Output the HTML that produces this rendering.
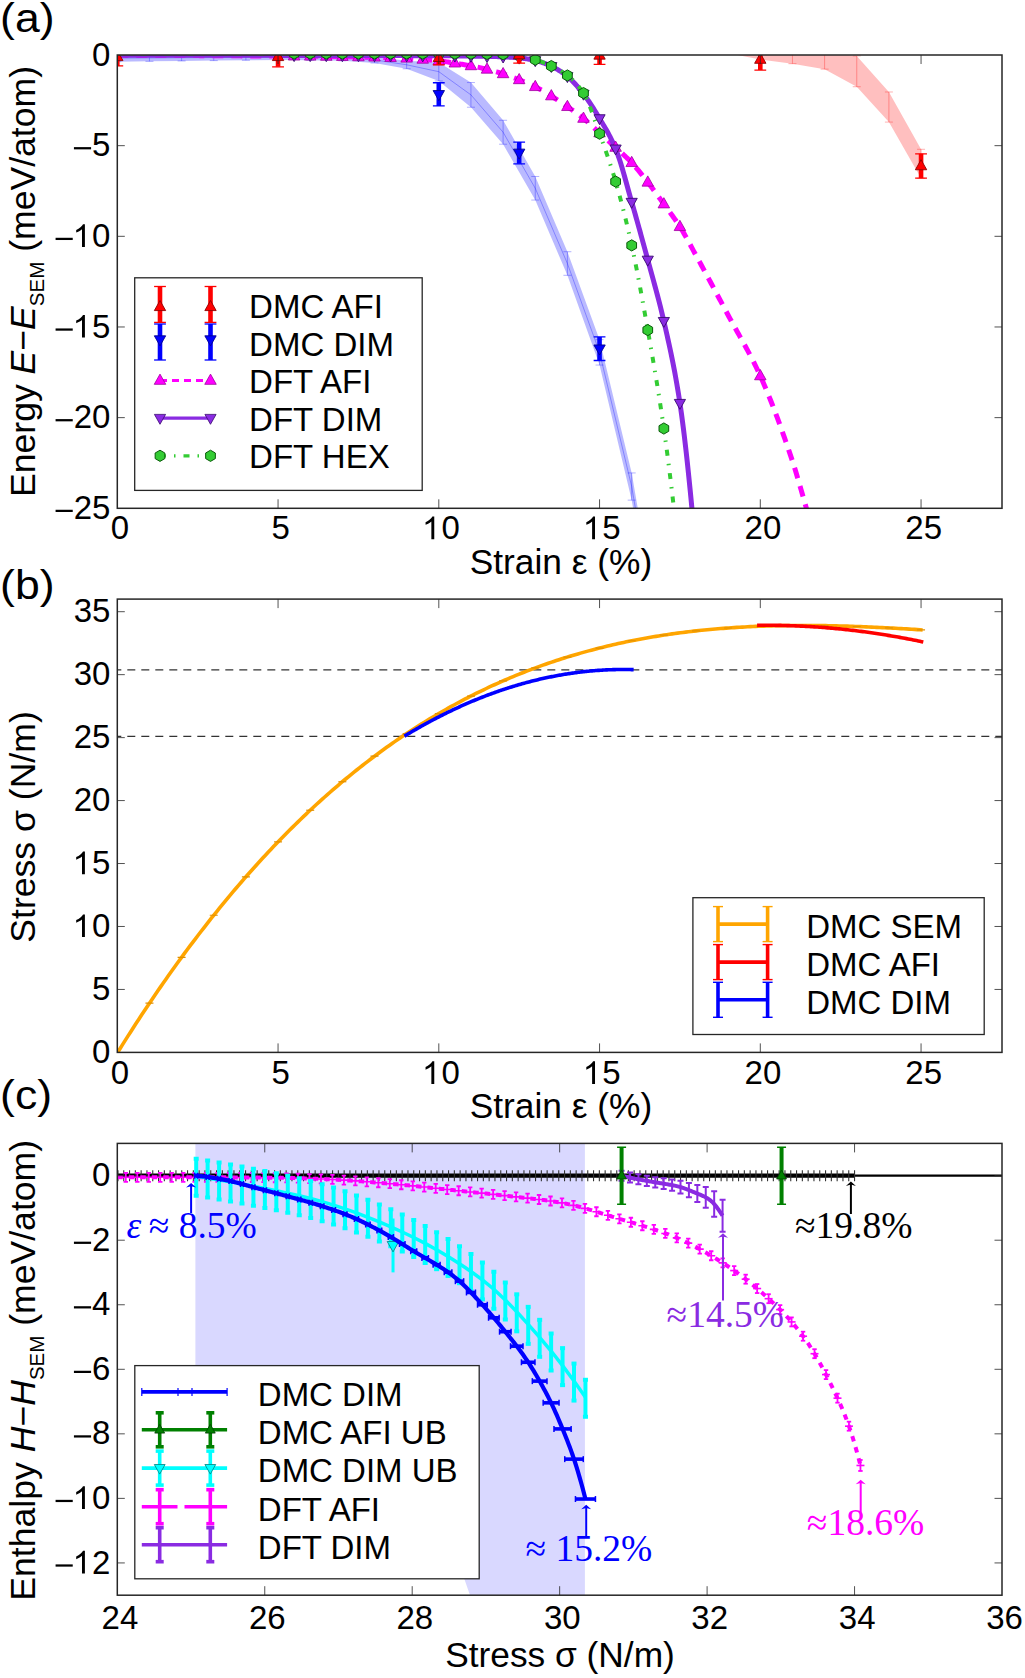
<!DOCTYPE html>
<html><head><meta charset="utf-8"><title>figure</title>
<style>html,body{margin:0;padding:0;background:#fff;}svg{display:block;}</style>
</head><body>
<svg width="1025" height="1678" viewBox="0 0 1025 1678">
<rect width="1025" height="1678" fill="#fff"/>
<defs>
<clipPath id="ca"><rect x="117.30" y="55.00" width="884.70" height="453.30"/></clipPath>
<clipPath id="cb"><rect x="117.30" y="599.10" width="884.70" height="453.30"/></clipPath>
<clipPath id="cc"><rect x="117.30" y="1143.40" width="884.70" height="451.80"/></clipPath>
</defs>
<g clip-path="url(#ca)">
<polygon points="117.30,54.46 149.45,54.46 181.60,54.46 213.75,54.46 245.90,54.46 278.05,54.64 310.20,54.82 342.35,55.36 374.50,56.81 406.65,60.80 438.80,62.43 470.95,82.56 503.10,120.28 535.25,176.48 567.40,251.73 599.55,339.67 631.70,472.94 647.77,566.32 647.77,595.33 631.70,500.14 599.55,365.06 567.40,275.30 535.25,200.06 503.10,144.21 470.95,107.22 438.80,80.93 406.65,68.78 374.50,62.98 342.35,60.80 310.20,60.26 278.05,60.08 245.90,60.26 213.75,60.62 181.60,60.98 149.45,61.35 117.30,61.71" fill="#0000ff" fill-opacity="0.27" stroke="none"/>
<polyline fill="none" stroke="#0000ff" stroke-width="1.0" points="117.30,58.08 149.45,57.90 181.60,57.72 213.75,57.54 245.90,57.36 278.05,57.36 310.20,57.54 342.35,58.08 374.50,59.90 406.65,64.79 438.80,71.68 470.95,94.89 503.10,132.24 535.25,188.27 567.40,263.52 599.55,352.36 631.70,486.54 647.77,580.83" stroke-opacity="0.3"/>
<g stroke-opacity="0.3"><line x1="117.30" y1="54.46" x2="117.30" y2="61.71" stroke="#0000ff" stroke-width="1.0"/><line x1="113.30" y1="54.46" x2="121.30" y2="54.46" stroke="#0000ff" stroke-width="1.0"/><line x1="113.30" y1="61.71" x2="121.30" y2="61.71" stroke="#0000ff" stroke-width="1.0"/></g>
<g stroke-opacity="0.3"><line x1="149.45" y1="54.46" x2="149.45" y2="61.35" stroke="#0000ff" stroke-width="1.0"/><line x1="145.45" y1="54.46" x2="153.45" y2="54.46" stroke="#0000ff" stroke-width="1.0"/><line x1="145.45" y1="61.35" x2="153.45" y2="61.35" stroke="#0000ff" stroke-width="1.0"/></g>
<g stroke-opacity="0.3"><line x1="181.60" y1="54.46" x2="181.60" y2="60.98" stroke="#0000ff" stroke-width="1.0"/><line x1="177.60" y1="54.46" x2="185.60" y2="54.46" stroke="#0000ff" stroke-width="1.0"/><line x1="177.60" y1="60.98" x2="185.60" y2="60.98" stroke="#0000ff" stroke-width="1.0"/></g>
<g stroke-opacity="0.3"><line x1="213.75" y1="54.46" x2="213.75" y2="60.62" stroke="#0000ff" stroke-width="1.0"/><line x1="209.75" y1="54.46" x2="217.75" y2="54.46" stroke="#0000ff" stroke-width="1.0"/><line x1="209.75" y1="60.62" x2="217.75" y2="60.62" stroke="#0000ff" stroke-width="1.0"/></g>
<g stroke-opacity="0.3"><line x1="245.90" y1="54.46" x2="245.90" y2="60.26" stroke="#0000ff" stroke-width="1.0"/><line x1="241.90" y1="54.46" x2="249.90" y2="54.46" stroke="#0000ff" stroke-width="1.0"/><line x1="241.90" y1="60.26" x2="249.90" y2="60.26" stroke="#0000ff" stroke-width="1.0"/></g>
<g stroke-opacity="0.3"><line x1="278.05" y1="54.64" x2="278.05" y2="60.08" stroke="#0000ff" stroke-width="1.0"/><line x1="274.05" y1="54.64" x2="282.05" y2="54.64" stroke="#0000ff" stroke-width="1.0"/><line x1="274.05" y1="60.08" x2="282.05" y2="60.08" stroke="#0000ff" stroke-width="1.0"/></g>
<g stroke-opacity="0.3"><line x1="310.20" y1="54.82" x2="310.20" y2="60.26" stroke="#0000ff" stroke-width="1.0"/><line x1="306.20" y1="54.82" x2="314.20" y2="54.82" stroke="#0000ff" stroke-width="1.0"/><line x1="306.20" y1="60.26" x2="314.20" y2="60.26" stroke="#0000ff" stroke-width="1.0"/></g>
<g stroke-opacity="0.3"><line x1="342.35" y1="55.36" x2="342.35" y2="60.80" stroke="#0000ff" stroke-width="1.0"/><line x1="338.35" y1="55.36" x2="346.35" y2="55.36" stroke="#0000ff" stroke-width="1.0"/><line x1="338.35" y1="60.80" x2="346.35" y2="60.80" stroke="#0000ff" stroke-width="1.0"/></g>
<g stroke-opacity="0.3"><line x1="374.50" y1="56.81" x2="374.50" y2="62.98" stroke="#0000ff" stroke-width="1.0"/><line x1="370.50" y1="56.81" x2="378.50" y2="56.81" stroke="#0000ff" stroke-width="1.0"/><line x1="370.50" y1="62.98" x2="378.50" y2="62.98" stroke="#0000ff" stroke-width="1.0"/></g>
<g stroke-opacity="0.3"><line x1="406.65" y1="60.80" x2="406.65" y2="68.78" stroke="#0000ff" stroke-width="1.0"/><line x1="402.65" y1="60.80" x2="410.65" y2="60.80" stroke="#0000ff" stroke-width="1.0"/><line x1="402.65" y1="68.78" x2="410.65" y2="68.78" stroke="#0000ff" stroke-width="1.0"/></g>
<g stroke-opacity="0.3"><line x1="438.80" y1="62.43" x2="438.80" y2="80.93" stroke="#0000ff" stroke-width="1.0"/><line x1="434.80" y1="62.43" x2="442.80" y2="62.43" stroke="#0000ff" stroke-width="1.0"/><line x1="434.80" y1="80.93" x2="442.80" y2="80.93" stroke="#0000ff" stroke-width="1.0"/></g>
<g stroke-opacity="0.3"><line x1="470.95" y1="82.56" x2="470.95" y2="107.22" stroke="#0000ff" stroke-width="1.0"/><line x1="466.95" y1="82.56" x2="474.95" y2="82.56" stroke="#0000ff" stroke-width="1.0"/><line x1="466.95" y1="107.22" x2="474.95" y2="107.22" stroke="#0000ff" stroke-width="1.0"/></g>
<g stroke-opacity="0.3"><line x1="503.10" y1="120.28" x2="503.10" y2="144.21" stroke="#0000ff" stroke-width="1.0"/><line x1="499.10" y1="120.28" x2="507.10" y2="120.28" stroke="#0000ff" stroke-width="1.0"/><line x1="499.10" y1="144.21" x2="507.10" y2="144.21" stroke="#0000ff" stroke-width="1.0"/></g>
<g stroke-opacity="0.3"><line x1="535.25" y1="176.48" x2="535.25" y2="200.06" stroke="#0000ff" stroke-width="1.0"/><line x1="531.25" y1="176.48" x2="539.25" y2="176.48" stroke="#0000ff" stroke-width="1.0"/><line x1="531.25" y1="200.06" x2="539.25" y2="200.06" stroke="#0000ff" stroke-width="1.0"/></g>
<g stroke-opacity="0.3"><line x1="567.40" y1="251.73" x2="567.40" y2="275.30" stroke="#0000ff" stroke-width="1.0"/><line x1="563.40" y1="251.73" x2="571.40" y2="251.73" stroke="#0000ff" stroke-width="1.0"/><line x1="563.40" y1="275.30" x2="571.40" y2="275.30" stroke="#0000ff" stroke-width="1.0"/></g>
<g stroke-opacity="0.3"><line x1="599.55" y1="339.67" x2="599.55" y2="365.06" stroke="#0000ff" stroke-width="1.0"/><line x1="595.55" y1="339.67" x2="603.55" y2="339.67" stroke="#0000ff" stroke-width="1.0"/><line x1="595.55" y1="365.06" x2="603.55" y2="365.06" stroke="#0000ff" stroke-width="1.0"/></g>
<g stroke-opacity="0.3"><line x1="631.70" y1="472.94" x2="631.70" y2="500.14" stroke="#0000ff" stroke-width="1.0"/><line x1="627.70" y1="472.94" x2="635.70" y2="472.94" stroke="#0000ff" stroke-width="1.0"/><line x1="627.70" y1="500.14" x2="635.70" y2="500.14" stroke="#0000ff" stroke-width="1.0"/></g>
<polygon points="728.15,38.68 760.30,44.12 792.45,49.56 824.60,52.28 856.75,55.91 888.90,91.99 921.05,149.29 921.05,178.30 888.90,122.09 856.75,86.73 824.60,69.14 792.45,63.70 760.30,59.53 728.15,53.19" fill="#ff0000" fill-opacity="0.25" stroke="none"/>
<g stroke-opacity="0.3"><line x1="728.15" y1="38.68" x2="728.15" y2="53.19" stroke="#ff0000" stroke-width="1.0"/><line x1="724.15" y1="38.68" x2="732.15" y2="38.68" stroke="#ff0000" stroke-width="1.0"/><line x1="724.15" y1="53.19" x2="732.15" y2="53.19" stroke="#ff0000" stroke-width="1.0"/></g>
<g stroke-opacity="0.3"><line x1="760.30" y1="44.12" x2="760.30" y2="59.53" stroke="#ff0000" stroke-width="1.0"/><line x1="756.30" y1="44.12" x2="764.30" y2="44.12" stroke="#ff0000" stroke-width="1.0"/><line x1="756.30" y1="59.53" x2="764.30" y2="59.53" stroke="#ff0000" stroke-width="1.0"/></g>
<g stroke-opacity="0.3"><line x1="792.45" y1="49.56" x2="792.45" y2="63.70" stroke="#ff0000" stroke-width="1.0"/><line x1="788.45" y1="49.56" x2="796.45" y2="49.56" stroke="#ff0000" stroke-width="1.0"/><line x1="788.45" y1="63.70" x2="796.45" y2="63.70" stroke="#ff0000" stroke-width="1.0"/></g>
<g stroke-opacity="0.3"><line x1="824.60" y1="52.28" x2="824.60" y2="69.14" stroke="#ff0000" stroke-width="1.0"/><line x1="820.60" y1="52.28" x2="828.60" y2="52.28" stroke="#ff0000" stroke-width="1.0"/><line x1="820.60" y1="69.14" x2="828.60" y2="69.14" stroke="#ff0000" stroke-width="1.0"/></g>
<g stroke-opacity="0.3"><line x1="856.75" y1="55.91" x2="856.75" y2="86.73" stroke="#ff0000" stroke-width="1.0"/><line x1="852.75" y1="55.91" x2="860.75" y2="55.91" stroke="#ff0000" stroke-width="1.0"/><line x1="852.75" y1="86.73" x2="860.75" y2="86.73" stroke="#ff0000" stroke-width="1.0"/></g>
<g stroke-opacity="0.3"><line x1="888.90" y1="91.99" x2="888.90" y2="122.09" stroke="#ff0000" stroke-width="1.0"/><line x1="884.90" y1="91.99" x2="892.90" y2="91.99" stroke="#ff0000" stroke-width="1.0"/><line x1="884.90" y1="122.09" x2="892.90" y2="122.09" stroke="#ff0000" stroke-width="1.0"/></g>
<g stroke-opacity="0.3"><line x1="921.05" y1="149.29" x2="921.05" y2="178.30" stroke="#ff0000" stroke-width="1.0"/><line x1="917.05" y1="149.29" x2="925.05" y2="149.29" stroke="#ff0000" stroke-width="1.0"/><line x1="917.05" y1="178.30" x2="925.05" y2="178.30" stroke="#ff0000" stroke-width="1.0"/></g>
<polyline fill="none" stroke="#ff00ff" stroke-width="5.0" points="117.30,55.36 118.48,55.36 119.66,55.37 120.84,55.37 122.02,55.37 123.20,55.37 124.38,55.37 125.57,55.38 126.75,55.38 127.93,55.38 129.11,55.38 130.29,55.39 131.47,55.39 132.65,55.39 133.83,55.39 135.01,55.40 136.19,55.40 137.37,55.40 138.55,55.40 139.74,55.41 140.92,55.41 142.10,55.41 143.28,55.42 144.46,55.42 145.64,55.42 146.82,55.43 148.00,55.43 149.18,55.43 150.36,55.44 151.54,55.44 152.72,55.44 153.90,55.45 155.09,55.45 156.27,55.46 157.45,55.46 158.63,55.46 159.81,55.47 160.99,55.47 162.17,55.47 163.35,55.48 164.53,55.48 165.71,55.49 166.89,55.49 168.07,55.49 169.26,55.50 170.44,55.50 171.62,55.51 172.80,55.51 173.98,55.52 175.16,55.52 176.34,55.52 177.52,55.53 178.70,55.53 179.88,55.54 181.06,55.54 182.24,55.55 183.42,55.55 184.61,55.56 185.79,55.56 186.97,55.57 188.15,55.57 189.33,55.58 190.51,55.58 191.69,55.59 192.87,55.59 194.05,55.60 195.23,55.60 196.41,55.61 197.59,55.62 198.78,55.62 199.96,55.63 201.14,55.64 202.32,55.64 203.50,55.65 204.68,55.66 205.86,55.66 207.04,55.67 208.22,55.68 209.40,55.68 210.58,55.69 211.76,55.70 212.94,55.71 214.13,55.71 215.31,55.72 216.49,55.73 217.67,55.73 218.85,55.74 220.03,55.75 221.21,55.76 222.39,55.76 223.57,55.77 224.75,55.78 225.93,55.79 227.11,55.79 228.30,55.80 229.48,55.81 230.66,55.82 231.84,55.82 233.02,55.83 234.20,55.84 235.38,55.84 236.56,55.85 237.74,55.86 238.92,55.87 240.10,55.87 241.28,55.88 242.46,55.89 243.65,55.89 244.83,55.90 246.01,55.91 247.19,55.91 248.37,55.92 249.55,55.93 250.73,55.93 251.91,55.94 253.09,55.95 254.27,55.95 255.45,55.96 256.63,55.96 257.82,55.97 259.00,55.98 260.18,55.98 261.36,55.99 262.54,55.99 263.72,56.00 264.90,56.00 266.08,56.01 267.26,56.02 268.44,56.02 269.62,56.03 270.80,56.03 271.98,56.04 273.17,56.04 274.35,56.05 275.53,56.06 276.71,56.06 277.89,56.07 279.07,56.07 280.25,56.08 281.43,56.09 282.61,56.09 283.79,56.10 284.97,56.10 286.15,56.11 287.34,56.12 288.52,56.12 289.70,56.13 290.88,56.14 292.06,56.14 293.24,56.15 294.42,56.16 295.60,56.17 296.78,56.17 297.96,56.18 299.14,56.19 300.32,56.20 301.51,56.20 302.69,56.21 303.87,56.22 305.05,56.23 306.23,56.24 307.41,56.25 308.59,56.26 309.77,56.27 310.95,56.28 312.13,56.29 313.31,56.30 314.49,56.31 315.67,56.32 316.86,56.33 318.04,56.34 319.22,56.35 320.40,56.36 321.58,56.37 322.76,56.38 323.94,56.40 325.12,56.41 326.30,56.42 327.48,56.43 328.66,56.45 329.84,56.46 331.03,56.47 332.21,56.49 333.39,56.50 334.57,56.52 335.75,56.53 336.93,56.55 338.11,56.56 339.29,56.58 340.47,56.59 341.65,56.61 342.83,56.63 344.01,56.64 345.19,56.66 346.38,56.68 347.56,56.69 348.74,56.71 349.92,56.73 351.10,56.75 352.28,56.77 353.46,56.79 354.64,56.81 355.82,56.83 357.00,56.85 358.18,56.87 359.36,56.89 360.55,56.91 361.73,56.93 362.91,56.95 364.09,56.97 365.27,56.99 366.45,57.02 367.63,57.04 368.81,57.06 369.99,57.08 371.17,57.11 372.35,57.13 373.53,57.16 374.71,57.18 375.90,57.21 377.08,57.23 378.26,57.26 379.44,57.29 380.62,57.32 381.80,57.35 382.98,57.38 384.16,57.41 385.34,57.45 386.52,57.48 387.70,57.52 388.88,57.56 390.07,57.60 391.25,57.64 392.43,57.68 393.61,57.72 394.79,57.77 395.97,57.81 397.15,57.86 398.33,57.90 399.51,57.95 400.69,58.00 401.87,58.05 403.05,58.10 404.23,58.15 405.42,58.21 406.60,58.26 407.78,58.32 408.96,58.38 410.14,58.45 411.32,58.52 412.50,58.60 413.68,58.68 414.86,58.76 416.04,58.84 417.22,58.93 418.40,59.02 419.59,59.11 420.77,59.20 421.95,59.29 423.13,59.38 424.31,59.47 425.49,59.57 426.67,59.66 427.85,59.76 429.03,59.86 430.21,59.96 431.39,60.06 432.57,60.17 433.75,60.28 434.94,60.40 436.12,60.52 437.30,60.64 438.48,60.77 439.66,60.90 440.84,61.04 442.02,61.20 443.20,61.36 444.38,61.52 445.56,61.70 446.74,61.88 447.92,62.06 449.11,62.24 450.29,62.43 451.47,62.62 452.65,62.81 453.83,62.99 455.01,63.18 456.19,63.37 457.37,63.55 458.55,63.74 459.73,63.93 460.91,64.12 462.09,64.32 463.27,64.52 464.46,64.72 465.64,64.92 466.82,65.13 468.00,65.34 469.18,65.55 470.36,65.77 471.54,65.99 472.72,66.22 473.90,66.45 475.08,66.68 476.26,66.92 477.44,67.17 478.63,67.42 479.81,67.67 480.99,67.93 482.17,68.19 483.35,68.46 484.53,68.73 485.71,69.01 486.89,69.29 488.07,69.58 489.25,69.88 490.43,70.18 491.61,70.49 492.79,70.81 493.98,71.13 495.16,71.46 496.34,71.80 497.52,72.14 498.70,72.49 499.88,72.85 501.06,73.21 502.24,73.58 503.42,73.96 504.60,74.35 505.78,74.75 506.96,75.16 508.15,75.58 509.33,76.02 510.51,76.46 511.69,76.90 512.87,77.36 514.05,77.81 515.23,78.28 516.41,78.74 517.59,79.21 518.77,79.68 519.95,80.15 521.13,80.62 522.31,81.09 523.50,81.57 524.68,82.05 525.86,82.53 527.04,83.03 528.22,83.53 529.40,84.03 530.58,84.55 531.76,85.08 532.94,85.63 534.12,86.18 535.30,86.76 536.48,87.35 537.67,87.96 538.85,88.59 540.03,89.24 541.21,89.90 542.39,90.58 543.57,91.27 544.75,91.97 545.93,92.67 547.11,93.39 548.29,94.11 549.47,94.84 550.65,95.56 551.83,96.29 553.02,97.03 554.20,97.78 555.38,98.54 556.56,99.31 557.74,100.09 558.92,100.87 560.10,101.66 561.28,102.46 562.46,103.26 563.64,104.07 564.82,104.89 566.00,105.70 567.19,106.53 568.37,107.35 569.55,108.17 570.73,109.00 571.91,109.83 573.09,110.66 574.27,111.51 575.45,112.36 576.63,113.21 577.81,114.08 578.99,114.97 580.17,115.86 581.35,116.78 582.54,117.71 583.72,118.66 584.90,119.64 586.08,120.64 587.26,121.67 588.44,122.72 589.62,123.79 590.80,124.87 591.98,125.96 593.16,127.06 594.34,128.16 595.52,129.26 596.71,130.36 597.89,131.45 599.07,132.53 600.25,133.60 601.43,134.66 602.61,135.72 603.79,136.78 604.97,137.83 606.15,138.89 607.33,139.95 608.51,141.01 609.69,142.07 610.87,143.14 612.06,144.20 613.24,145.28 614.42,146.36 615.60,147.45 616.78,148.53 617.96,149.61 619.14,150.68 620.32,151.75 621.50,152.83 622.68,153.90 623.86,154.99 625.04,156.09 626.23,157.21 627.41,158.34 628.59,159.50 629.77,160.69 630.95,161.91 632.13,163.16 633.31,164.46 634.49,165.79 635.67,167.15 636.85,168.55 638.03,169.97 639.21,171.41 640.39,172.88 641.58,174.36 642.76,175.86 643.94,177.36 645.12,178.88 646.30,180.39 647.48,181.91 648.66,183.43 649.84,184.97 651.02,186.52 652.20,188.09 653.38,189.67 654.56,191.27 655.75,192.88 656.93,194.49 658.11,196.11 659.29,197.74 660.47,199.37 661.65,201.00 662.83,202.64 664.01,204.27 665.19,205.89 666.37,207.50 667.55,209.10 668.73,210.69 669.92,212.29 671.10,213.90 672.28,215.53 673.46,217.17 674.64,218.83 675.82,220.52 677.00,222.25 678.18,224.02 679.36,225.83 680.54,227.69 681.72,229.61 682.90,231.59 684.08,233.62 685.27,235.69 686.45,237.80 687.63,239.94 688.81,242.10 689.99,244.27 691.17,246.46 692.35,248.65 693.53,250.83 694.71,253.01 695.89,255.16 697.07,257.31 698.25,259.46 699.44,261.62 700.62,263.79 701.80,265.96 702.98,268.14 704.16,270.32 705.34,272.50 706.52,274.69 707.70,276.89 708.88,279.08 710.06,281.28 711.24,283.49 712.42,285.69 713.60,287.90 714.79,290.11 715.97,292.32 717.15,294.54 718.33,296.75 719.51,298.97 720.69,301.19 721.87,303.41 723.05,305.62 724.23,307.84 725.41,310.06 726.59,312.27 727.77,314.49 728.96,316.70 730.14,318.88 731.32,321.05 732.50,323.20 733.68,325.34 734.86,327.46 736.04,329.57 737.22,331.68 738.40,333.79 739.58,335.90 740.76,338.01 741.94,340.12 743.12,342.25 744.31,344.38 745.49,346.53 746.67,348.70 747.85,350.89 749.03,353.10 750.21,355.34 751.39,357.60 752.57,359.90 753.75,362.23 754.93,364.61 756.11,367.02 757.29,369.47 758.48,371.97 759.66,374.52 760.84,377.13 762.02,379.77 763.20,382.47 764.38,385.20 765.56,387.98 766.74,390.80 767.92,393.67 769.10,396.57 770.28,399.51 771.46,402.50 772.64,405.52 773.83,408.58 775.01,411.67 776.19,414.80 777.37,417.97 778.55,421.17 779.73,424.40 780.91,427.67 782.09,430.97 783.27,434.30 784.45,437.66 785.63,441.05 786.81,444.47 788.00,447.91 789.18,451.39 790.36,454.89 791.54,458.41 792.72,461.97 793.90,465.62 795.08,469.37 796.26,473.23 797.44,477.17 798.62,481.18 799.80,485.24 800.98,489.34 802.16,493.47 803.35,497.61 804.53,501.75 805.71,505.87 806.89,509.96 808.07,514.00 809.25,518.00 810.43,522.00 811.61,526.00 812.79,529.99 813.97,533.99 815.15,537.98 816.33,541.98 817.52,545.97 818.70,549.97 819.88,553.97 821.06,557.96 822.24,561.96 823.42,565.95 824.60,569.95" stroke-dasharray="11,8"/>
<polyline fill="none" stroke="#8a2be2" stroke-width="5.0" points="117.30,55.36 118.27,55.36 119.23,55.36 120.20,55.36 121.16,55.36 122.13,55.36 123.10,55.36 124.06,55.36 125.03,55.36 125.99,55.36 126.96,55.36 127.93,55.36 128.89,55.36 129.86,55.36 130.83,55.36 131.79,55.36 132.76,55.36 133.72,55.36 134.69,55.36 135.66,55.36 136.62,55.36 137.59,55.36 138.55,55.36 139.52,55.36 140.49,55.36 141.45,55.36 142.42,55.36 143.38,55.36 144.35,55.36 145.32,55.36 146.28,55.36 147.25,55.36 148.22,55.36 149.18,55.36 150.15,55.36 151.11,55.36 152.08,55.36 153.05,55.36 154.01,55.36 154.98,55.36 155.94,55.36 156.91,55.36 157.88,55.36 158.84,55.36 159.81,55.36 160.77,55.36 161.74,55.36 162.71,55.36 163.67,55.36 164.64,55.36 165.61,55.36 166.57,55.36 167.54,55.36 168.50,55.36 169.47,55.36 170.44,55.36 171.40,55.36 172.37,55.36 173.33,55.36 174.30,55.36 175.27,55.36 176.23,55.36 177.20,55.36 178.16,55.36 179.13,55.36 180.10,55.36 181.06,55.36 182.03,55.36 183.00,55.36 183.96,55.36 184.93,55.36 185.89,55.36 186.86,55.36 187.83,55.36 188.79,55.36 189.76,55.36 190.72,55.36 191.69,55.36 192.66,55.36 193.62,55.36 194.59,55.36 195.55,55.36 196.52,55.36 197.49,55.36 198.45,55.36 199.42,55.36 200.39,55.36 201.35,55.36 202.32,55.36 203.28,55.36 204.25,55.36 205.22,55.36 206.18,55.36 207.15,55.36 208.11,55.36 209.08,55.36 210.05,55.36 211.01,55.36 211.98,55.36 212.94,55.36 213.91,55.36 214.88,55.36 215.84,55.36 216.81,55.36 217.78,55.36 218.74,55.36 219.71,55.36 220.67,55.36 221.64,55.36 222.61,55.36 223.57,55.36 224.54,55.36 225.50,55.36 226.47,55.36 227.44,55.36 228.40,55.36 229.37,55.36 230.33,55.36 231.30,55.36 232.27,55.36 233.23,55.36 234.20,55.36 235.17,55.36 236.13,55.36 237.10,55.36 238.06,55.36 239.03,55.36 240.00,55.36 240.96,55.36 241.93,55.36 242.89,55.36 243.86,55.36 244.83,55.36 245.79,55.36 246.76,55.36 247.72,55.36 248.69,55.36 249.66,55.36 250.62,55.36 251.59,55.36 252.56,55.36 253.52,55.36 254.49,55.36 255.45,55.36 256.42,55.36 257.39,55.36 258.35,55.37 259.32,55.37 260.28,55.37 261.25,55.37 262.22,55.37 263.18,55.37 264.15,55.37 265.11,55.37 266.08,55.37 267.05,55.37 268.01,55.37 268.98,55.37 269.95,55.37 270.91,55.37 271.88,55.37 272.84,55.37 273.81,55.38 274.78,55.38 275.74,55.38 276.71,55.38 277.67,55.38 278.64,55.38 279.61,55.38 280.57,55.38 281.54,55.38 282.50,55.38 283.47,55.38 284.44,55.39 285.40,55.39 286.37,55.39 287.34,55.39 288.30,55.39 289.27,55.39 290.23,55.39 291.20,55.39 292.17,55.40 293.13,55.40 294.10,55.40 295.06,55.40 296.03,55.40 297.00,55.40 297.96,55.40 298.93,55.40 299.89,55.41 300.86,55.41 301.83,55.41 302.79,55.41 303.76,55.41 304.73,55.41 305.69,55.41 306.66,55.42 307.62,55.42 308.59,55.42 309.56,55.42 310.52,55.42 311.49,55.42 312.45,55.43 313.42,55.43 314.39,55.43 315.35,55.43 316.32,55.43 317.28,55.43 318.25,55.44 319.22,55.44 320.18,55.44 321.15,55.44 322.12,55.44 323.08,55.44 324.05,55.45 325.01,55.45 325.98,55.45 326.95,55.45 327.91,55.45 328.88,55.45 329.84,55.46 330.81,55.46 331.78,55.46 332.74,55.46 333.71,55.46 334.67,55.47 335.64,55.47 336.61,55.47 337.57,55.47 338.54,55.47 339.51,55.47 340.47,55.48 341.44,55.48 342.40,55.48 343.37,55.48 344.34,55.48 345.30,55.49 346.27,55.49 347.23,55.49 348.20,55.49 349.17,55.49 350.13,55.50 351.10,55.50 352.06,55.50 353.03,55.50 354.00,55.50 354.96,55.51 355.93,55.51 356.90,55.51 357.86,55.51 358.83,55.51 359.79,55.51 360.76,55.52 361.73,55.52 362.69,55.52 363.66,55.52 364.62,55.52 365.59,55.53 366.56,55.53 367.52,55.53 368.49,55.53 369.45,55.53 370.42,55.54 371.39,55.54 372.35,55.54 373.32,55.54 374.29,55.54 375.25,55.55 376.22,55.55 377.18,55.55 378.15,55.55 379.12,55.55 380.08,55.55 381.05,55.56 382.01,55.56 382.98,55.56 383.95,55.56 384.91,55.56 385.88,55.57 386.84,55.57 387.81,55.57 388.78,55.57 389.74,55.57 390.71,55.58 391.68,55.58 392.64,55.58 393.61,55.58 394.57,55.58 395.54,55.59 396.51,55.59 397.47,55.59 398.44,55.59 399.40,55.59 400.37,55.60 401.34,55.60 402.30,55.60 403.27,55.60 404.23,55.61 405.20,55.61 406.17,55.61 407.13,55.61 408.10,55.62 409.07,55.62 410.03,55.62 411.00,55.62 411.96,55.63 412.93,55.63 413.90,55.63 414.86,55.63 415.83,55.64 416.79,55.64 417.76,55.64 418.73,55.65 419.69,55.65 420.66,55.65 421.62,55.66 422.59,55.66 423.56,55.66 424.52,55.67 425.49,55.67 426.46,55.67 427.42,55.68 428.39,55.68 429.35,55.68 430.32,55.69 431.29,55.69 432.25,55.70 433.22,55.70 434.18,55.70 435.15,55.71 436.12,55.71 437.08,55.72 438.05,55.72 439.01,55.73 439.98,55.73 440.95,55.74 441.91,55.74 442.88,55.75 443.85,55.76 444.81,55.76 445.78,55.77 446.74,55.78 447.71,55.79 448.68,55.80 449.64,55.81 450.61,55.82 451.57,55.83 452.54,55.84 453.51,55.85 454.47,55.86 455.44,55.87 456.40,55.88 457.37,55.90 458.34,55.91 459.30,55.92 460.27,55.93 461.24,55.95 462.20,55.96 463.17,55.97 464.13,55.99 465.10,56.00 466.07,56.02 467.03,56.03 468.00,56.04 468.96,56.06 469.93,56.07 470.90,56.09 471.86,56.10 472.83,56.12 473.79,56.13 474.76,56.15 475.73,56.16 476.69,56.18 477.66,56.19 478.63,56.21 479.59,56.23 480.56,56.24 481.52,56.26 482.49,56.28 483.46,56.30 484.42,56.31 485.39,56.33 486.35,56.35 487.32,56.37 488.29,56.39 489.25,56.42 490.22,56.44 491.18,56.46 492.15,56.48 493.12,56.51 494.08,56.53 495.05,56.56 496.02,56.59 496.98,56.61 497.95,56.64 498.91,56.67 499.88,56.70 500.85,56.74 501.81,56.77 502.78,56.80 503.74,56.84 504.71,56.88 505.68,56.92 506.64,56.97 507.61,57.02 508.57,57.07 509.54,57.13 510.51,57.20 511.47,57.26 512.44,57.33 513.41,57.40 514.37,57.48 515.34,57.56 516.30,57.64 517.27,57.73 518.24,57.81 519.20,57.90 520.17,58.00 521.13,58.10 522.10,58.21 523.07,58.33 524.03,58.46 525.00,58.59 525.96,58.73 526.93,58.87 527.90,59.03 528.86,59.19 529.83,59.36 530.80,59.54 531.76,59.72 532.73,59.91 533.69,60.11 534.66,60.31 535.63,60.52 536.59,60.75 537.56,61.01 538.52,61.28 539.49,61.56 540.46,61.87 541.42,62.19 542.39,62.53 543.35,62.88 544.32,63.25 545.29,63.63 546.25,64.02 547.22,64.43 548.19,64.84 549.15,65.26 550.12,65.69 551.08,66.13 552.05,66.58 553.02,67.05 553.98,67.54 554.95,68.05 555.91,68.58 556.88,69.13 557.85,69.70 558.81,70.29 559.78,70.90 560.74,71.53 561.71,72.18 562.68,72.84 563.64,73.53 564.61,74.24 565.58,74.97 566.54,75.72 567.51,76.48 568.47,77.28 569.44,78.13 570.41,79.02 571.37,79.95 572.34,80.92 573.30,81.92 574.27,82.95 575.24,84.02 576.20,85.11 577.17,86.23 578.13,87.37 579.10,88.53 580.07,89.71 581.03,90.90 582.00,92.11 582.97,93.34 583.93,94.57 584.90,95.84 585.86,97.14 586.83,98.48 587.80,99.85 588.76,101.25 589.73,102.68 590.69,104.14 591.66,105.63 592.63,107.13 593.59,108.66 594.56,110.21 595.52,111.78 596.49,113.36 597.46,114.96 598.42,116.57 599.39,118.19 600.36,119.81 601.32,121.43 602.29,123.04 603.25,124.66 604.22,126.29 605.19,127.94 606.15,129.61 607.12,131.32 608.08,133.06 609.05,134.85 610.02,136.69 610.98,138.59 611.95,140.55 612.91,142.59 613.88,144.70 614.85,146.90 615.81,149.20 616.78,151.65 617.75,154.28 618.71,157.07 619.68,160.01 620.64,163.07 621.61,166.24 622.58,169.52 623.54,172.87 624.51,176.28 625.47,179.74 626.44,183.23 627.41,186.73 628.37,190.23 629.34,193.72 630.30,197.16 631.27,200.56 632.24,203.91 633.20,207.26 634.17,210.64 635.14,214.04 636.10,217.46 637.07,220.89 638.03,224.34 639.00,227.81 639.97,231.29 640.93,234.79 641.90,238.30 642.86,241.82 643.83,245.36 644.80,248.90 645.76,252.46 646.73,256.02 647.69,259.59 648.66,263.16 649.63,266.69 650.59,270.20 651.56,273.70 652.53,277.20 653.49,280.70 654.46,284.22 655.42,287.77 656.39,291.35 657.36,294.98 658.32,298.65 659.29,302.39 660.25,306.21 661.22,310.10 662.19,314.08 663.15,318.16 664.12,322.35 665.08,326.57 666.05,330.80 667.02,335.07 667.98,339.38 668.95,343.76 669.92,348.23 670.88,352.79 671.85,357.46 672.81,362.26 673.78,367.21 674.75,372.32 675.71,377.61 676.68,383.09 677.64,388.78 678.61,394.69 679.58,400.85 680.54,407.29 681.51,414.11 682.47,421.30 683.44,428.84 684.41,436.74 685.37,444.96 686.34,453.51 687.31,462.36 688.27,471.50 689.24,480.93 690.20,490.62 691.17,500.56 692.14,510.75 693.10,521.16 694.07,531.79 695.03,542.62 696.00,553.63" />
<polyline fill="none" stroke="#33cc33" stroke-width="4.0" points="117.30,53.55 118.24,53.55 119.18,53.55 120.12,53.55 121.06,53.55 122.00,53.55 122.94,53.55 123.87,53.55 124.81,53.55 125.75,53.55 126.69,53.55 127.63,53.55 128.57,53.55 129.51,53.55 130.45,53.55 131.39,53.55 132.33,53.55 133.27,53.55 134.21,53.55 135.15,53.55 136.09,53.55 137.02,53.55 137.96,53.55 138.90,53.55 139.84,53.55 140.78,53.55 141.72,53.55 142.66,53.55 143.60,53.55 144.54,53.55 145.48,53.55 146.42,53.55 147.36,53.55 148.30,53.55 149.24,53.55 150.17,53.55 151.11,53.55 152.05,53.55 152.99,53.55 153.93,53.55 154.87,53.55 155.81,53.55 156.75,53.55 157.69,53.55 158.63,53.55 159.57,53.55 160.51,53.55 161.45,53.55 162.39,53.55 163.32,53.55 164.26,53.55 165.20,53.55 166.14,53.55 167.08,53.55 168.02,53.55 168.96,53.55 169.90,53.55 170.84,53.55 171.78,53.55 172.72,53.55 173.66,53.55 174.60,53.55 175.53,53.55 176.47,53.55 177.41,53.55 178.35,53.55 179.29,53.55 180.23,53.55 181.17,53.55 182.11,53.55 183.05,53.55 183.99,53.55 184.93,53.55 185.87,53.55 186.81,53.55 187.75,53.55 188.68,53.55 189.62,53.55 190.56,53.55 191.50,53.55 192.44,53.55 193.38,53.55 194.32,53.55 195.26,53.55 196.20,53.55 197.14,53.55 198.08,53.55 199.02,53.55 199.96,53.55 200.90,53.55 201.83,53.55 202.77,53.55 203.71,53.55 204.65,53.55 205.59,53.55 206.53,53.55 207.47,53.55 208.41,53.55 209.35,53.55 210.29,53.55 211.23,53.55 212.17,53.55 213.11,53.55 214.05,53.55 214.98,53.55 215.92,53.55 216.86,53.55 217.80,53.55 218.74,53.55 219.68,53.55 220.62,53.55 221.56,53.55 222.50,53.55 223.44,53.55 224.38,53.55 225.32,53.55 226.26,53.55 227.20,53.55 228.13,53.55 229.07,53.55 230.01,53.55 230.95,53.55 231.89,53.55 232.83,53.55 233.77,53.55 234.71,53.55 235.65,53.55 236.59,53.55 237.53,53.55 238.47,53.55 239.41,53.55 240.34,53.55 241.28,53.55 242.22,53.55 243.16,53.55 244.10,53.55 245.04,53.55 245.98,53.55 246.92,53.55 247.86,53.55 248.80,53.55 249.74,53.55 250.68,53.55 251.62,53.55 252.56,53.55 253.49,53.55 254.43,53.55 255.37,53.55 256.31,53.55 257.25,53.55 258.19,53.55 259.13,53.55 260.07,53.55 261.01,53.55 261.95,53.55 262.89,53.55 263.83,53.55 264.77,53.55 265.71,53.55 266.64,53.55 267.58,53.55 268.52,53.55 269.46,53.55 270.40,53.55 271.34,53.55 272.28,53.55 273.22,53.55 274.16,53.55 275.10,53.55 276.04,53.55 276.98,53.55 277.92,53.55 278.86,53.55 279.79,53.55 280.73,53.55 281.67,53.55 282.61,53.55 283.55,53.55 284.49,53.55 285.43,53.55 286.37,53.55 287.31,53.55 288.25,53.55 289.19,53.55 290.13,53.55 291.07,53.55 292.00,53.55 292.94,53.55 293.88,53.55 294.82,53.55 295.76,53.55 296.70,53.55 297.64,53.55 298.58,53.55 299.52,53.55 300.46,53.55 301.40,53.55 302.34,53.55 303.28,53.55 304.22,53.55 305.15,53.55 306.09,53.55 307.03,53.55 307.97,53.55 308.91,53.55 309.85,53.55 310.79,53.55 311.73,53.55 312.67,53.55 313.61,53.55 314.55,53.55 315.49,53.55 316.43,53.55 317.37,53.55 318.30,53.55 319.24,53.55 320.18,53.55 321.12,53.55 322.06,53.55 323.00,53.55 323.94,53.55 324.88,53.55 325.82,53.55 326.76,53.55 327.70,53.55 328.64,53.55 329.58,53.55 330.52,53.55 331.45,53.55 332.39,53.55 333.33,53.55 334.27,53.55 335.21,53.55 336.15,53.55 337.09,53.55 338.03,53.55 338.97,53.55 339.91,53.55 340.85,53.55 341.79,53.55 342.73,53.55 343.66,53.55 344.60,53.55 345.54,53.55 346.48,53.55 347.42,53.55 348.36,53.55 349.30,53.55 350.24,53.55 351.18,53.55 352.12,53.55 353.06,53.55 354.00,53.55 354.94,53.55 355.88,53.55 356.81,53.55 357.75,53.55 358.69,53.55 359.63,53.55 360.57,53.55 361.51,53.55 362.45,53.55 363.39,53.55 364.33,53.55 365.27,53.55 366.21,53.55 367.15,53.55 368.09,53.55 369.03,53.55 369.96,53.55 370.90,53.55 371.84,53.55 372.78,53.55 373.72,53.55 374.66,53.55 375.60,53.55 376.54,53.55 377.48,53.55 378.42,53.55 379.36,53.55 380.30,53.55 381.24,53.55 382.18,53.55 383.11,53.55 384.05,53.55 384.99,53.55 385.93,53.55 386.87,53.55 387.81,53.55 388.75,53.55 389.69,53.55 390.63,53.55 391.57,53.55 392.51,53.55 393.45,53.55 394.39,53.55 395.33,53.55 396.26,53.55 397.20,53.55 398.14,53.55 399.08,53.55 400.02,53.55 400.96,53.55 401.90,53.55 402.84,53.55 403.78,53.55 404.72,53.55 405.66,53.55 406.60,53.55 407.54,53.55 408.47,53.55 409.41,53.55 410.35,53.55 411.29,53.55 412.23,53.55 413.17,53.55 414.11,53.55 415.05,53.55 415.99,53.55 416.93,53.55 417.87,53.55 418.81,53.55 419.75,53.55 420.69,53.55 421.62,53.55 422.56,53.55 423.50,53.55 424.44,53.55 425.38,53.55 426.32,53.55 427.26,53.55 428.20,53.55 429.14,53.55 430.08,53.55 431.02,53.55 431.96,53.55 432.90,53.55 433.84,53.55 434.77,53.55 435.71,53.55 436.65,53.55 437.59,53.55 438.53,53.55 439.47,53.55 440.41,53.55 441.35,53.55 442.29,53.55 443.23,53.55 444.17,53.56 445.11,53.56 446.05,53.56 446.99,53.57 447.92,53.57 448.86,53.57 449.80,53.58 450.74,53.58 451.68,53.59 452.62,53.59 453.56,53.60 454.50,53.60 455.44,53.61 456.38,53.62 457.32,53.62 458.26,53.63 459.20,53.64 460.13,53.64 461.07,53.65 462.01,53.66 462.95,53.66 463.89,53.67 464.83,53.68 465.77,53.69 466.71,53.70 467.65,53.70 468.59,53.71 469.53,53.72 470.47,53.73 471.41,53.73 472.35,53.74 473.28,53.75 474.22,53.76 475.16,53.77 476.10,53.78 477.04,53.79 477.98,53.80 478.92,53.81 479.86,53.82 480.80,53.83 481.74,53.84 482.68,53.85 483.62,53.86 484.56,53.88 485.50,53.89 486.43,53.90 487.37,53.92 488.31,53.93 489.25,53.95 490.19,53.97 491.13,53.98 492.07,54.00 493.01,54.02 493.95,54.04 494.89,54.06 495.83,54.08 496.77,54.10 497.71,54.13 498.65,54.15 499.58,54.17 500.52,54.20 501.46,54.23 502.40,54.25 503.34,54.28 504.28,54.32 505.22,54.36 506.16,54.41 507.10,54.47 508.04,54.54 508.98,54.61 509.92,54.69 510.86,54.77 511.79,54.86 512.73,54.95 513.67,55.06 514.61,55.16 515.55,55.27 516.49,55.38 517.43,55.50 518.37,55.62 519.31,55.74 520.25,55.88 521.19,56.03 522.13,56.20 523.07,56.39 524.01,56.59 524.94,56.81 525.88,57.03 526.82,57.27 527.76,57.52 528.70,57.78 529.64,58.04 530.58,58.31 531.52,58.59 532.46,58.87 533.40,59.15 534.34,59.44 535.28,59.72 536.22,60.01 537.16,60.32 538.09,60.63 539.03,60.96 539.97,61.29 540.91,61.64 541.85,61.99 542.79,62.36 543.73,62.73 544.67,63.11 545.61,63.50 546.55,63.90 547.49,64.31 548.43,64.73 549.37,65.15 550.31,65.58 551.24,66.02 552.18,66.47 553.12,66.92 554.06,67.38 555.00,67.85 555.94,68.33 556.88,68.82 557.82,69.33 558.76,69.85 559.70,70.38 560.64,70.93 561.58,71.50 562.52,72.09 563.46,72.69 564.39,73.32 565.33,73.97 566.27,74.65 567.21,75.35 568.15,76.07 569.09,76.82 570.03,77.60 570.97,78.41 571.91,79.26 572.85,80.13 573.79,81.05 574.73,82.00 575.67,82.99 576.60,84.03 577.54,85.11 578.48,86.24 579.42,87.41 580.36,88.63 581.30,89.91 582.24,91.24 583.18,92.63 584.12,94.11 585.06,95.76 586.00,97.59 586.94,99.57 587.88,101.70 588.82,103.94 589.75,106.30 590.69,108.76 591.63,111.29 592.57,113.89 593.51,116.53 594.45,119.21 595.39,121.91 596.33,124.61 597.27,127.30 598.21,129.97 599.15,132.59 600.09,135.16 601.03,137.74 601.97,140.33 602.90,142.93 603.84,145.56 604.78,148.21 605.72,150.88 606.66,153.58 607.60,156.32 608.54,159.10 609.48,161.91 610.42,164.77 611.36,167.67 612.30,170.63 613.24,173.64 614.18,176.71 615.12,179.84 616.05,183.03 616.99,186.29 617.93,189.61 618.87,192.99 619.81,196.44 620.75,199.94 621.69,203.51 622.63,207.15 623.57,210.84 624.51,214.60 625.45,218.41 626.39,222.29 627.33,226.23 628.26,230.24 629.20,234.30 630.14,238.42 631.08,242.60 632.02,246.85 632.96,251.20 633.90,255.66 634.84,260.23 635.78,264.89 636.72,269.64 637.66,274.47 638.60,279.38 639.54,284.37 640.48,289.41 641.41,294.51 642.35,299.67 643.29,304.86 644.23,310.10 645.17,315.36 646.11,320.65 647.05,325.96 647.99,331.28 648.93,336.60 649.87,341.93 650.81,347.28 651.75,352.66 652.69,358.07 653.63,363.53 654.56,369.05 655.50,374.63 656.44,380.28 657.38,386.02 658.32,391.85 659.26,397.78 660.20,403.82 661.14,409.98 662.08,416.27 663.02,422.70 663.96,429.28 664.90,436.01 665.84,442.90 666.78,449.94 667.71,457.13 668.65,464.47 669.59,471.95 670.53,479.57 671.47,487.32 672.41,495.21 673.35,503.23 674.29,511.37 675.23,519.64 676.17,528.02 677.11,536.52 678.05,545.14 678.99,553.86 679.92,562.70" stroke-dasharray="6,8,1.5,8"/>
<polygon points="294.12,49.76 288.37,60.00 299.88,60.00" fill="#ff00ff" stroke="#a000a0" stroke-width="0.8"/>
<polygon points="310.20,49.87 304.44,60.11 315.96,60.11" fill="#ff00ff" stroke="#a000a0" stroke-width="0.8"/>
<polygon points="326.27,50.02 320.51,60.26 332.03,60.26" fill="#ff00ff" stroke="#a000a0" stroke-width="0.8"/>
<polygon points="342.35,50.22 336.59,60.46 348.11,60.46" fill="#ff00ff" stroke="#a000a0" stroke-width="0.8"/>
<polygon points="358.43,50.47 352.67,60.71 364.19,60.71" fill="#ff00ff" stroke="#a000a0" stroke-width="0.8"/>
<polygon points="374.50,50.78 368.74,61.02 380.26,61.02" fill="#ff00ff" stroke="#a000a0" stroke-width="0.8"/>
<polygon points="390.57,51.22 384.81,61.46 396.33,61.46" fill="#ff00ff" stroke="#a000a0" stroke-width="0.8"/>
<polygon points="406.65,51.86 400.89,62.10 412.41,62.10" fill="#ff00ff" stroke="#a000a0" stroke-width="0.8"/>
<polygon points="422.73,52.95 416.97,63.19 428.49,63.19" fill="#ff00ff" stroke="#a000a0" stroke-width="0.8"/>
<polygon points="438.80,54.40 433.04,64.64 444.56,64.64" fill="#ff00ff" stroke="#a000a0" stroke-width="0.8"/>
<polygon points="454.88,56.76 449.12,67.00 460.63,67.00" fill="#ff00ff" stroke="#a000a0" stroke-width="0.8"/>
<polygon points="470.95,59.48 465.19,69.72 476.71,69.72" fill="#ff00ff" stroke="#a000a0" stroke-width="0.8"/>
<polygon points="487.02,62.92 481.26,73.16 492.78,73.16" fill="#ff00ff" stroke="#a000a0" stroke-width="0.8"/>
<polygon points="503.10,67.46 497.34,77.70 508.86,77.70" fill="#ff00ff" stroke="#a000a0" stroke-width="0.8"/>
<polygon points="519.17,73.44 513.41,83.68 524.93,83.68" fill="#ff00ff" stroke="#a000a0" stroke-width="0.8"/>
<polygon points="535.25,80.33 529.49,90.57 541.01,90.57" fill="#ff00ff" stroke="#a000a0" stroke-width="0.8"/>
<polygon points="551.32,89.58 545.56,99.82 557.08,99.82" fill="#ff00ff" stroke="#a000a0" stroke-width="0.8"/>
<polygon points="567.40,100.28 561.64,110.52 573.16,110.52" fill="#ff00ff" stroke="#a000a0" stroke-width="0.8"/>
<polygon points="583.47,112.06 577.71,122.30 589.23,122.30" fill="#ff00ff" stroke="#a000a0" stroke-width="0.8"/>
<polygon points="599.55,126.57 593.79,136.81 605.31,136.81" fill="#ff00ff" stroke="#a000a0" stroke-width="0.8"/>
<polygon points="615.62,141.07 609.87,151.31 621.38,151.31" fill="#ff00ff" stroke="#a000a0" stroke-width="0.8"/>
<polygon points="631.70,156.30 625.94,166.54 637.46,166.54" fill="#ff00ff" stroke="#a000a0" stroke-width="0.8"/>
<polygon points="647.77,175.89 642.01,186.13 653.53,186.13" fill="#ff00ff" stroke="#a000a0" stroke-width="0.8"/>
<polygon points="663.85,197.65 658.09,207.89 669.61,207.89" fill="#ff00ff" stroke="#a000a0" stroke-width="0.8"/>
<polygon points="679.92,220.31 674.16,230.55 685.68,230.55" fill="#ff00ff" stroke="#a000a0" stroke-width="0.8"/>
<polygon points="760.30,369.54 754.54,379.78 766.06,379.78" fill="#ff00ff" stroke="#a000a0" stroke-width="0.8"/>
<polygon points="294.12,61.60 288.55,51.68 299.70,51.68" fill="#8a2be2" stroke="#3a0a70" stroke-width="0.9"/>
<polygon points="310.20,61.62 304.62,51.70 315.78,51.70" fill="#8a2be2" stroke="#3a0a70" stroke-width="0.9"/>
<polygon points="326.27,61.65 320.69,51.73 331.85,51.73" fill="#8a2be2" stroke="#3a0a70" stroke-width="0.9"/>
<polygon points="342.35,61.68 336.77,51.76 347.93,51.76" fill="#8a2be2" stroke="#3a0a70" stroke-width="0.9"/>
<polygon points="358.43,61.71 352.85,51.79 364.00,51.79" fill="#8a2be2" stroke="#3a0a70" stroke-width="0.9"/>
<polygon points="374.50,61.74 368.92,51.82 380.08,51.82" fill="#8a2be2" stroke="#3a0a70" stroke-width="0.9"/>
<polygon points="390.57,61.78 385.00,51.86 396.15,51.86" fill="#8a2be2" stroke="#3a0a70" stroke-width="0.9"/>
<polygon points="406.65,61.81 401.07,51.89 412.23,51.89" fill="#8a2be2" stroke="#3a0a70" stroke-width="0.9"/>
<polygon points="422.73,61.86 417.15,51.94 428.31,51.94" fill="#8a2be2" stroke="#3a0a70" stroke-width="0.9"/>
<polygon points="438.80,61.93 433.22,52.01 444.38,52.01" fill="#8a2be2" stroke="#3a0a70" stroke-width="0.9"/>
<polygon points="454.88,62.07 449.30,52.15 460.45,52.15" fill="#8a2be2" stroke="#3a0a70" stroke-width="0.9"/>
<polygon points="470.95,62.29 465.37,52.37 476.53,52.37" fill="#8a2be2" stroke="#3a0a70" stroke-width="0.9"/>
<polygon points="487.02,62.57 481.44,52.65 492.60,52.65" fill="#8a2be2" stroke="#3a0a70" stroke-width="0.9"/>
<polygon points="503.10,63.01 497.52,53.09 508.68,53.09" fill="#8a2be2" stroke="#3a0a70" stroke-width="0.9"/>
<polygon points="519.17,64.10 513.59,54.18 524.75,54.18" fill="#8a2be2" stroke="#3a0a70" stroke-width="0.9"/>
<polygon points="535.25,66.64 529.67,56.72 540.83,56.72" fill="#8a2be2" stroke="#3a0a70" stroke-width="0.9"/>
<polygon points="551.32,72.44 545.74,62.52 556.90,62.52" fill="#8a2be2" stroke="#3a0a70" stroke-width="0.9"/>
<polygon points="567.40,82.60 561.82,72.68 572.98,72.68" fill="#8a2be2" stroke="#3a0a70" stroke-width="0.9"/>
<polygon points="583.47,100.18 577.89,90.26 589.05,90.26" fill="#8a2be2" stroke="#3a0a70" stroke-width="0.9"/>
<polygon points="599.55,124.66 593.97,114.74 605.13,114.74" fill="#8a2be2" stroke="#3a0a70" stroke-width="0.9"/>
<polygon points="615.62,154.94 610.04,145.02 621.21,145.02" fill="#8a2be2" stroke="#3a0a70" stroke-width="0.9"/>
<polygon points="631.70,208.25 626.12,198.33 637.28,198.33" fill="#8a2be2" stroke="#3a0a70" stroke-width="0.9"/>
<polygon points="647.77,266.09 642.19,256.17 653.36,256.17" fill="#8a2be2" stroke="#3a0a70" stroke-width="0.9"/>
<polygon points="663.85,327.38 658.27,317.46 669.43,317.46" fill="#8a2be2" stroke="#3a0a70" stroke-width="0.9"/>
<polygon points="679.92,409.33 674.34,399.41 685.50,399.41" fill="#8a2be2" stroke="#3a0a70" stroke-width="0.9"/>
<polygon points="294.12,47.95 298.97,50.75 298.97,56.35 294.12,59.15 289.28,56.35 289.28,50.75" fill="#33cc33" stroke="#0a5a0a" stroke-width="1.0"/>
<polygon points="310.20,47.95 315.05,50.75 315.05,56.35 310.20,59.15 305.35,56.35 305.35,50.75" fill="#33cc33" stroke="#0a5a0a" stroke-width="1.0"/>
<polygon points="326.27,47.95 331.12,50.75 331.12,56.35 326.27,59.15 321.43,56.35 321.43,50.75" fill="#33cc33" stroke="#0a5a0a" stroke-width="1.0"/>
<polygon points="342.35,47.95 347.20,50.75 347.20,56.35 342.35,59.15 337.50,56.35 337.50,50.75" fill="#33cc33" stroke="#0a5a0a" stroke-width="1.0"/>
<polygon points="358.43,47.95 363.27,50.75 363.27,56.35 358.43,59.15 353.58,56.35 353.58,50.75" fill="#33cc33" stroke="#0a5a0a" stroke-width="1.0"/>
<polygon points="374.50,47.95 379.35,50.75 379.35,56.35 374.50,59.15 369.65,56.35 369.65,50.75" fill="#33cc33" stroke="#0a5a0a" stroke-width="1.0"/>
<polygon points="390.57,47.95 395.42,50.75 395.42,56.35 390.57,59.15 385.73,56.35 385.73,50.75" fill="#33cc33" stroke="#0a5a0a" stroke-width="1.0"/>
<polygon points="406.65,47.95 411.50,50.75 411.50,56.35 406.65,59.15 401.80,56.35 401.80,50.75" fill="#33cc33" stroke="#0a5a0a" stroke-width="1.0"/>
<polygon points="422.73,47.95 427.57,50.75 427.57,56.35 422.73,59.15 417.88,56.35 417.88,50.75" fill="#33cc33" stroke="#0a5a0a" stroke-width="1.0"/>
<polygon points="438.80,47.95 443.65,50.75 443.65,56.35 438.80,59.15 433.95,56.35 433.95,50.75" fill="#33cc33" stroke="#0a5a0a" stroke-width="1.0"/>
<polygon points="454.88,48.01 459.72,50.81 459.72,56.41 454.88,59.21 450.03,56.41 450.03,50.81" fill="#33cc33" stroke="#0a5a0a" stroke-width="1.0"/>
<polygon points="470.95,48.13 475.80,50.93 475.80,56.53 470.95,59.33 466.10,56.53 466.10,50.93" fill="#33cc33" stroke="#0a5a0a" stroke-width="1.0"/>
<polygon points="487.02,48.31 491.87,51.11 491.87,56.71 487.02,59.51 482.18,56.71 482.18,51.11" fill="#33cc33" stroke="#0a5a0a" stroke-width="1.0"/>
<polygon points="503.10,48.67 507.95,51.47 507.95,57.07 503.10,59.87 498.25,57.07 498.25,51.47" fill="#33cc33" stroke="#0a5a0a" stroke-width="1.0"/>
<polygon points="519.17,50.13 524.02,52.93 524.02,58.53 519.17,61.33 514.33,58.53 514.33,52.93" fill="#33cc33" stroke="#0a5a0a" stroke-width="1.0"/>
<polygon points="535.25,54.11 540.10,56.91 540.10,62.51 535.25,65.31 530.40,62.51 530.40,56.91" fill="#33cc33" stroke="#0a5a0a" stroke-width="1.0"/>
<polygon points="551.32,60.46 556.17,63.26 556.17,68.86 551.32,71.66 546.48,68.86 546.48,63.26" fill="#33cc33" stroke="#0a5a0a" stroke-width="1.0"/>
<polygon points="567.40,69.89 572.25,72.69 572.25,78.29 567.40,81.09 562.55,78.29 562.55,72.69" fill="#33cc33" stroke="#0a5a0a" stroke-width="1.0"/>
<polygon points="583.47,87.48 588.32,90.28 588.32,95.88 583.47,98.68 578.63,95.88 578.63,90.28" fill="#33cc33" stroke="#0a5a0a" stroke-width="1.0"/>
<polygon points="599.55,128.09 604.40,130.89 604.40,136.49 599.55,139.29 594.70,136.49 594.70,130.89" fill="#33cc33" stroke="#0a5a0a" stroke-width="1.0"/>
<polygon points="615.62,175.96 620.47,178.76 620.47,184.36 615.62,187.16 610.78,184.36 610.78,178.76" fill="#33cc33" stroke="#0a5a0a" stroke-width="1.0"/>
<polygon points="631.70,239.79 636.55,242.59 636.55,248.19 631.70,250.99 626.85,248.19 626.85,242.59" fill="#33cc33" stroke="#0a5a0a" stroke-width="1.0"/>
<polygon points="647.77,324.46 652.62,327.26 652.62,332.86 647.77,335.66 642.93,332.86 642.93,327.26" fill="#33cc33" stroke="#0a5a0a" stroke-width="1.0"/>
<polygon points="663.85,422.92 668.70,425.72 668.70,431.32 663.85,434.12 659.00,431.32 659.00,425.72" fill="#33cc33" stroke="#0a5a0a" stroke-width="1.0"/>
<line x1="117.30" y1="47.75" x2="117.30" y2="65.88" stroke="#ff0000" stroke-width="4.6"/><line x1="111.40" y1="47.75" x2="123.20" y2="47.75" stroke="#ff0000" stroke-width="1.3"/><line x1="111.40" y1="65.88" x2="123.20" y2="65.88" stroke="#ff0000" stroke-width="1.3"/>
<polygon points="117.30,50.51 111.63,60.59 122.97,60.59" fill="#ff0000" stroke="#900000" stroke-width="0.9"/>
<line x1="278.05" y1="46.84" x2="278.05" y2="66.79" stroke="#ff0000" stroke-width="4.6"/><line x1="272.15" y1="46.84" x2="283.95" y2="46.84" stroke="#ff0000" stroke-width="1.3"/><line x1="272.15" y1="66.79" x2="283.95" y2="66.79" stroke="#ff0000" stroke-width="1.3"/>
<polygon points="278.05,50.51 272.38,60.59 283.72,60.59" fill="#ff0000" stroke="#900000" stroke-width="0.9"/>
<line x1="438.80" y1="50.47" x2="438.80" y2="64.97" stroke="#ff0000" stroke-width="4.6"/><line x1="432.90" y1="50.47" x2="444.70" y2="50.47" stroke="#ff0000" stroke-width="1.3"/><line x1="432.90" y1="64.97" x2="444.70" y2="64.97" stroke="#ff0000" stroke-width="1.3"/>
<polygon points="438.80,51.42 433.13,61.50 444.47,61.50" fill="#ff0000" stroke="#900000" stroke-width="0.9"/>
<line x1="519.17" y1="46.84" x2="519.17" y2="63.16" stroke="#ff0000" stroke-width="4.6"/><line x1="513.27" y1="46.84" x2="525.07" y2="46.84" stroke="#ff0000" stroke-width="1.3"/><line x1="513.27" y1="63.16" x2="525.07" y2="63.16" stroke="#ff0000" stroke-width="1.3"/>
<polygon points="519.17,48.70 513.50,58.78 524.84,58.78" fill="#ff0000" stroke="#900000" stroke-width="0.9"/>
<line x1="599.55" y1="46.30" x2="599.55" y2="64.43" stroke="#ff0000" stroke-width="4.6"/><line x1="593.65" y1="46.30" x2="605.45" y2="46.30" stroke="#ff0000" stroke-width="1.3"/><line x1="593.65" y1="64.43" x2="605.45" y2="64.43" stroke="#ff0000" stroke-width="1.3"/>
<polygon points="599.55,49.06 593.88,59.14 605.22,59.14" fill="#ff0000" stroke="#900000" stroke-width="0.9"/>
<line x1="760.30" y1="49.02" x2="760.30" y2="70.05" stroke="#ff0000" stroke-width="4.6"/><line x1="754.40" y1="49.02" x2="766.20" y2="49.02" stroke="#ff0000" stroke-width="1.3"/><line x1="754.40" y1="70.05" x2="766.20" y2="70.05" stroke="#ff0000" stroke-width="1.3"/>
<polygon points="760.30,53.23 754.63,63.31 765.97,63.31" fill="#ff0000" stroke="#900000" stroke-width="0.9"/>
<line x1="921.05" y1="153.82" x2="921.05" y2="178.12" stroke="#ff0000" stroke-width="4.6"/><line x1="915.15" y1="153.82" x2="926.95" y2="153.82" stroke="#ff0000" stroke-width="1.3"/><line x1="915.15" y1="178.12" x2="926.95" y2="178.12" stroke="#ff0000" stroke-width="1.3"/>
<polygon points="921.05,159.67 915.38,169.75 926.72,169.75" fill="#ff0000" stroke="#900000" stroke-width="0.9"/>
<line x1="438.80" y1="82.74" x2="438.80" y2="105.95" stroke="#0000ff" stroke-width="4.6"/><line x1="432.90" y1="82.74" x2="444.70" y2="82.74" stroke="#0000ff" stroke-width="1.3"/><line x1="432.90" y1="105.95" x2="444.70" y2="105.95" stroke="#0000ff" stroke-width="1.3"/>
<polygon points="438.80,100.65 433.13,90.57 444.47,90.57" fill="#0000ff" stroke="#000090" stroke-width="0.9"/>
<line x1="519.17" y1="142.03" x2="519.17" y2="163.79" stroke="#0000ff" stroke-width="4.6"/><line x1="513.27" y1="142.03" x2="525.07" y2="142.03" stroke="#0000ff" stroke-width="1.3"/><line x1="513.27" y1="163.79" x2="525.07" y2="163.79" stroke="#0000ff" stroke-width="1.3"/>
<polygon points="519.17,159.21 513.50,149.13 524.84,149.13" fill="#0000ff" stroke="#000090" stroke-width="0.9"/>
<line x1="599.55" y1="336.95" x2="599.55" y2="360.52" stroke="#0000ff" stroke-width="4.6"/><line x1="593.65" y1="336.95" x2="605.45" y2="336.95" stroke="#0000ff" stroke-width="1.3"/><line x1="593.65" y1="360.52" x2="605.45" y2="360.52" stroke="#0000ff" stroke-width="1.3"/>
<polygon points="599.55,355.04 593.88,344.96 605.22,344.96" fill="#0000ff" stroke="#000090" stroke-width="0.9"/>
</g>
<line x1="278.05" y1="508.30" x2="278.05" y2="499.30" stroke="#262626" stroke-width="0.8"/>
<line x1="278.05" y1="55.00" x2="278.05" y2="64.00" stroke="#262626" stroke-width="0.8"/>
<line x1="438.80" y1="508.30" x2="438.80" y2="499.30" stroke="#262626" stroke-width="0.8"/>
<line x1="438.80" y1="55.00" x2="438.80" y2="64.00" stroke="#262626" stroke-width="0.8"/>
<line x1="599.55" y1="508.30" x2="599.55" y2="499.30" stroke="#262626" stroke-width="0.8"/>
<line x1="599.55" y1="55.00" x2="599.55" y2="64.00" stroke="#262626" stroke-width="0.8"/>
<line x1="760.30" y1="508.30" x2="760.30" y2="499.30" stroke="#262626" stroke-width="0.8"/>
<line x1="760.30" y1="55.00" x2="760.30" y2="64.00" stroke="#262626" stroke-width="0.8"/>
<line x1="921.05" y1="508.30" x2="921.05" y2="499.30" stroke="#262626" stroke-width="0.8"/>
<line x1="921.05" y1="55.00" x2="921.05" y2="64.00" stroke="#262626" stroke-width="0.8"/>
<line x1="117.30" y1="417.64" x2="124.80" y2="417.64" stroke="#262626" stroke-width="0.8"/>
<line x1="1002.00" y1="417.64" x2="994.50" y2="417.64" stroke="#262626" stroke-width="0.8"/>
<line x1="117.30" y1="326.98" x2="124.80" y2="326.98" stroke="#262626" stroke-width="0.8"/>
<line x1="1002.00" y1="326.98" x2="994.50" y2="326.98" stroke="#262626" stroke-width="0.8"/>
<line x1="117.30" y1="236.32" x2="124.80" y2="236.32" stroke="#262626" stroke-width="0.8"/>
<line x1="1002.00" y1="236.32" x2="994.50" y2="236.32" stroke="#262626" stroke-width="0.8"/>
<line x1="117.30" y1="145.66" x2="124.80" y2="145.66" stroke="#262626" stroke-width="0.8"/>
<line x1="1002.00" y1="145.66" x2="994.50" y2="145.66" stroke="#262626" stroke-width="0.8"/>
<rect x="117.30" y="55.00" width="884.70" height="453.30" fill="none" stroke="#262626" stroke-width="1.5"/>
<text x="110.72" y="539.20" font-family='"Liberation Sans", sans-serif' font-size="33">0</text>
<text x="271.47" y="539.20" font-family='"Liberation Sans", sans-serif' font-size="33">5</text>
<path transform="translate(423.05,539.20) scale(0.01611,-0.01611)" d="M696 0 H516 V1098 Q451 1039 345 980 Q240 920 156 890 V1057 Q307 1124 420 1221 Q533 1318 580 1409 H696 Z" fill="#000"/>
<text x="441.40" y="539.20" font-family='"Liberation Sans", sans-serif' font-size="33">0</text>
<path transform="translate(583.80,539.20) scale(0.01611,-0.01611)" d="M696 0 H516 V1098 Q451 1039 345 980 Q240 920 156 890 V1057 Q307 1124 420 1221 Q533 1318 580 1409 H696 Z" fill="#000"/>
<text x="602.15" y="539.20" font-family='"Liberation Sans", sans-serif' font-size="33">5</text>
<text x="744.55" y="539.20" font-family='"Liberation Sans", sans-serif' font-size="33">2</text>
<text x="762.90" y="539.20" font-family='"Liberation Sans", sans-serif' font-size="33">0</text>
<text x="905.30" y="539.20" font-family='"Liberation Sans", sans-serif' font-size="33">2</text>
<text x="923.65" y="539.20" font-family='"Liberation Sans", sans-serif' font-size="33">5</text>
<rect x="55.58" y="509.76" width="17.16" height="2.24" fill="#000"/>
<text x="73.69" y="518.90" font-family='"Liberation Sans", sans-serif' font-size="33">2</text>
<text x="92.05" y="518.90" font-family='"Liberation Sans", sans-serif' font-size="33">5</text>
<rect x="55.58" y="419.10" width="17.16" height="2.24" fill="#000"/>
<text x="73.69" y="428.24" font-family='"Liberation Sans", sans-serif' font-size="33">2</text>
<text x="92.05" y="428.24" font-family='"Liberation Sans", sans-serif' font-size="33">0</text>
<rect x="55.58" y="328.44" width="17.16" height="2.24" fill="#000"/>
<path transform="translate(73.69,337.58) scale(0.01611,-0.01611)" d="M696 0 H516 V1098 Q451 1039 345 980 Q240 920 156 890 V1057 Q307 1124 420 1221 Q533 1318 580 1409 H696 Z" fill="#000"/>
<text x="92.05" y="337.58" font-family='"Liberation Sans", sans-serif' font-size="33">5</text>
<rect x="55.58" y="237.78" width="17.16" height="2.24" fill="#000"/>
<path transform="translate(73.69,246.92) scale(0.01611,-0.01611)" d="M696 0 H516 V1098 Q451 1039 345 980 Q240 920 156 890 V1057 Q307 1124 420 1221 Q533 1318 580 1409 H696 Z" fill="#000"/>
<text x="92.05" y="246.92" font-family='"Liberation Sans", sans-serif' font-size="33">0</text>
<rect x="73.93" y="147.12" width="17.16" height="2.24" fill="#000"/>
<text x="92.05" y="156.26" font-family='"Liberation Sans", sans-serif' font-size="33">5</text>
<text x="92.05" y="65.60" font-family='"Liberation Sans", sans-serif' font-size="33">0</text>
<text x="561.00" y="573.60" font-family='"Liberation Sans", sans-serif' font-size="35.3" text-anchor="middle" fill="#000" >Strain ε (%)</text>
<text transform="translate(35,281.5) rotate(-90)" font-family='"Liberation Sans", sans-serif' font-size="35.6" text-anchor="middle">Energy <tspan font-style="italic">E</tspan>−<tspan font-style="italic">E</tspan><tspan font-size="20.5" dy="8.5">SEM</tspan><tspan dy="-8.5"> (meV/atom)</tspan></text>
<text transform="translate(0.10,32.40) scale(1.1000,1)" font-family='"Liberation Sans", sans-serif' font-size="40.5" text-anchor="start" fill="#000" >(a)</text>
<rect x="134.7" y="277.8" width="287.5" height="212.6" fill="#fff" stroke="#262626" stroke-width="1.3"/>
<text x="249.10" y="318.10" font-family='"Liberation Sans", sans-serif' font-size="33" text-anchor="start" fill="#000" >DMC AFI</text>
<text x="249.10" y="355.60" font-family='"Liberation Sans", sans-serif' font-size="33" text-anchor="start" fill="#000" >DMC DIM</text>
<text x="249.10" y="393.20" font-family='"Liberation Sans", sans-serif' font-size="33" text-anchor="start" fill="#000" >DFT AFI</text>
<text x="249.10" y="430.80" font-family='"Liberation Sans", sans-serif' font-size="33" text-anchor="start" fill="#000" >DFT DIM</text>
<text x="249.10" y="468.40" font-family='"Liberation Sans", sans-serif' font-size="33" text-anchor="start" fill="#000" >DFT HEX</text>
<line x1="160.00" y1="286.50" x2="160.00" y2="322.40" stroke="#ff0000" stroke-width="4.6"/><line x1="154.10" y1="286.50" x2="165.90" y2="286.50" stroke="#ff0000" stroke-width="1.3"/><line x1="154.10" y1="322.40" x2="165.90" y2="322.40" stroke="#ff0000" stroke-width="1.3"/>
<polygon points="160.00,300.50 154.33,310.58 165.67,310.58" fill="#ff0000" stroke="#900000" stroke-width="0.9"/>
<line x1="160.00" y1="324.00" x2="160.00" y2="360.00" stroke="#0000ff" stroke-width="4.6"/><line x1="154.10" y1="324.00" x2="165.90" y2="324.00" stroke="#0000ff" stroke-width="1.3"/><line x1="154.10" y1="360.00" x2="165.90" y2="360.00" stroke="#0000ff" stroke-width="1.3"/>
<polygon points="160.00,345.90 154.33,335.82 165.67,335.82" fill="#0000ff" stroke="#000090" stroke-width="0.9"/>
<line x1="210.50" y1="286.50" x2="210.50" y2="322.40" stroke="#ff0000" stroke-width="4.6"/><line x1="204.60" y1="286.50" x2="216.40" y2="286.50" stroke="#ff0000" stroke-width="1.3"/><line x1="204.60" y1="322.40" x2="216.40" y2="322.40" stroke="#ff0000" stroke-width="1.3"/>
<polygon points="210.50,300.50 204.83,310.58 216.17,310.58" fill="#ff0000" stroke="#900000" stroke-width="0.9"/>
<line x1="210.50" y1="324.00" x2="210.50" y2="360.00" stroke="#0000ff" stroke-width="4.6"/><line x1="204.60" y1="324.00" x2="216.40" y2="324.00" stroke="#0000ff" stroke-width="1.3"/><line x1="204.60" y1="360.00" x2="216.40" y2="360.00" stroke="#0000ff" stroke-width="1.3"/>
<polygon points="210.50,345.90 204.83,335.82 216.17,335.82" fill="#0000ff" stroke="#000090" stroke-width="0.9"/>
<polyline fill="none" stroke="#ff00ff" stroke-width="3.2" points="160.00,380.50 210.50,380.50" stroke-dasharray="7,5"/>
<polygon points="160.00,374.10 154.24,384.34 165.76,384.34" fill="#ff00ff" stroke="#a000a0" stroke-width="0.8"/>
<polygon points="210.50,374.10 204.74,384.34 216.26,384.34" fill="#ff00ff" stroke="#a000a0" stroke-width="0.8"/>
<polyline fill="none" stroke="#8a2be2" stroke-width="3.2" points="160.00,418.10 210.50,418.10" />
<polygon points="160.00,424.30 154.42,414.38 165.58,414.38" fill="#8a2be2" stroke="#3a0a70" stroke-width="0.8"/>
<polygon points="210.50,424.30 204.92,414.38 216.08,414.38" fill="#8a2be2" stroke="#3a0a70" stroke-width="0.8"/>
<polyline fill="none" stroke="#33cc33" stroke-width="3.2" points="160.00,455.80 210.50,455.80" stroke-dasharray="6,8,1.5,8"/>
<polygon points="160.00,450.20 164.85,453.00 164.85,458.60 160.00,461.40 155.15,458.60 155.15,453.00" fill="#33cc33" stroke="#0a5a0a" stroke-width="1.0"/>
<polygon points="210.50,450.20 215.35,453.00 215.35,458.60 210.50,461.40 205.65,458.60 205.65,453.00" fill="#33cc33" stroke="#0a5a0a" stroke-width="1.0"/>
<g clip-path="url(#cb)">
<line x1="117.30" y1="669.90" x2="1002.00" y2="669.90" stroke="#333" stroke-width="1.3" stroke-dasharray="8,6" stroke-dashoffset="4"/>
<line x1="117.30" y1="736.40" x2="1002.00" y2="736.40" stroke="#333" stroke-width="1.3" stroke-dasharray="8,6" stroke-dashoffset="4"/>
<polyline fill="none" stroke="#ffa500" stroke-width="3.6" points="117.30,1053.05 119.99,1048.72 122.69,1044.41 125.38,1040.14 128.07,1035.89 130.77,1031.67 133.46,1027.48 136.15,1023.32 138.85,1019.19 141.54,1015.09 144.24,1011.01 146.93,1006.96 149.62,1002.94 152.32,998.95 155.01,994.99 157.70,991.05 160.40,987.14 163.09,983.26 165.78,979.41 168.48,975.58 171.17,971.78 173.86,968.01 176.56,964.27 179.25,960.55 181.94,956.86 184.64,953.19 187.33,949.55 190.02,945.94 192.72,942.36 195.41,938.80 198.11,935.26 200.80,931.76 203.49,928.28 206.19,924.82 208.88,921.39 211.57,917.99 214.27,914.61 216.96,911.26 219.65,907.93 222.35,904.63 225.04,901.36 227.73,898.10 230.43,894.88 233.12,891.68 235.81,888.50 238.51,885.35 241.20,882.22 243.89,879.12 246.59,876.04 249.28,872.99 251.98,869.96 254.67,866.96 257.36,863.98 260.06,861.02 262.75,858.09 265.44,855.18 268.14,852.29 270.83,849.43 273.52,846.59 276.22,843.78 278.91,840.98 281.60,838.22 284.30,835.47 286.99,832.75 289.68,830.05 292.38,827.37 295.07,824.72 297.76,822.09 300.46,819.48 303.15,816.89 305.85,814.33 308.54,811.79 311.23,809.27 313.93,806.77 316.62,804.29 319.31,801.84 322.01,799.41 324.70,797.00 327.39,794.61 330.09,792.24 332.78,789.90 335.47,787.57 338.17,785.27 340.86,782.99 343.55,780.73 346.25,778.49 348.94,776.27 351.63,774.07 354.33,771.89 357.02,769.73 359.72,767.59 362.41,765.48 365.10,763.38 367.80,761.31 370.49,759.25 373.18,757.21 375.88,755.20 378.57,753.20 381.26,751.22 383.96,749.27 386.65,747.33 389.34,745.41 392.04,743.51 394.73,741.63 397.42,739.77 400.12,737.93 402.81,736.11 405.50,734.30 408.20,732.52 410.89,730.75 413.59,729.00 416.28,727.28 418.97,725.56 421.67,723.87 424.36,722.20 427.05,720.54 429.75,718.90 432.44,717.28 435.13,715.68 437.83,714.10 440.52,712.53 443.21,710.98 445.91,709.45 448.60,707.93 451.29,706.44 453.99,704.96 456.68,703.49 459.37,702.05 462.07,700.62 464.76,699.21 467.46,697.81 470.15,696.43 472.84,695.07 475.54,693.72 478.23,692.40 480.92,691.08 483.62,689.79 486.31,688.50 489.00,687.24 491.70,685.99 494.39,684.76 497.08,683.54 499.78,682.34 502.47,681.15 505.16,679.98 507.86,678.83 510.55,677.69 513.24,676.56 515.94,675.45 518.63,674.36 521.33,673.28 524.02,672.21 526.71,671.16 529.41,670.13 532.10,669.11 534.79,668.10 537.49,667.11 540.18,666.13 542.87,665.17 545.57,664.22 548.26,663.28 550.95,662.36 553.65,661.45 556.34,660.56 559.03,659.68 561.73,658.81 564.42,657.96 567.12,657.12 569.81,656.30 572.50,655.48 575.20,654.68 577.89,653.90 580.58,653.12 583.28,652.36 585.97,651.61 588.66,650.88 591.36,650.15 594.05,649.44 596.74,648.74 599.44,648.06 602.13,647.39 604.82,646.72 607.52,646.08 610.21,645.44 612.90,644.81 615.60,644.20 618.29,643.60 620.99,643.01 623.68,642.43 626.37,641.86 629.07,641.31 631.76,640.76 634.45,640.23 637.15,639.71 639.84,639.19 642.53,638.69 645.23,638.21 647.92,637.73 650.61,637.26 653.31,636.80 656.00,636.35 658.69,635.92 661.39,635.49 664.08,635.08 666.77,634.67 669.47,634.28 672.16,633.89 674.86,633.51 677.55,633.15 680.24,632.79 682.94,632.45 685.63,632.11 688.32,631.78 691.02,631.46 693.71,631.15 696.40,630.85 699.10,630.56 701.79,630.28 704.48,630.01 707.18,629.75 709.87,629.49 712.56,629.25 715.26,629.01 717.95,628.78 720.64,628.56 723.34,628.35 726.03,628.14 728.73,627.95 731.42,627.76 734.11,627.58 736.81,627.41 739.50,627.24 742.19,627.09 744.89,626.94 747.58,626.80 750.27,626.67 752.97,626.54 755.66,626.42 758.35,626.31 761.05,626.21 763.74,626.11 766.43,626.02 769.13,625.94 771.82,625.86 774.51,625.79 777.21,625.73 779.90,625.67 782.60,625.62 785.29,625.58 787.98,625.54 790.68,625.51 793.37,625.49 796.06,625.47 798.76,625.45 801.45,625.45 804.14,625.45 806.84,625.45 809.53,625.46 812.22,625.48 814.92,625.50 817.61,625.53 820.30,625.56 823.00,625.60 825.69,625.64 828.38,625.69 831.08,625.74 833.77,625.80 836.47,625.86 839.16,625.93 841.85,626.00 844.55,626.08 847.24,626.16 849.93,626.25 852.63,626.34 855.32,626.43 858.01,626.53 860.71,626.63 863.40,626.74 866.09,626.85 868.79,626.96 871.48,627.08 874.17,627.20 876.87,627.33 879.56,627.46 882.25,627.59 884.95,627.73 887.64,627.87 890.34,628.01 893.03,628.15 895.72,628.30 898.42,628.45 901.11,628.61 903.80,628.77 906.50,628.92 909.19,629.09 911.88,629.25 914.58,629.42 917.27,629.59 919.96,629.76 922.66,629.94" />
<line x1="145.45" y1="1003.20" x2="153.45" y2="1003.20" stroke="#e09000" stroke-width="1.2"/>
<line x1="177.60" y1="957.33" x2="185.60" y2="957.33" stroke="#e09000" stroke-width="1.2"/>
<line x1="209.75" y1="915.26" x2="217.75" y2="915.26" stroke="#e09000" stroke-width="1.2"/>
<line x1="241.90" y1="876.83" x2="249.90" y2="876.83" stroke="#e09000" stroke-width="1.2"/>
<line x1="274.05" y1="841.87" x2="282.05" y2="841.87" stroke="#e09000" stroke-width="1.2"/>
<line x1="306.20" y1="810.23" x2="314.20" y2="810.23" stroke="#e09000" stroke-width="1.2"/>
<line x1="338.35" y1="781.73" x2="346.35" y2="781.73" stroke="#e09000" stroke-width="1.2"/>
<line x1="370.50" y1="756.22" x2="378.50" y2="756.22" stroke="#e09000" stroke-width="1.2"/>
<line x1="402.65" y1="733.54" x2="410.65" y2="733.54" stroke="#e09000" stroke-width="1.2"/>
<line x1="434.80" y1="713.53" x2="442.80" y2="713.53" stroke="#e09000" stroke-width="1.2"/>
<line x1="466.95" y1="696.03" x2="474.95" y2="696.03" stroke="#e09000" stroke-width="1.2"/>
<line x1="499.10" y1="680.88" x2="507.10" y2="680.88" stroke="#e09000" stroke-width="1.2"/>
<line x1="531.25" y1="667.93" x2="539.25" y2="667.93" stroke="#e09000" stroke-width="1.2"/>
<line x1="563.40" y1="657.03" x2="571.40" y2="657.03" stroke="#e09000" stroke-width="1.2"/>
<line x1="595.55" y1="648.03" x2="603.55" y2="648.03" stroke="#e09000" stroke-width="1.2"/>
<line x1="627.70" y1="640.77" x2="635.70" y2="640.77" stroke="#e09000" stroke-width="1.2"/>
<line x1="659.85" y1="635.11" x2="667.85" y2="635.11" stroke="#e09000" stroke-width="1.2"/>
<line x1="692.00" y1="630.90" x2="700.00" y2="630.90" stroke="#e09000" stroke-width="1.2"/>
<line x1="724.15" y1="627.99" x2="732.15" y2="627.99" stroke="#e09000" stroke-width="1.2"/>
<line x1="756.30" y1="626.23" x2="764.30" y2="626.23" stroke="#e09000" stroke-width="1.2"/>
<line x1="788.45" y1="625.49" x2="796.45" y2="625.49" stroke="#e09000" stroke-width="1.2"/>
<line x1="820.60" y1="625.62" x2="828.60" y2="625.62" stroke="#e09000" stroke-width="1.2"/>
<line x1="852.75" y1="626.48" x2="860.75" y2="626.48" stroke="#e09000" stroke-width="1.2"/>
<line x1="884.90" y1="627.93" x2="892.90" y2="627.93" stroke="#e09000" stroke-width="1.2"/>
<line x1="917.05" y1="629.83" x2="925.05" y2="629.83" stroke="#e09000" stroke-width="1.2"/>
<polyline fill="none" stroke="#0000ff" stroke-width="3.6" points="404.40,736.14 405.55,735.44 406.70,734.74 407.86,734.05 409.01,733.36 410.16,732.68 411.31,732.00 412.46,731.32 413.61,730.65 414.77,729.98 415.92,729.32 417.07,728.65 418.22,728.00 419.37,727.34 420.53,726.69 421.68,726.04 422.83,725.40 423.98,724.76 425.13,724.12 426.29,723.49 427.44,722.86 428.59,722.24 429.74,721.62 430.89,721.00 432.05,720.38 433.20,719.77 434.35,719.17 435.50,718.56 436.65,717.96 437.80,717.37 438.96,716.78 440.11,716.19 441.26,715.60 442.41,715.02 443.56,714.45 444.72,713.87 445.87,713.30 447.02,712.74 448.17,712.17 449.32,711.62 450.48,711.06 451.63,710.51 452.78,709.96 453.93,709.42 455.08,708.88 456.24,708.34 457.39,707.81 458.54,707.28 459.69,706.75 460.84,706.23 461.99,705.71 463.15,705.20 464.30,704.69 465.45,704.18 466.60,703.67 467.75,703.17 468.91,702.68 470.06,702.19 471.21,701.70 472.36,701.21 473.51,700.73 474.67,700.25 475.82,699.78 476.97,699.31 478.12,698.84 479.27,698.38 480.43,697.92 481.58,697.46 482.73,697.01 483.88,696.56 485.03,696.12 486.18,695.68 487.34,695.24 488.49,694.81 489.64,694.38 490.79,693.95 491.94,693.53 493.10,693.11 494.25,692.69 495.40,692.28 496.55,691.87 497.70,691.47 498.86,691.07 500.01,690.67 501.16,690.28 502.31,689.89 503.46,689.50 504.62,689.12 505.77,688.74 506.92,688.37 508.07,688.00 509.22,687.63 510.37,687.27 511.53,686.91 512.68,686.55 513.83,686.20 514.98,685.85 516.13,685.50 517.29,685.16 518.44,684.83 519.59,684.49 520.74,684.16 521.89,683.83 523.05,683.51 524.20,683.19 525.35,682.88 526.50,682.56 527.65,682.25 528.81,681.95 529.96,681.65 531.11,681.35 532.26,681.06 533.41,680.77 534.56,680.48 535.72,680.20 536.87,679.92 538.02,679.64 539.17,679.37 540.32,679.11 541.48,678.84 542.63,678.58 543.78,678.32 544.93,678.07 546.08,677.82 547.24,677.58 548.39,677.33 549.54,677.09 550.69,676.86 551.84,676.63 553.00,676.40 554.15,676.18 555.30,675.96 556.45,675.74 557.60,675.53 558.76,675.32 559.91,675.11 561.06,674.91 562.21,674.71 563.36,674.52 564.51,674.33 565.67,674.14 566.82,673.96 567.97,673.78 569.12,673.60 570.27,673.43 571.43,673.26 572.58,673.10 573.73,672.94 574.88,672.78 576.03,672.63 577.19,672.48 578.34,672.33 579.49,672.19 580.64,672.05 581.79,671.91 582.95,671.78 584.10,671.65 585.25,671.53 586.40,671.41 587.55,671.29 588.70,671.18 589.86,671.07 591.01,670.96 592.16,670.86 593.31,670.76 594.46,670.67 595.62,670.58 596.77,670.49 597.92,670.41 599.07,670.33 600.22,670.25 601.38,670.18 602.53,670.11 603.68,670.04 604.83,669.98 605.98,669.92 607.14,669.87 608.29,669.82 609.44,669.77 610.59,669.73 611.74,669.69 612.89,669.65 614.05,669.62 615.20,669.59 616.35,669.57 617.50,669.54 618.65,669.53 619.81,669.51 620.96,669.50 622.11,669.50 623.26,669.49 624.41,669.49 625.57,669.50 626.72,669.51 627.87,669.52 629.02,669.54 630.17,669.55 631.33,669.58 632.48,669.60 633.63,669.63" />
<polyline fill="none" stroke="#ff0000" stroke-width="3.6" points="757.08,625.33 758.76,625.31 760.44,625.30 762.12,625.29 763.80,625.28 765.48,625.28 767.16,625.28 768.84,625.28 770.52,625.29 772.20,625.30 773.87,625.32 775.55,625.34 777.23,625.36 778.91,625.39 780.59,625.42 782.27,625.45 783.95,625.49 785.63,625.54 787.31,625.58 788.98,625.63 790.66,625.69 792.34,625.74 794.02,625.81 795.70,625.87 797.38,625.94 799.06,626.01 800.74,626.09 802.42,626.17 804.10,626.26 805.77,626.35 807.45,626.44 809.13,626.53 810.81,626.63 812.49,626.74 814.17,626.84 815.85,626.96 817.53,627.07 819.21,627.19 820.88,627.31 822.56,627.44 824.24,627.57 825.92,627.70 827.60,627.84 829.28,627.98 830.96,628.13 832.64,628.28 834.32,628.43 836.00,628.59 837.67,628.75 839.35,628.91 841.03,629.08 842.71,629.26 844.39,629.43 846.07,629.61 847.75,629.79 849.43,629.98 851.11,630.17 852.78,630.37 854.46,630.57 856.14,630.77 857.82,630.98 859.50,631.19 861.18,631.40 862.86,631.62 864.54,631.84 866.22,632.07 867.90,632.30 869.57,632.53 871.25,632.77 872.93,633.01 874.61,633.25 876.29,633.50 877.97,633.75 879.65,634.01 881.33,634.27 883.01,634.53 884.68,634.80 886.36,635.07 888.04,635.35 889.72,635.63 891.40,635.91 893.08,636.20 894.76,636.49 896.44,636.78 898.12,637.08 899.80,637.38 901.47,637.69 903.15,638.00 904.83,638.31 906.51,638.63 908.19,638.95 909.87,639.27 911.55,639.60 913.23,639.93 914.91,640.27 916.58,640.61 918.26,640.96 919.94,641.30 921.62,641.65 923.30,642.01" />
</g>
<line x1="278.05" y1="1052.40" x2="278.05" y2="1043.40" stroke="#262626" stroke-width="0.8"/>
<line x1="278.05" y1="599.10" x2="278.05" y2="608.10" stroke="#262626" stroke-width="0.8"/>
<line x1="438.80" y1="1052.40" x2="438.80" y2="1043.40" stroke="#262626" stroke-width="0.8"/>
<line x1="438.80" y1="599.10" x2="438.80" y2="608.10" stroke="#262626" stroke-width="0.8"/>
<line x1="599.55" y1="1052.40" x2="599.55" y2="1043.40" stroke="#262626" stroke-width="0.8"/>
<line x1="599.55" y1="599.10" x2="599.55" y2="608.10" stroke="#262626" stroke-width="0.8"/>
<line x1="760.30" y1="1052.40" x2="760.30" y2="1043.40" stroke="#262626" stroke-width="0.8"/>
<line x1="760.30" y1="599.10" x2="760.30" y2="608.10" stroke="#262626" stroke-width="0.8"/>
<line x1="921.05" y1="1052.40" x2="921.05" y2="1043.40" stroke="#262626" stroke-width="0.8"/>
<line x1="921.05" y1="599.10" x2="921.05" y2="608.10" stroke="#262626" stroke-width="0.8"/>
<line x1="117.30" y1="989.44" x2="124.80" y2="989.44" stroke="#262626" stroke-width="0.8"/>
<line x1="1002.00" y1="989.44" x2="994.50" y2="989.44" stroke="#262626" stroke-width="0.8"/>
<line x1="117.30" y1="926.48" x2="124.80" y2="926.48" stroke="#262626" stroke-width="0.8"/>
<line x1="1002.00" y1="926.48" x2="994.50" y2="926.48" stroke="#262626" stroke-width="0.8"/>
<line x1="117.30" y1="863.53" x2="124.80" y2="863.53" stroke="#262626" stroke-width="0.8"/>
<line x1="1002.00" y1="863.53" x2="994.50" y2="863.53" stroke="#262626" stroke-width="0.8"/>
<line x1="117.30" y1="800.57" x2="124.80" y2="800.57" stroke="#262626" stroke-width="0.8"/>
<line x1="1002.00" y1="800.57" x2="994.50" y2="800.57" stroke="#262626" stroke-width="0.8"/>
<line x1="117.30" y1="737.61" x2="124.80" y2="737.61" stroke="#262626" stroke-width="0.8"/>
<line x1="1002.00" y1="737.61" x2="994.50" y2="737.61" stroke="#262626" stroke-width="0.8"/>
<line x1="117.30" y1="674.65" x2="124.80" y2="674.65" stroke="#262626" stroke-width="0.8"/>
<line x1="1002.00" y1="674.65" x2="994.50" y2="674.65" stroke="#262626" stroke-width="0.8"/>
<line x1="117.30" y1="611.69" x2="124.80" y2="611.69" stroke="#262626" stroke-width="0.8"/>
<line x1="1002.00" y1="611.69" x2="994.50" y2="611.69" stroke="#262626" stroke-width="0.8"/>
<rect x="117.30" y="599.10" width="884.70" height="453.30" fill="none" stroke="#262626" stroke-width="1.5"/>
<text x="110.72" y="1084.00" font-family='"Liberation Sans", sans-serif' font-size="33">0</text>
<text x="271.47" y="1084.00" font-family='"Liberation Sans", sans-serif' font-size="33">5</text>
<path transform="translate(423.05,1084.00) scale(0.01611,-0.01611)" d="M696 0 H516 V1098 Q451 1039 345 980 Q240 920 156 890 V1057 Q307 1124 420 1221 Q533 1318 580 1409 H696 Z" fill="#000"/>
<text x="441.40" y="1084.00" font-family='"Liberation Sans", sans-serif' font-size="33">0</text>
<path transform="translate(583.80,1084.00) scale(0.01611,-0.01611)" d="M696 0 H516 V1098 Q451 1039 345 980 Q240 920 156 890 V1057 Q307 1124 420 1221 Q533 1318 580 1409 H696 Z" fill="#000"/>
<text x="602.15" y="1084.00" font-family='"Liberation Sans", sans-serif' font-size="33">5</text>
<text x="744.55" y="1084.00" font-family='"Liberation Sans", sans-serif' font-size="33">2</text>
<text x="762.90" y="1084.00" font-family='"Liberation Sans", sans-serif' font-size="33">0</text>
<text x="905.30" y="1084.00" font-family='"Liberation Sans", sans-serif' font-size="33">2</text>
<text x="923.65" y="1084.00" font-family='"Liberation Sans", sans-serif' font-size="33">5</text>
<text x="92.05" y="1063.00" font-family='"Liberation Sans", sans-serif' font-size="33">0</text>
<text x="92.05" y="1000.04" font-family='"Liberation Sans", sans-serif' font-size="33">5</text>
<path transform="translate(73.69,937.08) scale(0.01611,-0.01611)" d="M696 0 H516 V1098 Q451 1039 345 980 Q240 920 156 890 V1057 Q307 1124 420 1221 Q533 1318 580 1409 H696 Z" fill="#000"/>
<text x="92.05" y="937.08" font-family='"Liberation Sans", sans-serif' font-size="33">0</text>
<path transform="translate(73.69,874.13) scale(0.01611,-0.01611)" d="M696 0 H516 V1098 Q451 1039 345 980 Q240 920 156 890 V1057 Q307 1124 420 1221 Q533 1318 580 1409 H696 Z" fill="#000"/>
<text x="92.05" y="874.13" font-family='"Liberation Sans", sans-serif' font-size="33">5</text>
<text x="73.69" y="811.17" font-family='"Liberation Sans", sans-serif' font-size="33">2</text>
<text x="92.05" y="811.17" font-family='"Liberation Sans", sans-serif' font-size="33">0</text>
<text x="73.69" y="748.21" font-family='"Liberation Sans", sans-serif' font-size="33">2</text>
<text x="92.05" y="748.21" font-family='"Liberation Sans", sans-serif' font-size="33">5</text>
<text x="73.69" y="685.25" font-family='"Liberation Sans", sans-serif' font-size="33">3</text>
<text x="92.05" y="685.25" font-family='"Liberation Sans", sans-serif' font-size="33">0</text>
<text x="73.69" y="622.29" font-family='"Liberation Sans", sans-serif' font-size="33">3</text>
<text x="92.05" y="622.29" font-family='"Liberation Sans", sans-serif' font-size="33">5</text>
<text x="561.00" y="1118.30" font-family='"Liberation Sans", sans-serif' font-size="35.3" text-anchor="middle" fill="#000" >Strain ε (%)</text>
<text transform="translate(35,827) rotate(-90)" font-family='"Liberation Sans", sans-serif' font-size="35.6" text-anchor="middle">Stress σ (N/m)</text>
<text transform="translate(0.10,598.60) scale(1.1000,1)" font-family='"Liberation Sans", sans-serif' font-size="40.5" text-anchor="start" fill="#000" >(b)</text>
<rect x="692.9" y="897.7" width="291.3" height="136.8" fill="#fff" stroke="#262626" stroke-width="1.3"/>
<text x="806.20" y="938.10" font-family='"Liberation Sans", sans-serif' font-size="33" text-anchor="start" fill="#000" >DMC SEM</text>
<line x1="718" y1="924.10" x2="767.6" y2="924.10" stroke="#ffa500" stroke-width="3.6"/>
<line x1="718.00" y1="906.60" x2="718.00" y2="941.60" stroke="#ffa500" stroke-width="3.6"/>
<line x1="713.00" y1="906.60" x2="723.00" y2="906.60" stroke="#ffa500" stroke-width="1.4"/>
<line x1="713.00" y1="941.60" x2="723.00" y2="941.60" stroke="#ffa500" stroke-width="1.4"/>
<line x1="767.60" y1="906.60" x2="767.60" y2="941.60" stroke="#ffa500" stroke-width="3.6"/>
<line x1="762.60" y1="906.60" x2="772.60" y2="906.60" stroke="#ffa500" stroke-width="1.4"/>
<line x1="762.60" y1="941.60" x2="772.60" y2="941.60" stroke="#ffa500" stroke-width="1.4"/>
<text x="806.20" y="976.10" font-family='"Liberation Sans", sans-serif' font-size="33" text-anchor="start" fill="#000" >DMC AFI</text>
<line x1="718" y1="962.10" x2="767.6" y2="962.10" stroke="#ff0000" stroke-width="3.6"/>
<line x1="718.00" y1="944.60" x2="718.00" y2="979.60" stroke="#ff0000" stroke-width="3.6"/>
<line x1="713.00" y1="944.60" x2="723.00" y2="944.60" stroke="#ff0000" stroke-width="1.4"/>
<line x1="713.00" y1="979.60" x2="723.00" y2="979.60" stroke="#ff0000" stroke-width="1.4"/>
<line x1="767.60" y1="944.60" x2="767.60" y2="979.60" stroke="#ff0000" stroke-width="3.6"/>
<line x1="762.60" y1="944.60" x2="772.60" y2="944.60" stroke="#ff0000" stroke-width="1.4"/>
<line x1="762.60" y1="979.60" x2="772.60" y2="979.60" stroke="#ff0000" stroke-width="1.4"/>
<text x="806.20" y="1013.80" font-family='"Liberation Sans", sans-serif' font-size="33" text-anchor="start" fill="#000" >DMC DIM</text>
<line x1="718" y1="999.80" x2="767.6" y2="999.80" stroke="#0000ff" stroke-width="3.6"/>
<line x1="718.00" y1="982.30" x2="718.00" y2="1017.30" stroke="#0000ff" stroke-width="3.6"/>
<line x1="713.00" y1="982.30" x2="723.00" y2="982.30" stroke="#0000ff" stroke-width="1.4"/>
<line x1="713.00" y1="1017.30" x2="723.00" y2="1017.30" stroke="#0000ff" stroke-width="1.4"/>
<line x1="767.60" y1="982.30" x2="767.60" y2="1017.30" stroke="#0000ff" stroke-width="3.6"/>
<line x1="762.60" y1="982.30" x2="772.60" y2="982.30" stroke="#0000ff" stroke-width="1.4"/>
<line x1="762.60" y1="1017.30" x2="772.60" y2="1017.30" stroke="#0000ff" stroke-width="1.4"/>
<g clip-path="url(#cc)">
<polygon points="195.4,1143.40 584.9,1143.40 584.9,1595.20 470.0,1595.20 464.0,1578 440,1500 195.4,1400" fill="#d9d8ff"/>
<line x1="117.30" y1="1175.67" x2="1002.00" y2="1175.67" stroke="#000" stroke-width="2.2"/>
<line x1="117.30" y1="1175.67" x2="854.55" y2="1175.67" stroke="#000" stroke-width="4.2"/>
<line x1="854.55" y1="1170.17" x2="854.55" y2="1181.17" stroke="#333" stroke-width="1.1"/>
<line x1="848.75" y1="1170.17" x2="848.75" y2="1181.17" stroke="#333" stroke-width="1.1"/>
<line x1="842.95" y1="1170.17" x2="842.95" y2="1181.17" stroke="#333" stroke-width="1.1"/>
<line x1="837.15" y1="1170.17" x2="837.15" y2="1181.17" stroke="#333" stroke-width="1.1"/>
<line x1="831.35" y1="1170.17" x2="831.35" y2="1181.17" stroke="#333" stroke-width="1.1"/>
<line x1="825.55" y1="1170.17" x2="825.55" y2="1181.17" stroke="#333" stroke-width="1.1"/>
<line x1="819.75" y1="1170.17" x2="819.75" y2="1181.17" stroke="#333" stroke-width="1.1"/>
<line x1="813.95" y1="1170.17" x2="813.95" y2="1181.17" stroke="#333" stroke-width="1.1"/>
<line x1="808.15" y1="1170.17" x2="808.15" y2="1181.17" stroke="#333" stroke-width="1.1"/>
<line x1="802.35" y1="1170.17" x2="802.35" y2="1181.17" stroke="#333" stroke-width="1.1"/>
<line x1="796.55" y1="1170.17" x2="796.55" y2="1181.17" stroke="#333" stroke-width="1.1"/>
<line x1="790.75" y1="1170.17" x2="790.75" y2="1181.17" stroke="#333" stroke-width="1.1"/>
<line x1="784.95" y1="1170.17" x2="784.95" y2="1181.17" stroke="#333" stroke-width="1.1"/>
<line x1="779.15" y1="1170.17" x2="779.15" y2="1181.17" stroke="#333" stroke-width="1.1"/>
<line x1="773.35" y1="1170.17" x2="773.35" y2="1181.17" stroke="#333" stroke-width="1.1"/>
<line x1="767.55" y1="1170.17" x2="767.55" y2="1181.17" stroke="#333" stroke-width="1.1"/>
<line x1="761.75" y1="1170.17" x2="761.75" y2="1181.17" stroke="#333" stroke-width="1.1"/>
<line x1="755.95" y1="1170.17" x2="755.95" y2="1181.17" stroke="#333" stroke-width="1.1"/>
<line x1="750.15" y1="1170.17" x2="750.15" y2="1181.17" stroke="#333" stroke-width="1.1"/>
<line x1="744.35" y1="1170.17" x2="744.35" y2="1181.17" stroke="#333" stroke-width="1.1"/>
<line x1="738.55" y1="1170.17" x2="738.55" y2="1181.17" stroke="#333" stroke-width="1.1"/>
<line x1="732.75" y1="1170.17" x2="732.75" y2="1181.17" stroke="#333" stroke-width="1.1"/>
<line x1="726.95" y1="1170.17" x2="726.95" y2="1181.17" stroke="#333" stroke-width="1.1"/>
<line x1="721.15" y1="1170.17" x2="721.15" y2="1181.17" stroke="#333" stroke-width="1.1"/>
<line x1="715.35" y1="1170.17" x2="715.35" y2="1181.17" stroke="#333" stroke-width="1.1"/>
<line x1="709.55" y1="1170.17" x2="709.55" y2="1181.17" stroke="#333" stroke-width="1.1"/>
<line x1="703.75" y1="1170.17" x2="703.75" y2="1181.17" stroke="#333" stroke-width="1.1"/>
<line x1="697.95" y1="1170.17" x2="697.95" y2="1181.17" stroke="#333" stroke-width="1.1"/>
<line x1="692.15" y1="1170.17" x2="692.15" y2="1181.17" stroke="#333" stroke-width="1.1"/>
<line x1="686.35" y1="1170.17" x2="686.35" y2="1181.17" stroke="#333" stroke-width="1.1"/>
<line x1="680.55" y1="1170.17" x2="680.55" y2="1181.17" stroke="#333" stroke-width="1.1"/>
<line x1="674.75" y1="1170.17" x2="674.75" y2="1181.17" stroke="#333" stroke-width="1.1"/>
<line x1="668.95" y1="1170.17" x2="668.95" y2="1181.17" stroke="#333" stroke-width="1.1"/>
<line x1="663.15" y1="1170.17" x2="663.15" y2="1181.17" stroke="#333" stroke-width="1.1"/>
<line x1="657.35" y1="1170.17" x2="657.35" y2="1181.17" stroke="#333" stroke-width="1.1"/>
<line x1="651.55" y1="1170.17" x2="651.55" y2="1181.17" stroke="#333" stroke-width="1.1"/>
<line x1="645.75" y1="1170.17" x2="645.75" y2="1181.17" stroke="#333" stroke-width="1.1"/>
<line x1="639.95" y1="1170.17" x2="639.95" y2="1181.17" stroke="#333" stroke-width="1.1"/>
<line x1="634.15" y1="1170.17" x2="634.15" y2="1181.17" stroke="#333" stroke-width="1.1"/>
<line x1="628.35" y1="1170.17" x2="628.35" y2="1181.17" stroke="#333" stroke-width="1.1"/>
<line x1="622.55" y1="1170.17" x2="622.55" y2="1181.17" stroke="#333" stroke-width="1.1"/>
<line x1="616.75" y1="1170.17" x2="616.75" y2="1181.17" stroke="#333" stroke-width="1.1"/>
<line x1="610.95" y1="1170.17" x2="610.95" y2="1181.17" stroke="#333" stroke-width="1.1"/>
<line x1="605.15" y1="1170.17" x2="605.15" y2="1181.17" stroke="#333" stroke-width="1.1"/>
<line x1="599.35" y1="1170.17" x2="599.35" y2="1181.17" stroke="#333" stroke-width="1.1"/>
<line x1="593.55" y1="1170.17" x2="593.55" y2="1181.17" stroke="#333" stroke-width="1.1"/>
<line x1="587.75" y1="1170.17" x2="587.75" y2="1181.17" stroke="#333" stroke-width="1.1"/>
<line x1="581.95" y1="1170.17" x2="581.95" y2="1181.17" stroke="#333" stroke-width="1.1"/>
<line x1="576.15" y1="1170.17" x2="576.15" y2="1181.17" stroke="#333" stroke-width="1.1"/>
<line x1="570.35" y1="1170.17" x2="570.35" y2="1181.17" stroke="#333" stroke-width="1.1"/>
<line x1="564.55" y1="1170.17" x2="564.55" y2="1181.17" stroke="#333" stroke-width="1.1"/>
<line x1="558.75" y1="1170.17" x2="558.75" y2="1181.17" stroke="#333" stroke-width="1.1"/>
<line x1="552.95" y1="1170.17" x2="552.95" y2="1181.17" stroke="#333" stroke-width="1.1"/>
<line x1="547.15" y1="1170.17" x2="547.15" y2="1181.17" stroke="#333" stroke-width="1.1"/>
<line x1="541.35" y1="1170.17" x2="541.35" y2="1181.17" stroke="#333" stroke-width="1.1"/>
<line x1="535.55" y1="1170.17" x2="535.55" y2="1181.17" stroke="#333" stroke-width="1.1"/>
<line x1="529.75" y1="1170.17" x2="529.75" y2="1181.17" stroke="#333" stroke-width="1.1"/>
<line x1="523.95" y1="1170.17" x2="523.95" y2="1181.17" stroke="#333" stroke-width="1.1"/>
<line x1="518.15" y1="1170.17" x2="518.15" y2="1181.17" stroke="#333" stroke-width="1.1"/>
<line x1="512.35" y1="1170.17" x2="512.35" y2="1181.17" stroke="#333" stroke-width="1.1"/>
<line x1="506.55" y1="1170.17" x2="506.55" y2="1181.17" stroke="#333" stroke-width="1.1"/>
<line x1="500.75" y1="1170.17" x2="500.75" y2="1181.17" stroke="#333" stroke-width="1.1"/>
<line x1="494.95" y1="1170.17" x2="494.95" y2="1181.17" stroke="#333" stroke-width="1.1"/>
<line x1="489.15" y1="1170.17" x2="489.15" y2="1181.17" stroke="#333" stroke-width="1.1"/>
<line x1="483.35" y1="1170.17" x2="483.35" y2="1181.17" stroke="#333" stroke-width="1.1"/>
<line x1="477.55" y1="1170.17" x2="477.55" y2="1181.17" stroke="#333" stroke-width="1.1"/>
<line x1="471.75" y1="1170.17" x2="471.75" y2="1181.17" stroke="#333" stroke-width="1.1"/>
<line x1="465.95" y1="1170.17" x2="465.95" y2="1181.17" stroke="#333" stroke-width="1.1"/>
<line x1="460.15" y1="1170.17" x2="460.15" y2="1181.17" stroke="#333" stroke-width="1.1"/>
<line x1="454.35" y1="1170.17" x2="454.35" y2="1181.17" stroke="#333" stroke-width="1.1"/>
<line x1="448.55" y1="1170.17" x2="448.55" y2="1181.17" stroke="#333" stroke-width="1.1"/>
<line x1="442.75" y1="1170.17" x2="442.75" y2="1181.17" stroke="#333" stroke-width="1.1"/>
<line x1="436.95" y1="1170.17" x2="436.95" y2="1181.17" stroke="#333" stroke-width="1.1"/>
<line x1="431.15" y1="1170.17" x2="431.15" y2="1181.17" stroke="#333" stroke-width="1.1"/>
<line x1="425.35" y1="1170.17" x2="425.35" y2="1181.17" stroke="#333" stroke-width="1.1"/>
<line x1="419.55" y1="1170.17" x2="419.55" y2="1181.17" stroke="#333" stroke-width="1.1"/>
<line x1="413.75" y1="1170.17" x2="413.75" y2="1181.17" stroke="#333" stroke-width="1.1"/>
<line x1="407.95" y1="1170.17" x2="407.95" y2="1181.17" stroke="#333" stroke-width="1.1"/>
<line x1="402.15" y1="1170.17" x2="402.15" y2="1181.17" stroke="#333" stroke-width="1.1"/>
<line x1="396.35" y1="1170.17" x2="396.35" y2="1181.17" stroke="#333" stroke-width="1.1"/>
<line x1="390.55" y1="1170.17" x2="390.55" y2="1181.17" stroke="#333" stroke-width="1.1"/>
<line x1="384.75" y1="1170.17" x2="384.75" y2="1181.17" stroke="#333" stroke-width="1.1"/>
<line x1="378.95" y1="1170.17" x2="378.95" y2="1181.17" stroke="#333" stroke-width="1.1"/>
<line x1="373.15" y1="1170.17" x2="373.15" y2="1181.17" stroke="#333" stroke-width="1.1"/>
<line x1="367.35" y1="1170.17" x2="367.35" y2="1181.17" stroke="#333" stroke-width="1.1"/>
<line x1="361.55" y1="1170.17" x2="361.55" y2="1181.17" stroke="#333" stroke-width="1.1"/>
<line x1="355.75" y1="1170.17" x2="355.75" y2="1181.17" stroke="#333" stroke-width="1.1"/>
<line x1="349.95" y1="1170.17" x2="349.95" y2="1181.17" stroke="#333" stroke-width="1.1"/>
<line x1="344.15" y1="1170.17" x2="344.15" y2="1181.17" stroke="#333" stroke-width="1.1"/>
<line x1="338.35" y1="1170.17" x2="338.35" y2="1181.17" stroke="#333" stroke-width="1.1"/>
<line x1="332.55" y1="1170.17" x2="332.55" y2="1181.17" stroke="#333" stroke-width="1.1"/>
<line x1="326.75" y1="1170.17" x2="326.75" y2="1181.17" stroke="#333" stroke-width="1.1"/>
<line x1="320.95" y1="1170.17" x2="320.95" y2="1181.17" stroke="#333" stroke-width="1.1"/>
<line x1="315.15" y1="1170.17" x2="315.15" y2="1181.17" stroke="#333" stroke-width="1.1"/>
<line x1="309.35" y1="1170.17" x2="309.35" y2="1181.17" stroke="#333" stroke-width="1.1"/>
<line x1="303.55" y1="1170.17" x2="303.55" y2="1181.17" stroke="#333" stroke-width="1.1"/>
<line x1="297.75" y1="1170.17" x2="297.75" y2="1181.17" stroke="#333" stroke-width="1.1"/>
<line x1="291.95" y1="1170.17" x2="291.95" y2="1181.17" stroke="#333" stroke-width="1.1"/>
<line x1="286.15" y1="1170.17" x2="286.15" y2="1181.17" stroke="#333" stroke-width="1.1"/>
<line x1="280.35" y1="1170.17" x2="280.35" y2="1181.17" stroke="#333" stroke-width="1.1"/>
<line x1="274.55" y1="1170.17" x2="274.55" y2="1181.17" stroke="#333" stroke-width="1.1"/>
<line x1="268.75" y1="1170.17" x2="268.75" y2="1181.17" stroke="#333" stroke-width="1.1"/>
<line x1="262.95" y1="1170.17" x2="262.95" y2="1181.17" stroke="#333" stroke-width="1.1"/>
<line x1="257.15" y1="1170.17" x2="257.15" y2="1181.17" stroke="#333" stroke-width="1.1"/>
<line x1="251.35" y1="1170.17" x2="251.35" y2="1181.17" stroke="#333" stroke-width="1.1"/>
<line x1="245.55" y1="1170.17" x2="245.55" y2="1181.17" stroke="#333" stroke-width="1.1"/>
<line x1="239.75" y1="1170.17" x2="239.75" y2="1181.17" stroke="#333" stroke-width="1.1"/>
<line x1="233.95" y1="1170.17" x2="233.95" y2="1181.17" stroke="#333" stroke-width="1.1"/>
<line x1="228.15" y1="1170.17" x2="228.15" y2="1181.17" stroke="#333" stroke-width="1.1"/>
<line x1="222.35" y1="1170.17" x2="222.35" y2="1181.17" stroke="#333" stroke-width="1.1"/>
<line x1="216.55" y1="1170.17" x2="216.55" y2="1181.17" stroke="#333" stroke-width="1.1"/>
<line x1="210.75" y1="1170.17" x2="210.75" y2="1181.17" stroke="#333" stroke-width="1.1"/>
<line x1="204.95" y1="1170.17" x2="204.95" y2="1181.17" stroke="#333" stroke-width="1.1"/>
<line x1="199.15" y1="1170.17" x2="199.15" y2="1181.17" stroke="#333" stroke-width="1.1"/>
<line x1="193.35" y1="1170.17" x2="193.35" y2="1181.17" stroke="#333" stroke-width="1.1"/>
<line x1="187.55" y1="1170.17" x2="187.55" y2="1181.17" stroke="#333" stroke-width="1.1"/>
<line x1="181.75" y1="1170.17" x2="181.75" y2="1181.17" stroke="#333" stroke-width="1.1"/>
<line x1="175.95" y1="1170.17" x2="175.95" y2="1181.17" stroke="#333" stroke-width="1.1"/>
<line x1="170.15" y1="1170.17" x2="170.15" y2="1181.17" stroke="#333" stroke-width="1.1"/>
<line x1="164.35" y1="1170.17" x2="164.35" y2="1181.17" stroke="#333" stroke-width="1.1"/>
<line x1="158.55" y1="1170.17" x2="158.55" y2="1181.17" stroke="#333" stroke-width="1.1"/>
<line x1="152.75" y1="1170.17" x2="152.75" y2="1181.17" stroke="#333" stroke-width="1.1"/>
<line x1="146.95" y1="1170.17" x2="146.95" y2="1181.17" stroke="#333" stroke-width="1.1"/>
<line x1="141.15" y1="1170.17" x2="141.15" y2="1181.17" stroke="#333" stroke-width="1.1"/>
<line x1="135.35" y1="1170.17" x2="135.35" y2="1181.17" stroke="#333" stroke-width="1.1"/>
<line x1="129.55" y1="1170.17" x2="129.55" y2="1181.17" stroke="#333" stroke-width="1.1"/>
<line x1="123.75" y1="1170.17" x2="123.75" y2="1181.17" stroke="#333" stroke-width="1.1"/>
<line x1="117.95" y1="1170.17" x2="117.95" y2="1181.17" stroke="#333" stroke-width="1.1"/>
<polyline fill="none" stroke="#ff00ff" stroke-width="4.0" points="117.30,1177.29 119.16,1177.29 121.03,1177.29 122.89,1177.29 124.75,1177.29 126.61,1177.29 128.48,1177.29 130.34,1177.29 132.20,1177.29 134.06,1177.29 135.93,1177.29 137.79,1177.29 139.65,1177.29 141.51,1177.29 143.38,1177.29 145.24,1177.29 147.10,1177.29 148.96,1177.29 150.83,1177.29 152.69,1177.29 154.55,1177.29 156.41,1177.29 158.28,1177.29 160.14,1177.29 162.00,1177.29 163.86,1177.29 165.73,1177.29 167.59,1177.29 169.45,1177.29 171.31,1177.29 173.18,1177.29 175.04,1177.29 176.90,1177.29 178.76,1177.29 180.63,1177.29 182.49,1177.29 184.35,1177.29 186.21,1177.29 188.08,1177.29 189.94,1177.29 191.80,1177.29 193.66,1177.29 195.53,1177.29 197.39,1177.29 199.25,1177.29 201.11,1177.29 202.98,1177.29 204.84,1177.29 206.70,1177.29 208.56,1177.30 210.43,1177.30 212.29,1177.31 214.15,1177.31 216.01,1177.32 217.88,1177.32 219.74,1177.33 221.60,1177.34 223.46,1177.35 225.33,1177.35 227.19,1177.36 229.05,1177.37 230.91,1177.38 232.78,1177.39 234.64,1177.40 236.50,1177.41 238.36,1177.42 240.23,1177.43 242.09,1177.44 243.95,1177.46 245.81,1177.47 247.68,1177.48 249.54,1177.49 251.40,1177.51 253.26,1177.52 255.13,1177.53 256.99,1177.55 258.85,1177.56 260.71,1177.58 262.58,1177.59 264.44,1177.61 266.30,1177.62 268.16,1177.64 270.03,1177.66 271.89,1177.68 273.75,1177.71 275.61,1177.74 277.48,1177.76 279.34,1177.80 281.20,1177.83 283.06,1177.87 284.93,1177.90 286.79,1177.94 288.65,1177.98 290.51,1178.03 292.38,1178.07 294.24,1178.12 296.10,1178.17 297.97,1178.22 299.83,1178.27 301.69,1178.32 303.55,1178.37 305.42,1178.43 307.28,1178.48 309.14,1178.54 311.00,1178.60 312.87,1178.66 314.73,1178.72 316.59,1178.78 318.45,1178.84 320.32,1178.91 322.18,1178.98 324.04,1179.05 325.90,1179.13 327.77,1179.21 329.63,1179.30 331.49,1179.39 333.35,1179.49 335.22,1179.59 337.08,1179.69 338.94,1179.80 340.80,1179.92 342.67,1180.03 344.53,1180.15 346.39,1180.28 348.25,1180.41 350.12,1180.54 351.98,1180.67 353.84,1180.81 355.70,1180.94 357.57,1181.08 359.43,1181.23 361.29,1181.37 363.15,1181.52 365.02,1181.67 366.88,1181.82 368.74,1181.97 370.60,1182.12 372.47,1182.27 374.33,1182.43 376.19,1182.58 378.05,1182.74 379.92,1182.89 381.78,1183.05 383.64,1183.20 385.50,1183.36 387.37,1183.51 389.23,1183.67 391.09,1183.82 392.95,1183.98 394.82,1184.14 396.68,1184.31 398.54,1184.48 400.40,1184.65 402.27,1184.82 404.13,1185.00 405.99,1185.18 407.85,1185.36 409.72,1185.55 411.58,1185.73 413.44,1185.92 415.30,1186.11 417.17,1186.31 419.03,1186.50 420.89,1186.70 422.75,1186.89 424.62,1187.09 426.48,1187.29 428.34,1187.49 430.20,1187.69 432.07,1187.90 433.93,1188.10 435.79,1188.30 437.65,1188.50 439.52,1188.71 441.38,1188.91 443.24,1189.11 445.10,1189.31 446.97,1189.51 448.83,1189.71 450.69,1189.91 452.55,1190.11 454.42,1190.30 456.28,1190.50 458.14,1190.69 460.00,1190.89 461.87,1191.08 463.73,1191.27 465.59,1191.47 467.45,1191.66 469.32,1191.85 471.18,1192.04 473.04,1192.23 474.91,1192.43 476.77,1192.62 478.63,1192.81 480.49,1193.01 482.36,1193.20 484.22,1193.40 486.08,1193.59 487.94,1193.79 489.81,1193.99 491.67,1194.19 493.53,1194.39 495.39,1194.59 497.26,1194.79 499.12,1195.00 500.98,1195.20 502.84,1195.41 504.71,1195.62 506.57,1195.83 508.43,1196.05 510.29,1196.26 512.16,1196.47 514.02,1196.67 515.88,1196.88 517.74,1197.08 519.61,1197.29 521.47,1197.49 523.33,1197.69 525.19,1197.90 527.06,1198.10 528.92,1198.31 530.78,1198.52 532.64,1198.73 534.51,1198.95 536.37,1199.17 538.23,1199.39 540.09,1199.62 541.96,1199.86 543.82,1200.10 545.68,1200.35 547.54,1200.60 549.41,1200.86 551.27,1201.13 553.13,1201.41 554.99,1201.70 556.86,1201.99 558.72,1202.30 560.58,1202.62 562.44,1202.96 564.31,1203.31 566.17,1203.69 568.03,1204.09 569.89,1204.50 571.76,1204.93 573.62,1205.37 575.48,1205.83 577.34,1206.30 579.21,1206.79 581.07,1207.29 582.93,1207.80 584.79,1208.32 586.66,1208.85 588.52,1209.39 590.38,1209.93 592.24,1210.49 594.11,1211.04 595.97,1211.61 597.83,1212.18 599.69,1212.75 601.56,1213.33 603.42,1213.91 605.28,1214.49 607.14,1215.07 609.01,1215.64 610.87,1216.22 612.73,1216.80 614.59,1217.37 616.46,1217.94 618.32,1218.50 620.18,1219.06 622.04,1219.61 623.91,1220.17 625.77,1220.72 627.63,1221.28 629.49,1221.83 631.36,1222.39 633.22,1222.95 635.08,1223.51 636.94,1224.07 638.81,1224.64 640.67,1225.21 642.53,1225.78 644.39,1226.36 646.26,1226.95 648.12,1227.54 649.98,1228.14 651.85,1228.75 653.71,1229.37 655.57,1229.99 657.43,1230.63 659.30,1231.27 661.16,1231.93 663.02,1232.59 664.88,1233.27 666.75,1233.96 668.61,1234.66 670.47,1235.38 672.33,1236.11 674.20,1236.86 676.06,1237.62 677.92,1238.40 679.78,1239.20 681.65,1240.02 683.51,1240.87 685.37,1241.74 687.23,1242.63 689.10,1243.54 690.96,1244.47 692.82,1245.42 694.68,1246.39 696.55,1247.38 698.41,1248.39 700.27,1249.41 702.13,1250.46 704.00,1251.51 705.86,1252.58 707.72,1253.67 709.58,1254.77 711.45,1255.89 713.31,1257.02 715.17,1258.16 717.03,1259.31 718.90,1260.47 720.76,1261.65 722.62,1262.83 724.48,1264.03 726.35,1265.25 728.21,1266.49 730.07,1267.76 731.93,1269.04 733.80,1270.35 735.66,1271.68 737.52,1273.03 739.38,1274.40 741.25,1275.80 743.11,1277.21 744.97,1278.65 746.83,1280.11 748.70,1281.59 750.56,1283.09 752.42,1284.61 754.28,1286.15 756.15,1287.71 758.01,1289.30 759.87,1290.90 761.73,1292.53 763.60,1294.17 765.46,1295.84 767.32,1297.52 769.18,1299.22 771.05,1300.94 772.91,1302.68 774.77,1304.44 776.63,1306.23 778.50,1308.05 780.36,1309.91 782.22,1311.80 784.08,1313.72 785.95,1315.69 787.81,1317.71 789.67,1319.77 791.53,1321.88 793.40,1324.04 795.26,1326.26 797.12,1328.54 798.98,1330.88 800.85,1333.28 802.71,1335.75 804.57,1338.30 806.43,1340.96 808.30,1343.73 810.16,1346.59 812.02,1349.56 813.88,1352.62 815.75,1355.77 817.61,1359.00 819.47,1362.33 821.33,1365.73 823.20,1369.21 825.06,1372.77 826.92,1376.40 828.79,1380.09 830.65,1383.85 832.51,1387.68 834.37,1391.56 836.24,1395.49 838.10,1399.48 839.96,1403.53 841.82,1407.76 843.69,1412.20 845.55,1416.89 847.41,1421.83 849.27,1427.05 851.14,1432.61 853.00,1438.53 854.86,1444.79 856.72,1451.38 858.59,1458.28 860.45,1465.47" stroke-dasharray="5.5,6"/>
<line x1="860.45" y1="1459.97" x2="860.45" y2="1470.97" stroke="#ff00ff" stroke-width="1.8"/><line x1="858.25" y1="1459.97" x2="862.65" y2="1459.97" stroke="#ff00ff" stroke-width="1.8"/><line x1="858.25" y1="1470.97" x2="862.65" y2="1470.97" stroke="#ff00ff" stroke-width="1.8"/>
<line x1="856.45" y1="1465.47" x2="864.45" y2="1465.47" stroke="#ff00ff" stroke-width="1.6"/>
<line x1="848.97" y1="1421.68" x2="848.97" y2="1430.68" stroke="#ff00ff" stroke-width="1.8"/><line x1="846.77" y1="1421.68" x2="851.17" y2="1421.68" stroke="#ff00ff" stroke-width="1.8"/><line x1="846.77" y1="1430.68" x2="851.17" y2="1430.68" stroke="#ff00ff" stroke-width="1.8"/>
<line x1="844.97" y1="1426.18" x2="852.97" y2="1426.18" stroke="#ff00ff" stroke-width="1.6"/>
<line x1="837.49" y1="1393.67" x2="837.49" y2="1402.67" stroke="#ff00ff" stroke-width="1.8"/><line x1="835.29" y1="1393.67" x2="839.69" y2="1393.67" stroke="#ff00ff" stroke-width="1.8"/><line x1="835.29" y1="1402.67" x2="839.69" y2="1402.67" stroke="#ff00ff" stroke-width="1.8"/>
<line x1="833.49" y1="1398.17" x2="841.49" y2="1398.17" stroke="#ff00ff" stroke-width="1.6"/>
<line x1="826.01" y1="1370.11" x2="826.01" y2="1379.11" stroke="#ff00ff" stroke-width="1.8"/><line x1="823.81" y1="1370.11" x2="828.21" y2="1370.11" stroke="#ff00ff" stroke-width="1.8"/><line x1="823.81" y1="1379.11" x2="828.21" y2="1379.11" stroke="#ff00ff" stroke-width="1.8"/>
<line x1="822.01" y1="1374.61" x2="830.01" y2="1374.61" stroke="#ff00ff" stroke-width="1.6"/>
<line x1="814.53" y1="1349.20" x2="814.53" y2="1358.20" stroke="#ff00ff" stroke-width="1.8"/><line x1="812.33" y1="1349.20" x2="816.73" y2="1349.20" stroke="#ff00ff" stroke-width="1.8"/><line x1="812.33" y1="1358.20" x2="816.73" y2="1358.20" stroke="#ff00ff" stroke-width="1.8"/>
<line x1="810.53" y1="1353.70" x2="818.53" y2="1353.70" stroke="#ff00ff" stroke-width="1.6"/>
<line x1="803.05" y1="1331.71" x2="803.05" y2="1340.71" stroke="#ff00ff" stroke-width="1.8"/><line x1="800.85" y1="1331.71" x2="805.25" y2="1331.71" stroke="#ff00ff" stroke-width="1.8"/><line x1="800.85" y1="1340.71" x2="805.25" y2="1340.71" stroke="#ff00ff" stroke-width="1.8"/>
<line x1="799.05" y1="1336.21" x2="807.05" y2="1336.21" stroke="#ff00ff" stroke-width="1.6"/>
<line x1="791.57" y1="1317.42" x2="791.57" y2="1326.42" stroke="#ff00ff" stroke-width="1.8"/><line x1="789.37" y1="1317.42" x2="793.77" y2="1317.42" stroke="#ff00ff" stroke-width="1.8"/><line x1="789.37" y1="1326.42" x2="793.77" y2="1326.42" stroke="#ff00ff" stroke-width="1.8"/>
<line x1="787.57" y1="1321.92" x2="795.57" y2="1321.92" stroke="#ff00ff" stroke-width="1.6"/>
<line x1="780.10" y1="1305.14" x2="780.10" y2="1314.14" stroke="#ff00ff" stroke-width="1.8"/><line x1="777.90" y1="1305.14" x2="782.30" y2="1305.14" stroke="#ff00ff" stroke-width="1.8"/><line x1="777.90" y1="1314.14" x2="782.30" y2="1314.14" stroke="#ff00ff" stroke-width="1.8"/>
<line x1="776.10" y1="1309.64" x2="784.10" y2="1309.64" stroke="#ff00ff" stroke-width="1.6"/>
<line x1="768.62" y1="1294.20" x2="768.62" y2="1303.20" stroke="#ff00ff" stroke-width="1.8"/><line x1="766.42" y1="1294.20" x2="770.82" y2="1294.20" stroke="#ff00ff" stroke-width="1.8"/><line x1="766.42" y1="1303.20" x2="770.82" y2="1303.20" stroke="#ff00ff" stroke-width="1.8"/>
<line x1="764.62" y1="1298.70" x2="772.62" y2="1298.70" stroke="#ff00ff" stroke-width="1.6"/>
<line x1="757.14" y1="1284.05" x2="757.14" y2="1293.05" stroke="#ff00ff" stroke-width="1.8"/><line x1="754.94" y1="1284.05" x2="759.34" y2="1284.05" stroke="#ff00ff" stroke-width="1.8"/><line x1="754.94" y1="1293.05" x2="759.34" y2="1293.05" stroke="#ff00ff" stroke-width="1.8"/>
<line x1="753.14" y1="1288.55" x2="761.14" y2="1288.55" stroke="#ff00ff" stroke-width="1.6"/>
<line x1="745.66" y1="1274.68" x2="745.66" y2="1283.68" stroke="#ff00ff" stroke-width="1.8"/><line x1="743.46" y1="1274.68" x2="747.86" y2="1274.68" stroke="#ff00ff" stroke-width="1.8"/><line x1="743.46" y1="1283.68" x2="747.86" y2="1283.68" stroke="#ff00ff" stroke-width="1.8"/>
<line x1="741.66" y1="1279.18" x2="749.66" y2="1279.18" stroke="#ff00ff" stroke-width="1.6"/>
<line x1="734.18" y1="1266.12" x2="734.18" y2="1275.12" stroke="#ff00ff" stroke-width="1.8"/><line x1="731.98" y1="1266.12" x2="736.38" y2="1266.12" stroke="#ff00ff" stroke-width="1.8"/><line x1="731.98" y1="1275.12" x2="736.38" y2="1275.12" stroke="#ff00ff" stroke-width="1.8"/>
<line x1="730.18" y1="1270.62" x2="738.18" y2="1270.62" stroke="#ff00ff" stroke-width="1.6"/>
<line x1="722.70" y1="1258.38" x2="722.70" y2="1267.38" stroke="#ff00ff" stroke-width="1.8"/><line x1="720.50" y1="1258.38" x2="724.90" y2="1258.38" stroke="#ff00ff" stroke-width="1.8"/><line x1="720.50" y1="1267.38" x2="724.90" y2="1267.38" stroke="#ff00ff" stroke-width="1.8"/>
<line x1="718.70" y1="1262.88" x2="726.70" y2="1262.88" stroke="#ff00ff" stroke-width="1.6"/>
<line x1="711.22" y1="1251.25" x2="711.22" y2="1260.25" stroke="#ff00ff" stroke-width="1.8"/><line x1="709.02" y1="1251.25" x2="713.42" y2="1251.25" stroke="#ff00ff" stroke-width="1.8"/><line x1="709.02" y1="1260.25" x2="713.42" y2="1260.25" stroke="#ff00ff" stroke-width="1.8"/>
<line x1="707.22" y1="1255.75" x2="715.22" y2="1255.75" stroke="#ff00ff" stroke-width="1.6"/>
<line x1="699.74" y1="1244.62" x2="699.74" y2="1253.62" stroke="#ff00ff" stroke-width="1.8"/><line x1="697.54" y1="1244.62" x2="701.94" y2="1244.62" stroke="#ff00ff" stroke-width="1.8"/><line x1="697.54" y1="1253.62" x2="701.94" y2="1253.62" stroke="#ff00ff" stroke-width="1.8"/>
<line x1="695.74" y1="1249.12" x2="703.74" y2="1249.12" stroke="#ff00ff" stroke-width="1.6"/>
<line x1="688.26" y1="1238.63" x2="688.26" y2="1247.63" stroke="#ff00ff" stroke-width="1.8"/><line x1="686.06" y1="1238.63" x2="690.46" y2="1238.63" stroke="#ff00ff" stroke-width="1.8"/><line x1="686.06" y1="1247.63" x2="690.46" y2="1247.63" stroke="#ff00ff" stroke-width="1.8"/>
<line x1="684.26" y1="1243.13" x2="692.26" y2="1243.13" stroke="#ff00ff" stroke-width="1.6"/>
<line x1="676.78" y1="1233.42" x2="676.78" y2="1242.42" stroke="#ff00ff" stroke-width="1.8"/><line x1="674.58" y1="1233.42" x2="678.98" y2="1233.42" stroke="#ff00ff" stroke-width="1.8"/><line x1="674.58" y1="1242.42" x2="678.98" y2="1242.42" stroke="#ff00ff" stroke-width="1.8"/>
<line x1="672.78" y1="1237.92" x2="680.78" y2="1237.92" stroke="#ff00ff" stroke-width="1.6"/>
<line x1="665.31" y1="1228.93" x2="665.31" y2="1237.93" stroke="#ff00ff" stroke-width="1.8"/><line x1="663.11" y1="1228.93" x2="667.51" y2="1228.93" stroke="#ff00ff" stroke-width="1.8"/><line x1="663.11" y1="1237.93" x2="667.51" y2="1237.93" stroke="#ff00ff" stroke-width="1.8"/>
<line x1="661.31" y1="1233.43" x2="669.31" y2="1233.43" stroke="#ff00ff" stroke-width="1.6"/>
<line x1="653.83" y1="1224.91" x2="653.83" y2="1233.91" stroke="#ff00ff" stroke-width="1.8"/><line x1="651.63" y1="1224.91" x2="656.03" y2="1224.91" stroke="#ff00ff" stroke-width="1.8"/><line x1="651.63" y1="1233.91" x2="656.03" y2="1233.91" stroke="#ff00ff" stroke-width="1.8"/>
<line x1="649.83" y1="1229.41" x2="657.83" y2="1229.41" stroke="#ff00ff" stroke-width="1.6"/>
<line x1="642.35" y1="1221.23" x2="642.35" y2="1230.23" stroke="#ff00ff" stroke-width="1.8"/><line x1="640.15" y1="1221.23" x2="644.55" y2="1221.23" stroke="#ff00ff" stroke-width="1.8"/><line x1="640.15" y1="1230.23" x2="644.55" y2="1230.23" stroke="#ff00ff" stroke-width="1.8"/>
<line x1="638.35" y1="1225.73" x2="646.35" y2="1225.73" stroke="#ff00ff" stroke-width="1.6"/>
<line x1="630.87" y1="1217.74" x2="630.87" y2="1226.74" stroke="#ff00ff" stroke-width="1.8"/><line x1="628.67" y1="1217.74" x2="633.07" y2="1217.74" stroke="#ff00ff" stroke-width="1.8"/><line x1="628.67" y1="1226.74" x2="633.07" y2="1226.74" stroke="#ff00ff" stroke-width="1.8"/>
<line x1="626.87" y1="1222.24" x2="634.87" y2="1222.24" stroke="#ff00ff" stroke-width="1.6"/>
<line x1="619.39" y1="1214.32" x2="619.39" y2="1223.32" stroke="#ff00ff" stroke-width="1.8"/><line x1="617.19" y1="1214.32" x2="621.59" y2="1214.32" stroke="#ff00ff" stroke-width="1.8"/><line x1="617.19" y1="1223.32" x2="621.59" y2="1223.32" stroke="#ff00ff" stroke-width="1.8"/>
<line x1="615.39" y1="1218.82" x2="623.39" y2="1218.82" stroke="#ff00ff" stroke-width="1.6"/>
<line x1="607.91" y1="1210.80" x2="607.91" y2="1219.80" stroke="#ff00ff" stroke-width="1.8"/><line x1="605.71" y1="1210.80" x2="610.11" y2="1210.80" stroke="#ff00ff" stroke-width="1.8"/><line x1="605.71" y1="1219.80" x2="610.11" y2="1219.80" stroke="#ff00ff" stroke-width="1.8"/>
<line x1="603.91" y1="1215.30" x2="611.91" y2="1215.30" stroke="#ff00ff" stroke-width="1.6"/>
<line x1="596.43" y1="1207.25" x2="596.43" y2="1216.25" stroke="#ff00ff" stroke-width="1.8"/><line x1="594.23" y1="1207.25" x2="598.63" y2="1207.25" stroke="#ff00ff" stroke-width="1.8"/><line x1="594.23" y1="1216.25" x2="598.63" y2="1216.25" stroke="#ff00ff" stroke-width="1.8"/>
<line x1="592.43" y1="1211.75" x2="600.43" y2="1211.75" stroke="#ff00ff" stroke-width="1.6"/>
<line x1="584.95" y1="1203.86" x2="584.95" y2="1212.86" stroke="#ff00ff" stroke-width="1.8"/><line x1="582.75" y1="1203.86" x2="587.15" y2="1203.86" stroke="#ff00ff" stroke-width="1.8"/><line x1="582.75" y1="1212.86" x2="587.15" y2="1212.86" stroke="#ff00ff" stroke-width="1.8"/>
<line x1="580.95" y1="1208.36" x2="588.95" y2="1208.36" stroke="#ff00ff" stroke-width="1.6"/>
<line x1="573.47" y1="1200.84" x2="573.47" y2="1209.84" stroke="#ff00ff" stroke-width="1.8"/><line x1="571.27" y1="1200.84" x2="575.67" y2="1200.84" stroke="#ff00ff" stroke-width="1.8"/><line x1="571.27" y1="1209.84" x2="575.67" y2="1209.84" stroke="#ff00ff" stroke-width="1.8"/>
<line x1="569.47" y1="1205.34" x2="577.47" y2="1205.34" stroke="#ff00ff" stroke-width="1.6"/>
<line x1="561.99" y1="1198.37" x2="561.99" y2="1207.37" stroke="#ff00ff" stroke-width="1.8"/><line x1="559.79" y1="1198.37" x2="564.19" y2="1198.37" stroke="#ff00ff" stroke-width="1.8"/><line x1="559.79" y1="1207.37" x2="564.19" y2="1207.37" stroke="#ff00ff" stroke-width="1.8"/>
<line x1="557.99" y1="1202.87" x2="565.99" y2="1202.87" stroke="#ff00ff" stroke-width="1.6"/>
<line x1="550.52" y1="1196.52" x2="550.52" y2="1205.52" stroke="#ff00ff" stroke-width="1.8"/><line x1="548.32" y1="1196.52" x2="552.72" y2="1196.52" stroke="#ff00ff" stroke-width="1.8"/><line x1="548.32" y1="1205.52" x2="552.72" y2="1205.52" stroke="#ff00ff" stroke-width="1.8"/>
<line x1="546.52" y1="1201.02" x2="554.52" y2="1201.02" stroke="#ff00ff" stroke-width="1.6"/>
<line x1="539.04" y1="1194.99" x2="539.04" y2="1203.99" stroke="#ff00ff" stroke-width="1.8"/><line x1="536.84" y1="1194.99" x2="541.24" y2="1194.99" stroke="#ff00ff" stroke-width="1.8"/><line x1="536.84" y1="1203.99" x2="541.24" y2="1203.99" stroke="#ff00ff" stroke-width="1.8"/>
<line x1="535.04" y1="1199.49" x2="543.04" y2="1199.49" stroke="#ff00ff" stroke-width="1.6"/>
<line x1="527.56" y1="1193.66" x2="527.56" y2="1202.66" stroke="#ff00ff" stroke-width="1.8"/><line x1="525.36" y1="1193.66" x2="529.76" y2="1193.66" stroke="#ff00ff" stroke-width="1.8"/><line x1="525.36" y1="1202.66" x2="529.76" y2="1202.66" stroke="#ff00ff" stroke-width="1.8"/>
<line x1="523.56" y1="1198.16" x2="531.56" y2="1198.16" stroke="#ff00ff" stroke-width="1.6"/>
<line x1="516.08" y1="1192.40" x2="516.08" y2="1201.40" stroke="#ff00ff" stroke-width="1.8"/><line x1="513.88" y1="1192.40" x2="518.28" y2="1192.40" stroke="#ff00ff" stroke-width="1.8"/><line x1="513.88" y1="1201.40" x2="518.28" y2="1201.40" stroke="#ff00ff" stroke-width="1.8"/>
<line x1="512.08" y1="1196.90" x2="520.08" y2="1196.90" stroke="#ff00ff" stroke-width="1.6"/>
<line x1="504.60" y1="1191.11" x2="504.60" y2="1200.11" stroke="#ff00ff" stroke-width="1.8"/><line x1="502.40" y1="1191.11" x2="506.80" y2="1191.11" stroke="#ff00ff" stroke-width="1.8"/><line x1="502.40" y1="1200.11" x2="506.80" y2="1200.11" stroke="#ff00ff" stroke-width="1.8"/>
<line x1="500.60" y1="1195.61" x2="508.60" y2="1195.61" stroke="#ff00ff" stroke-width="1.6"/>
<line x1="493.12" y1="1189.84" x2="493.12" y2="1198.84" stroke="#ff00ff" stroke-width="1.8"/><line x1="490.92" y1="1189.84" x2="495.32" y2="1189.84" stroke="#ff00ff" stroke-width="1.8"/><line x1="490.92" y1="1198.84" x2="495.32" y2="1198.84" stroke="#ff00ff" stroke-width="1.8"/>
<line x1="489.12" y1="1194.34" x2="497.12" y2="1194.34" stroke="#ff00ff" stroke-width="1.6"/>
<line x1="481.64" y1="1188.63" x2="481.64" y2="1197.63" stroke="#ff00ff" stroke-width="1.8"/><line x1="479.44" y1="1188.63" x2="483.84" y2="1188.63" stroke="#ff00ff" stroke-width="1.8"/><line x1="479.44" y1="1197.63" x2="483.84" y2="1197.63" stroke="#ff00ff" stroke-width="1.8"/>
<line x1="477.64" y1="1193.13" x2="485.64" y2="1193.13" stroke="#ff00ff" stroke-width="1.6"/>
<line x1="470.16" y1="1187.44" x2="470.16" y2="1196.44" stroke="#ff00ff" stroke-width="1.8"/><line x1="467.96" y1="1187.44" x2="472.36" y2="1187.44" stroke="#ff00ff" stroke-width="1.8"/><line x1="467.96" y1="1196.44" x2="472.36" y2="1196.44" stroke="#ff00ff" stroke-width="1.8"/>
<line x1="466.16" y1="1191.94" x2="474.16" y2="1191.94" stroke="#ff00ff" stroke-width="1.6"/>
<line x1="458.68" y1="1186.25" x2="458.68" y2="1195.25" stroke="#ff00ff" stroke-width="1.8"/><line x1="456.48" y1="1186.25" x2="460.88" y2="1186.25" stroke="#ff00ff" stroke-width="1.8"/><line x1="456.48" y1="1195.25" x2="460.88" y2="1195.25" stroke="#ff00ff" stroke-width="1.8"/>
<line x1="454.68" y1="1190.75" x2="462.68" y2="1190.75" stroke="#ff00ff" stroke-width="1.6"/>
<line x1="447.20" y1="1185.04" x2="447.20" y2="1194.04" stroke="#ff00ff" stroke-width="1.8"/><line x1="445.00" y1="1185.04" x2="449.40" y2="1185.04" stroke="#ff00ff" stroke-width="1.8"/><line x1="445.00" y1="1194.04" x2="449.40" y2="1194.04" stroke="#ff00ff" stroke-width="1.8"/>
<line x1="443.20" y1="1189.54" x2="451.20" y2="1189.54" stroke="#ff00ff" stroke-width="1.6"/>
<line x1="435.73" y1="1183.79" x2="435.73" y2="1192.79" stroke="#ff00ff" stroke-width="1.8"/><line x1="433.53" y1="1183.79" x2="437.93" y2="1183.79" stroke="#ff00ff" stroke-width="1.8"/><line x1="433.53" y1="1192.79" x2="437.93" y2="1192.79" stroke="#ff00ff" stroke-width="1.8"/>
<line x1="431.73" y1="1188.29" x2="439.73" y2="1188.29" stroke="#ff00ff" stroke-width="1.6"/>
<line x1="424.25" y1="1182.55" x2="424.25" y2="1191.55" stroke="#ff00ff" stroke-width="1.8"/><line x1="422.05" y1="1182.55" x2="426.45" y2="1182.55" stroke="#ff00ff" stroke-width="1.8"/><line x1="422.05" y1="1191.55" x2="426.45" y2="1191.55" stroke="#ff00ff" stroke-width="1.8"/>
<line x1="420.25" y1="1187.05" x2="428.25" y2="1187.05" stroke="#ff00ff" stroke-width="1.6"/>
<line x1="412.77" y1="1181.35" x2="412.77" y2="1190.35" stroke="#ff00ff" stroke-width="1.8"/><line x1="410.57" y1="1181.35" x2="414.97" y2="1181.35" stroke="#ff00ff" stroke-width="1.8"/><line x1="410.57" y1="1190.35" x2="414.97" y2="1190.35" stroke="#ff00ff" stroke-width="1.8"/>
<line x1="408.77" y1="1185.85" x2="416.77" y2="1185.85" stroke="#ff00ff" stroke-width="1.6"/>
<line x1="401.29" y1="1180.23" x2="401.29" y2="1189.23" stroke="#ff00ff" stroke-width="1.8"/><line x1="399.09" y1="1180.23" x2="403.49" y2="1180.23" stroke="#ff00ff" stroke-width="1.8"/><line x1="399.09" y1="1189.23" x2="403.49" y2="1189.23" stroke="#ff00ff" stroke-width="1.8"/>
<line x1="397.29" y1="1184.73" x2="405.29" y2="1184.73" stroke="#ff00ff" stroke-width="1.6"/>
<line x1="389.81" y1="1179.22" x2="389.81" y2="1188.22" stroke="#ff00ff" stroke-width="1.8"/><line x1="387.61" y1="1179.22" x2="392.01" y2="1179.22" stroke="#ff00ff" stroke-width="1.8"/><line x1="387.61" y1="1188.22" x2="392.01" y2="1188.22" stroke="#ff00ff" stroke-width="1.8"/>
<line x1="385.81" y1="1183.72" x2="393.81" y2="1183.72" stroke="#ff00ff" stroke-width="1.6"/>
<line x1="378.33" y1="1178.26" x2="378.33" y2="1187.26" stroke="#ff00ff" stroke-width="1.8"/><line x1="376.13" y1="1178.26" x2="380.53" y2="1178.26" stroke="#ff00ff" stroke-width="1.8"/><line x1="376.13" y1="1187.26" x2="380.53" y2="1187.26" stroke="#ff00ff" stroke-width="1.8"/>
<line x1="374.33" y1="1182.76" x2="382.33" y2="1182.76" stroke="#ff00ff" stroke-width="1.6"/>
<line x1="366.85" y1="1177.31" x2="366.85" y2="1186.31" stroke="#ff00ff" stroke-width="1.8"/><line x1="364.65" y1="1177.31" x2="369.05" y2="1177.31" stroke="#ff00ff" stroke-width="1.8"/><line x1="364.65" y1="1186.31" x2="369.05" y2="1186.31" stroke="#ff00ff" stroke-width="1.8"/>
<line x1="362.85" y1="1181.81" x2="370.85" y2="1181.81" stroke="#ff00ff" stroke-width="1.6"/>
<line x1="355.37" y1="1176.42" x2="355.37" y2="1185.42" stroke="#ff00ff" stroke-width="1.8"/><line x1="353.17" y1="1176.42" x2="357.57" y2="1176.42" stroke="#ff00ff" stroke-width="1.8"/><line x1="353.17" y1="1185.42" x2="357.57" y2="1185.42" stroke="#ff00ff" stroke-width="1.8"/>
<line x1="351.37" y1="1180.92" x2="359.37" y2="1180.92" stroke="#ff00ff" stroke-width="1.6"/>
<line x1="343.89" y1="1175.61" x2="343.89" y2="1184.61" stroke="#ff00ff" stroke-width="1.8"/><line x1="341.69" y1="1175.61" x2="346.09" y2="1175.61" stroke="#ff00ff" stroke-width="1.8"/><line x1="341.69" y1="1184.61" x2="346.09" y2="1184.61" stroke="#ff00ff" stroke-width="1.8"/>
<line x1="339.89" y1="1180.11" x2="347.89" y2="1180.11" stroke="#ff00ff" stroke-width="1.6"/>
<line x1="332.41" y1="1174.94" x2="332.41" y2="1183.94" stroke="#ff00ff" stroke-width="1.8"/><line x1="330.21" y1="1174.94" x2="334.61" y2="1174.94" stroke="#ff00ff" stroke-width="1.8"/><line x1="330.21" y1="1183.94" x2="334.61" y2="1183.94" stroke="#ff00ff" stroke-width="1.8"/>
<line x1="328.41" y1="1179.44" x2="336.41" y2="1179.44" stroke="#ff00ff" stroke-width="1.6"/>
<line x1="320.94" y1="1174.43" x2="320.94" y2="1183.43" stroke="#ff00ff" stroke-width="1.8"/><line x1="318.74" y1="1174.43" x2="323.14" y2="1174.43" stroke="#ff00ff" stroke-width="1.8"/><line x1="318.74" y1="1183.43" x2="323.14" y2="1183.43" stroke="#ff00ff" stroke-width="1.8"/>
<line x1="316.94" y1="1178.93" x2="324.94" y2="1178.93" stroke="#ff00ff" stroke-width="1.6"/>
<line x1="309.46" y1="1174.05" x2="309.46" y2="1183.05" stroke="#ff00ff" stroke-width="1.8"/><line x1="307.26" y1="1174.05" x2="311.66" y2="1174.05" stroke="#ff00ff" stroke-width="1.8"/><line x1="307.26" y1="1183.05" x2="311.66" y2="1183.05" stroke="#ff00ff" stroke-width="1.8"/>
<line x1="305.46" y1="1178.55" x2="313.46" y2="1178.55" stroke="#ff00ff" stroke-width="1.6"/>
<line x1="297.98" y1="1173.72" x2="297.98" y2="1182.72" stroke="#ff00ff" stroke-width="1.8"/><line x1="295.78" y1="1173.72" x2="300.18" y2="1173.72" stroke="#ff00ff" stroke-width="1.8"/><line x1="295.78" y1="1182.72" x2="300.18" y2="1182.72" stroke="#ff00ff" stroke-width="1.8"/>
<line x1="293.98" y1="1178.22" x2="301.98" y2="1178.22" stroke="#ff00ff" stroke-width="1.6"/>
<line x1="286.50" y1="1173.44" x2="286.50" y2="1182.44" stroke="#ff00ff" stroke-width="1.8"/><line x1="284.30" y1="1173.44" x2="288.70" y2="1173.44" stroke="#ff00ff" stroke-width="1.8"/><line x1="284.30" y1="1182.44" x2="288.70" y2="1182.44" stroke="#ff00ff" stroke-width="1.8"/>
<line x1="282.50" y1="1177.94" x2="290.50" y2="1177.94" stroke="#ff00ff" stroke-width="1.6"/>
<line x1="275.02" y1="1173.23" x2="275.02" y2="1182.23" stroke="#ff00ff" stroke-width="1.8"/><line x1="272.82" y1="1173.23" x2="277.22" y2="1173.23" stroke="#ff00ff" stroke-width="1.8"/><line x1="272.82" y1="1182.23" x2="277.22" y2="1182.23" stroke="#ff00ff" stroke-width="1.8"/>
<line x1="271.02" y1="1177.73" x2="279.02" y2="1177.73" stroke="#ff00ff" stroke-width="1.6"/>
<line x1="263.54" y1="1173.10" x2="263.54" y2="1182.10" stroke="#ff00ff" stroke-width="1.8"/><line x1="261.34" y1="1173.10" x2="265.74" y2="1173.10" stroke="#ff00ff" stroke-width="1.8"/><line x1="261.34" y1="1182.10" x2="265.74" y2="1182.10" stroke="#ff00ff" stroke-width="1.8"/>
<line x1="259.54" y1="1177.60" x2="267.54" y2="1177.60" stroke="#ff00ff" stroke-width="1.6"/>
<line x1="252.06" y1="1173.01" x2="252.06" y2="1182.01" stroke="#ff00ff" stroke-width="1.8"/><line x1="249.86" y1="1173.01" x2="254.26" y2="1173.01" stroke="#ff00ff" stroke-width="1.8"/><line x1="249.86" y1="1182.01" x2="254.26" y2="1182.01" stroke="#ff00ff" stroke-width="1.8"/>
<line x1="248.06" y1="1177.51" x2="256.06" y2="1177.51" stroke="#ff00ff" stroke-width="1.6"/>
<line x1="240.58" y1="1172.93" x2="240.58" y2="1181.93" stroke="#ff00ff" stroke-width="1.8"/><line x1="238.38" y1="1172.93" x2="242.78" y2="1172.93" stroke="#ff00ff" stroke-width="1.8"/><line x1="238.38" y1="1181.93" x2="242.78" y2="1181.93" stroke="#ff00ff" stroke-width="1.8"/>
<line x1="236.58" y1="1177.43" x2="244.58" y2="1177.43" stroke="#ff00ff" stroke-width="1.6"/>
<line x1="229.10" y1="1172.87" x2="229.10" y2="1181.87" stroke="#ff00ff" stroke-width="1.8"/><line x1="226.90" y1="1172.87" x2="231.30" y2="1172.87" stroke="#ff00ff" stroke-width="1.8"/><line x1="226.90" y1="1181.87" x2="231.30" y2="1181.87" stroke="#ff00ff" stroke-width="1.8"/>
<line x1="225.10" y1="1177.37" x2="233.10" y2="1177.37" stroke="#ff00ff" stroke-width="1.6"/>
<line x1="217.62" y1="1172.82" x2="217.62" y2="1181.82" stroke="#ff00ff" stroke-width="1.8"/><line x1="215.42" y1="1172.82" x2="219.82" y2="1172.82" stroke="#ff00ff" stroke-width="1.8"/><line x1="215.42" y1="1181.82" x2="219.82" y2="1181.82" stroke="#ff00ff" stroke-width="1.8"/>
<line x1="213.62" y1="1177.32" x2="221.62" y2="1177.32" stroke="#ff00ff" stroke-width="1.6"/>
<line x1="206.15" y1="1172.79" x2="206.15" y2="1181.79" stroke="#ff00ff" stroke-width="1.8"/><line x1="203.95" y1="1172.79" x2="208.35" y2="1172.79" stroke="#ff00ff" stroke-width="1.8"/><line x1="203.95" y1="1181.79" x2="208.35" y2="1181.79" stroke="#ff00ff" stroke-width="1.8"/>
<line x1="202.15" y1="1177.29" x2="210.15" y2="1177.29" stroke="#ff00ff" stroke-width="1.6"/>
<line x1="194.67" y1="1172.79" x2="194.67" y2="1181.79" stroke="#ff00ff" stroke-width="1.8"/><line x1="192.47" y1="1172.79" x2="196.87" y2="1172.79" stroke="#ff00ff" stroke-width="1.8"/><line x1="192.47" y1="1181.79" x2="196.87" y2="1181.79" stroke="#ff00ff" stroke-width="1.8"/>
<line x1="190.67" y1="1177.29" x2="198.67" y2="1177.29" stroke="#ff00ff" stroke-width="1.6"/>
<line x1="183.19" y1="1172.79" x2="183.19" y2="1181.79" stroke="#ff00ff" stroke-width="1.8"/><line x1="180.99" y1="1172.79" x2="185.39" y2="1172.79" stroke="#ff00ff" stroke-width="1.8"/><line x1="180.99" y1="1181.79" x2="185.39" y2="1181.79" stroke="#ff00ff" stroke-width="1.8"/>
<line x1="179.19" y1="1177.29" x2="187.19" y2="1177.29" stroke="#ff00ff" stroke-width="1.6"/>
<line x1="171.71" y1="1172.79" x2="171.71" y2="1181.79" stroke="#ff00ff" stroke-width="1.8"/><line x1="169.51" y1="1172.79" x2="173.91" y2="1172.79" stroke="#ff00ff" stroke-width="1.8"/><line x1="169.51" y1="1181.79" x2="173.91" y2="1181.79" stroke="#ff00ff" stroke-width="1.8"/>
<line x1="167.71" y1="1177.29" x2="175.71" y2="1177.29" stroke="#ff00ff" stroke-width="1.6"/>
<line x1="160.23" y1="1172.79" x2="160.23" y2="1181.79" stroke="#ff00ff" stroke-width="1.8"/><line x1="158.03" y1="1172.79" x2="162.43" y2="1172.79" stroke="#ff00ff" stroke-width="1.8"/><line x1="158.03" y1="1181.79" x2="162.43" y2="1181.79" stroke="#ff00ff" stroke-width="1.8"/>
<line x1="156.23" y1="1177.29" x2="164.23" y2="1177.29" stroke="#ff00ff" stroke-width="1.6"/>
<line x1="148.75" y1="1172.79" x2="148.75" y2="1181.79" stroke="#ff00ff" stroke-width="1.8"/><line x1="146.55" y1="1172.79" x2="150.95" y2="1172.79" stroke="#ff00ff" stroke-width="1.8"/><line x1="146.55" y1="1181.79" x2="150.95" y2="1181.79" stroke="#ff00ff" stroke-width="1.8"/>
<line x1="144.75" y1="1177.29" x2="152.75" y2="1177.29" stroke="#ff00ff" stroke-width="1.6"/>
<line x1="137.27" y1="1172.79" x2="137.27" y2="1181.79" stroke="#ff00ff" stroke-width="1.8"/><line x1="135.07" y1="1172.79" x2="139.47" y2="1172.79" stroke="#ff00ff" stroke-width="1.8"/><line x1="135.07" y1="1181.79" x2="139.47" y2="1181.79" stroke="#ff00ff" stroke-width="1.8"/>
<line x1="133.27" y1="1177.29" x2="141.27" y2="1177.29" stroke="#ff00ff" stroke-width="1.6"/>
<line x1="125.79" y1="1172.79" x2="125.79" y2="1181.79" stroke="#ff00ff" stroke-width="1.8"/><line x1="123.59" y1="1172.79" x2="127.99" y2="1172.79" stroke="#ff00ff" stroke-width="1.8"/><line x1="123.59" y1="1181.79" x2="127.99" y2="1181.79" stroke="#ff00ff" stroke-width="1.8"/>
<line x1="121.79" y1="1177.29" x2="129.79" y2="1177.29" stroke="#ff00ff" stroke-width="1.6"/>
<line x1="114.31" y1="1172.79" x2="114.31" y2="1181.79" stroke="#ff00ff" stroke-width="1.8"/><line x1="112.11" y1="1172.79" x2="116.51" y2="1172.79" stroke="#ff00ff" stroke-width="1.8"/><line x1="112.11" y1="1181.79" x2="116.51" y2="1181.79" stroke="#ff00ff" stroke-width="1.8"/>
<line x1="110.31" y1="1177.29" x2="118.31" y2="1177.29" stroke="#ff00ff" stroke-width="1.6"/>
<polyline fill="none" stroke="#00ffff" stroke-width="3.5" points="196.19,1176.32 207.63,1178.04 219.08,1179.90 230.53,1181.89 241.98,1183.98 253.43,1186.16 264.88,1188.43 276.33,1190.78 287.78,1193.20 299.23,1195.77 310.68,1198.56 322.13,1201.66 333.57,1205.10 345.02,1208.85 356.47,1212.91 367.92,1217.27 379.37,1221.91 390.82,1226.82 402.27,1232.00 413.72,1237.50 425.17,1243.38 436.62,1249.68 448.07,1256.44 459.51,1263.71 470.96,1271.51 482.41,1279.89 493.86,1289.25 505.31,1300.00 516.76,1311.81 528.21,1324.36 539.66,1337.33 551.11,1351.01 562.56,1365.63 574.00,1381.08 585.45,1397.28" />
<line x1="196.19" y1="1158.82" x2="196.19" y2="1195.82" stroke="#00ffff" stroke-width="4.0"/><line x1="193.69" y1="1158.82" x2="198.69" y2="1158.82" stroke="#00ffff" stroke-width="4.0"/><line x1="193.69" y1="1195.82" x2="198.69" y2="1195.82" stroke="#00ffff" stroke-width="4.0"/>
<line x1="207.63" y1="1160.54" x2="207.63" y2="1197.54" stroke="#00ffff" stroke-width="4.0"/><line x1="205.13" y1="1160.54" x2="210.13" y2="1160.54" stroke="#00ffff" stroke-width="4.0"/><line x1="205.13" y1="1197.54" x2="210.13" y2="1197.54" stroke="#00ffff" stroke-width="4.0"/>
<line x1="219.08" y1="1162.40" x2="219.08" y2="1199.40" stroke="#00ffff" stroke-width="4.0"/><line x1="216.58" y1="1162.40" x2="221.58" y2="1162.40" stroke="#00ffff" stroke-width="4.0"/><line x1="216.58" y1="1199.40" x2="221.58" y2="1199.40" stroke="#00ffff" stroke-width="4.0"/>
<line x1="230.53" y1="1164.39" x2="230.53" y2="1201.39" stroke="#00ffff" stroke-width="4.0"/><line x1="228.03" y1="1164.39" x2="233.03" y2="1164.39" stroke="#00ffff" stroke-width="4.0"/><line x1="228.03" y1="1201.39" x2="233.03" y2="1201.39" stroke="#00ffff" stroke-width="4.0"/>
<line x1="241.98" y1="1166.48" x2="241.98" y2="1203.48" stroke="#00ffff" stroke-width="4.0"/><line x1="239.48" y1="1166.48" x2="244.48" y2="1166.48" stroke="#00ffff" stroke-width="4.0"/><line x1="239.48" y1="1203.48" x2="244.48" y2="1203.48" stroke="#00ffff" stroke-width="4.0"/>
<line x1="253.43" y1="1168.66" x2="253.43" y2="1205.66" stroke="#00ffff" stroke-width="4.0"/><line x1="250.93" y1="1168.66" x2="255.93" y2="1168.66" stroke="#00ffff" stroke-width="4.0"/><line x1="250.93" y1="1205.66" x2="255.93" y2="1205.66" stroke="#00ffff" stroke-width="4.0"/>
<line x1="264.88" y1="1170.93" x2="264.88" y2="1207.93" stroke="#00ffff" stroke-width="4.0"/><line x1="262.38" y1="1170.93" x2="267.38" y2="1170.93" stroke="#00ffff" stroke-width="4.0"/><line x1="262.38" y1="1207.93" x2="267.38" y2="1207.93" stroke="#00ffff" stroke-width="4.0"/>
<line x1="276.33" y1="1173.28" x2="276.33" y2="1210.28" stroke="#00ffff" stroke-width="4.0"/><line x1="273.83" y1="1173.28" x2="278.83" y2="1173.28" stroke="#00ffff" stroke-width="4.0"/><line x1="273.83" y1="1210.28" x2="278.83" y2="1210.28" stroke="#00ffff" stroke-width="4.0"/>
<line x1="287.78" y1="1175.70" x2="287.78" y2="1212.70" stroke="#00ffff" stroke-width="4.0"/><line x1="285.28" y1="1175.70" x2="290.28" y2="1175.70" stroke="#00ffff" stroke-width="4.0"/><line x1="285.28" y1="1212.70" x2="290.28" y2="1212.70" stroke="#00ffff" stroke-width="4.0"/>
<line x1="299.23" y1="1178.27" x2="299.23" y2="1215.27" stroke="#00ffff" stroke-width="4.0"/><line x1="296.73" y1="1178.27" x2="301.73" y2="1178.27" stroke="#00ffff" stroke-width="4.0"/><line x1="296.73" y1="1215.27" x2="301.73" y2="1215.27" stroke="#00ffff" stroke-width="4.0"/>
<line x1="310.68" y1="1181.06" x2="310.68" y2="1218.06" stroke="#00ffff" stroke-width="4.0"/><line x1="308.18" y1="1181.06" x2="313.18" y2="1181.06" stroke="#00ffff" stroke-width="4.0"/><line x1="308.18" y1="1218.06" x2="313.18" y2="1218.06" stroke="#00ffff" stroke-width="4.0"/>
<line x1="322.13" y1="1184.16" x2="322.13" y2="1221.16" stroke="#00ffff" stroke-width="4.0"/><line x1="319.63" y1="1184.16" x2="324.63" y2="1184.16" stroke="#00ffff" stroke-width="4.0"/><line x1="319.63" y1="1221.16" x2="324.63" y2="1221.16" stroke="#00ffff" stroke-width="4.0"/>
<line x1="333.57" y1="1187.60" x2="333.57" y2="1224.60" stroke="#00ffff" stroke-width="4.0"/><line x1="331.07" y1="1187.60" x2="336.07" y2="1187.60" stroke="#00ffff" stroke-width="4.0"/><line x1="331.07" y1="1224.60" x2="336.07" y2="1224.60" stroke="#00ffff" stroke-width="4.0"/>
<line x1="345.02" y1="1191.35" x2="345.02" y2="1228.35" stroke="#00ffff" stroke-width="4.0"/><line x1="342.52" y1="1191.35" x2="347.52" y2="1191.35" stroke="#00ffff" stroke-width="4.0"/><line x1="342.52" y1="1228.35" x2="347.52" y2="1228.35" stroke="#00ffff" stroke-width="4.0"/>
<line x1="356.47" y1="1195.41" x2="356.47" y2="1232.41" stroke="#00ffff" stroke-width="4.0"/><line x1="353.97" y1="1195.41" x2="358.97" y2="1195.41" stroke="#00ffff" stroke-width="4.0"/><line x1="353.97" y1="1232.41" x2="358.97" y2="1232.41" stroke="#00ffff" stroke-width="4.0"/>
<line x1="367.92" y1="1199.77" x2="367.92" y2="1236.77" stroke="#00ffff" stroke-width="4.0"/><line x1="365.42" y1="1199.77" x2="370.42" y2="1199.77" stroke="#00ffff" stroke-width="4.0"/><line x1="365.42" y1="1236.77" x2="370.42" y2="1236.77" stroke="#00ffff" stroke-width="4.0"/>
<line x1="379.37" y1="1204.41" x2="379.37" y2="1241.41" stroke="#00ffff" stroke-width="4.0"/><line x1="376.87" y1="1204.41" x2="381.87" y2="1204.41" stroke="#00ffff" stroke-width="4.0"/><line x1="376.87" y1="1241.41" x2="381.87" y2="1241.41" stroke="#00ffff" stroke-width="4.0"/>
<line x1="390.82" y1="1209.32" x2="390.82" y2="1246.32" stroke="#00ffff" stroke-width="4.0"/><line x1="388.32" y1="1209.32" x2="393.32" y2="1209.32" stroke="#00ffff" stroke-width="4.0"/><line x1="388.32" y1="1246.32" x2="393.32" y2="1246.32" stroke="#00ffff" stroke-width="4.0"/>
<line x1="402.27" y1="1214.50" x2="402.27" y2="1251.50" stroke="#00ffff" stroke-width="4.0"/><line x1="399.77" y1="1214.50" x2="404.77" y2="1214.50" stroke="#00ffff" stroke-width="4.0"/><line x1="399.77" y1="1251.50" x2="404.77" y2="1251.50" stroke="#00ffff" stroke-width="4.0"/>
<line x1="413.72" y1="1220.00" x2="413.72" y2="1257.00" stroke="#00ffff" stroke-width="4.0"/><line x1="411.22" y1="1220.00" x2="416.22" y2="1220.00" stroke="#00ffff" stroke-width="4.0"/><line x1="411.22" y1="1257.00" x2="416.22" y2="1257.00" stroke="#00ffff" stroke-width="4.0"/>
<line x1="425.17" y1="1225.88" x2="425.17" y2="1262.88" stroke="#00ffff" stroke-width="4.0"/><line x1="422.67" y1="1225.88" x2="427.67" y2="1225.88" stroke="#00ffff" stroke-width="4.0"/><line x1="422.67" y1="1262.88" x2="427.67" y2="1262.88" stroke="#00ffff" stroke-width="4.0"/>
<line x1="436.62" y1="1232.18" x2="436.62" y2="1269.18" stroke="#00ffff" stroke-width="4.0"/><line x1="434.12" y1="1232.18" x2="439.12" y2="1232.18" stroke="#00ffff" stroke-width="4.0"/><line x1="434.12" y1="1269.18" x2="439.12" y2="1269.18" stroke="#00ffff" stroke-width="4.0"/>
<line x1="448.07" y1="1238.94" x2="448.07" y2="1275.94" stroke="#00ffff" stroke-width="4.0"/><line x1="445.57" y1="1238.94" x2="450.57" y2="1238.94" stroke="#00ffff" stroke-width="4.0"/><line x1="445.57" y1="1275.94" x2="450.57" y2="1275.94" stroke="#00ffff" stroke-width="4.0"/>
<line x1="459.51" y1="1246.21" x2="459.51" y2="1283.21" stroke="#00ffff" stroke-width="4.0"/><line x1="457.01" y1="1246.21" x2="462.01" y2="1246.21" stroke="#00ffff" stroke-width="4.0"/><line x1="457.01" y1="1283.21" x2="462.01" y2="1283.21" stroke="#00ffff" stroke-width="4.0"/>
<line x1="470.96" y1="1254.01" x2="470.96" y2="1291.01" stroke="#00ffff" stroke-width="4.0"/><line x1="468.46" y1="1254.01" x2="473.46" y2="1254.01" stroke="#00ffff" stroke-width="4.0"/><line x1="468.46" y1="1291.01" x2="473.46" y2="1291.01" stroke="#00ffff" stroke-width="4.0"/>
<line x1="482.41" y1="1262.39" x2="482.41" y2="1299.39" stroke="#00ffff" stroke-width="4.0"/><line x1="479.91" y1="1262.39" x2="484.91" y2="1262.39" stroke="#00ffff" stroke-width="4.0"/><line x1="479.91" y1="1299.39" x2="484.91" y2="1299.39" stroke="#00ffff" stroke-width="4.0"/>
<line x1="493.86" y1="1271.75" x2="493.86" y2="1308.75" stroke="#00ffff" stroke-width="4.0"/><line x1="491.36" y1="1271.75" x2="496.36" y2="1271.75" stroke="#00ffff" stroke-width="4.0"/><line x1="491.36" y1="1308.75" x2="496.36" y2="1308.75" stroke="#00ffff" stroke-width="4.0"/>
<line x1="505.31" y1="1282.50" x2="505.31" y2="1319.50" stroke="#00ffff" stroke-width="4.0"/><line x1="502.81" y1="1282.50" x2="507.81" y2="1282.50" stroke="#00ffff" stroke-width="4.0"/><line x1="502.81" y1="1319.50" x2="507.81" y2="1319.50" stroke="#00ffff" stroke-width="4.0"/>
<line x1="516.76" y1="1294.31" x2="516.76" y2="1331.31" stroke="#00ffff" stroke-width="4.0"/><line x1="514.26" y1="1294.31" x2="519.26" y2="1294.31" stroke="#00ffff" stroke-width="4.0"/><line x1="514.26" y1="1331.31" x2="519.26" y2="1331.31" stroke="#00ffff" stroke-width="4.0"/>
<line x1="528.21" y1="1306.86" x2="528.21" y2="1343.86" stroke="#00ffff" stroke-width="4.0"/><line x1="525.71" y1="1306.86" x2="530.71" y2="1306.86" stroke="#00ffff" stroke-width="4.0"/><line x1="525.71" y1="1343.86" x2="530.71" y2="1343.86" stroke="#00ffff" stroke-width="4.0"/>
<line x1="539.66" y1="1319.83" x2="539.66" y2="1356.83" stroke="#00ffff" stroke-width="4.0"/><line x1="537.16" y1="1319.83" x2="542.16" y2="1319.83" stroke="#00ffff" stroke-width="4.0"/><line x1="537.16" y1="1356.83" x2="542.16" y2="1356.83" stroke="#00ffff" stroke-width="4.0"/>
<line x1="551.11" y1="1333.51" x2="551.11" y2="1370.51" stroke="#00ffff" stroke-width="4.0"/><line x1="548.61" y1="1333.51" x2="553.61" y2="1333.51" stroke="#00ffff" stroke-width="4.0"/><line x1="548.61" y1="1370.51" x2="553.61" y2="1370.51" stroke="#00ffff" stroke-width="4.0"/>
<line x1="562.56" y1="1348.13" x2="562.56" y2="1385.13" stroke="#00ffff" stroke-width="4.0"/><line x1="560.06" y1="1348.13" x2="565.06" y2="1348.13" stroke="#00ffff" stroke-width="4.0"/><line x1="560.06" y1="1385.13" x2="565.06" y2="1385.13" stroke="#00ffff" stroke-width="4.0"/>
<line x1="574.00" y1="1363.58" x2="574.00" y2="1400.58" stroke="#00ffff" stroke-width="4.0"/><line x1="571.50" y1="1363.58" x2="576.50" y2="1363.58" stroke="#00ffff" stroke-width="4.0"/><line x1="571.50" y1="1400.58" x2="576.50" y2="1400.58" stroke="#00ffff" stroke-width="4.0"/>
<line x1="585.45" y1="1379.78" x2="585.45" y2="1416.78" stroke="#00ffff" stroke-width="4.0"/><line x1="582.95" y1="1379.78" x2="587.95" y2="1379.78" stroke="#00ffff" stroke-width="4.0"/><line x1="582.95" y1="1416.78" x2="587.95" y2="1416.78" stroke="#00ffff" stroke-width="4.0"/>
<line x1="393.03" y1="1218.38" x2="393.03" y2="1272.38" stroke="#00ffff" stroke-width="3.0"/><line x1="393.03" y1="1218.38" x2="393.03" y2="1218.38" stroke="#00ffff" stroke-width="3.0"/><line x1="393.03" y1="1272.38" x2="393.03" y2="1272.38" stroke="#00ffff" stroke-width="3.0"/>
<polygon points="393.03,1251.88 387.18,1241.48 398.88,1241.48" fill="#00ffff" stroke="#008080" stroke-width="0.8"/>
<polyline fill="none" stroke="#0000ff" stroke-width="4.2" points="196.19,1175.67 197.49,1175.79 198.79,1175.92 200.09,1176.06 201.39,1176.21 202.70,1176.36 204.00,1176.52 205.30,1176.69 206.60,1176.86 207.90,1177.04 209.20,1177.23 210.51,1177.42 211.81,1177.61 213.11,1177.82 214.41,1178.02 215.71,1178.24 217.02,1178.46 218.32,1178.68 219.62,1178.90 220.92,1179.13 222.22,1179.37 223.53,1179.61 224.83,1179.85 226.13,1180.10 227.43,1180.36 228.73,1180.64 230.04,1180.93 231.34,1181.23 232.64,1181.55 233.94,1181.87 235.24,1182.21 236.54,1182.55 237.85,1182.90 239.15,1183.25 240.45,1183.61 241.75,1183.98 243.05,1184.35 244.36,1184.72 245.66,1185.09 246.96,1185.46 248.26,1185.83 249.56,1186.20 250.87,1186.56 252.17,1186.93 253.47,1187.28 254.77,1187.63 256.07,1187.98 257.38,1188.32 258.68,1188.66 259.98,1189.00 261.28,1189.34 262.58,1189.68 263.88,1190.03 265.19,1190.37 266.49,1190.71 267.79,1191.05 269.09,1191.39 270.39,1191.73 271.70,1192.07 273.00,1192.42 274.30,1192.76 275.60,1193.10 276.90,1193.45 278.21,1193.80 279.51,1194.14 280.81,1194.49 282.11,1194.84 283.41,1195.19 284.71,1195.54 286.02,1195.89 287.32,1196.25 288.62,1196.60 289.92,1196.96 291.22,1197.31 292.53,1197.66 293.83,1198.01 295.13,1198.36 296.43,1198.71 297.73,1199.06 299.04,1199.42 300.34,1199.77 301.64,1200.13 302.94,1200.48 304.24,1200.84 305.55,1201.21 306.85,1201.57 308.15,1201.94 309.45,1202.31 310.75,1202.69 312.05,1203.06 313.36,1203.45 314.66,1203.84 315.96,1204.23 317.26,1204.63 318.56,1205.04 319.87,1205.45 321.17,1205.86 322.47,1206.28 323.77,1206.69 325.07,1207.12 326.38,1207.54 327.68,1207.98 328.98,1208.41 330.28,1208.85 331.58,1209.29 332.89,1209.74 334.19,1210.20 335.49,1210.66 336.79,1211.12 338.09,1211.59 339.39,1212.07 340.70,1212.55 342.00,1213.04 343.30,1213.54 344.60,1214.04 345.90,1214.55 347.21,1215.07 348.51,1215.59 349.81,1216.12 351.11,1216.67 352.41,1217.22 353.72,1217.78 355.02,1218.36 356.32,1218.94 357.62,1219.53 358.92,1220.13 360.23,1220.74 361.53,1221.36 362.83,1221.99 364.13,1222.62 365.43,1223.26 366.73,1223.91 368.04,1224.57 369.34,1225.23 370.64,1225.90 371.94,1226.57 373.24,1227.25 374.55,1227.93 375.85,1228.62 377.15,1229.31 378.45,1230.00 379.75,1230.70 381.06,1231.40 382.36,1232.11 383.66,1232.83 384.96,1233.56 386.26,1234.31 387.57,1235.06 388.87,1235.82 390.17,1236.59 391.47,1237.36 392.77,1238.15 394.07,1238.94 395.38,1239.73 396.68,1240.54 397.98,1241.34 399.28,1242.15 400.58,1242.96 401.89,1243.78 403.19,1244.59 404.49,1245.41 405.79,1246.22 407.09,1247.04 408.40,1247.85 409.70,1248.66 411.00,1249.47 412.30,1250.28 413.60,1251.08 414.90,1251.87 416.21,1252.65 417.51,1253.43 418.81,1254.20 420.11,1254.97 421.41,1255.73 422.72,1256.49 424.02,1257.25 425.32,1258.00 426.62,1258.76 427.92,1259.52 429.23,1260.28 430.53,1261.05 431.83,1261.82 433.13,1262.59 434.43,1263.37 435.74,1264.16 437.04,1264.96 438.34,1265.77 439.64,1266.58 440.94,1267.41 442.24,1268.25 443.55,1269.11 444.85,1269.98 446.15,1270.86 447.45,1271.76 448.75,1272.68 450.06,1273.62 451.36,1274.57 452.66,1275.55 453.96,1276.55 455.26,1277.57 456.57,1278.62 457.87,1279.72 459.17,1280.86 460.47,1282.03 461.77,1283.24 463.08,1284.48 464.38,1285.74 465.68,1287.03 466.98,1288.34 468.28,1289.68 469.58,1291.03 470.89,1292.39 472.19,1293.77 473.49,1295.16 474.79,1296.55 476.09,1297.95 477.40,1299.35 478.70,1300.75 480.00,1302.15 481.30,1303.55 482.60,1304.96 483.91,1306.40 485.21,1307.84 486.51,1309.30 487.81,1310.78 489.11,1312.26 490.42,1313.76 491.72,1315.27 493.02,1316.80 494.32,1318.33 495.62,1319.88 496.92,1321.44 498.23,1323.00 499.53,1324.58 500.83,1326.17 502.13,1327.77 503.43,1329.38 504.74,1330.99 506.04,1332.60 507.34,1334.22 508.64,1335.83 509.94,1337.46 511.25,1339.09 512.55,1340.74 513.85,1342.40 515.15,1344.08 516.45,1345.77 517.75,1347.48 519.06,1349.22 520.36,1350.98 521.66,1352.77 522.96,1354.59 524.26,1356.44 525.57,1358.33 526.87,1360.25 528.17,1362.21 529.47,1364.21 530.77,1366.25 532.08,1368.32 533.38,1370.43 534.68,1372.58 535.98,1374.76 537.28,1376.98 538.59,1379.24 539.89,1381.54 541.19,1383.87 542.49,1386.23 543.79,1388.64 545.09,1391.08 546.40,1393.56 547.70,1396.07 549.00,1398.62 550.30,1401.21 551.60,1403.85 552.91,1406.57 554.21,1409.38 555.51,1412.27 556.81,1415.22 558.11,1418.24 559.42,1421.31 560.72,1424.43 562.02,1427.59 563.32,1430.77 564.62,1433.98 565.93,1437.23 567.23,1440.52 568.53,1443.89 569.83,1447.34 571.13,1450.88 572.43,1454.54 573.74,1458.33 575.04,1462.27 576.34,1466.37 577.64,1470.63 578.94,1475.03 580.25,1479.58 581.55,1484.26 582.85,1489.06 584.15,1493.99 585.45,1499.03" />
<line x1="194.69" y1="1175.67" x2="197.69" y2="1175.67" stroke="#0000ff" stroke-width="3.6"/>
<line x1="194.69" y1="1172.67" x2="194.69" y2="1178.67" stroke="#0000ff" stroke-width="1.5"/>
<line x1="197.69" y1="1172.67" x2="197.69" y2="1178.67" stroke="#0000ff" stroke-width="1.5"/>
<line x1="206.13" y1="1177.00" x2="209.14" y2="1177.00" stroke="#0000ff" stroke-width="3.6"/>
<line x1="206.13" y1="1174.00" x2="206.13" y2="1180.00" stroke="#0000ff" stroke-width="1.5"/>
<line x1="209.14" y1="1174.00" x2="209.14" y2="1180.00" stroke="#0000ff" stroke-width="1.5"/>
<line x1="217.58" y1="1178.81" x2="220.59" y2="1178.81" stroke="#0000ff" stroke-width="3.6"/>
<line x1="217.58" y1="1175.81" x2="217.58" y2="1181.81" stroke="#0000ff" stroke-width="1.5"/>
<line x1="220.59" y1="1175.81" x2="220.59" y2="1181.81" stroke="#0000ff" stroke-width="1.5"/>
<line x1="229.03" y1="1181.04" x2="232.04" y2="1181.04" stroke="#0000ff" stroke-width="3.6"/>
<line x1="229.03" y1="1178.04" x2="229.03" y2="1184.04" stroke="#0000ff" stroke-width="1.5"/>
<line x1="232.04" y1="1178.04" x2="232.04" y2="1184.04" stroke="#0000ff" stroke-width="1.5"/>
<line x1="240.47" y1="1184.04" x2="243.50" y2="1184.04" stroke="#0000ff" stroke-width="3.6"/>
<line x1="240.47" y1="1181.04" x2="240.47" y2="1187.04" stroke="#0000ff" stroke-width="1.5"/>
<line x1="243.50" y1="1181.04" x2="243.50" y2="1187.04" stroke="#0000ff" stroke-width="1.5"/>
<line x1="251.90" y1="1187.27" x2="254.96" y2="1187.27" stroke="#0000ff" stroke-width="3.6"/>
<line x1="251.90" y1="1184.27" x2="251.90" y2="1190.27" stroke="#0000ff" stroke-width="1.5"/>
<line x1="254.96" y1="1184.27" x2="254.96" y2="1190.27" stroke="#0000ff" stroke-width="1.5"/>
<line x1="263.33" y1="1190.29" x2="266.43" y2="1190.29" stroke="#0000ff" stroke-width="3.6"/>
<line x1="263.33" y1="1187.29" x2="263.33" y2="1193.29" stroke="#0000ff" stroke-width="1.5"/>
<line x1="266.43" y1="1187.29" x2="266.43" y2="1193.29" stroke="#0000ff" stroke-width="1.5"/>
<line x1="274.75" y1="1193.30" x2="277.90" y2="1193.30" stroke="#0000ff" stroke-width="3.6"/>
<line x1="274.75" y1="1190.30" x2="274.75" y2="1196.30" stroke="#0000ff" stroke-width="1.5"/>
<line x1="277.90" y1="1190.30" x2="277.90" y2="1196.30" stroke="#0000ff" stroke-width="1.5"/>
<line x1="286.17" y1="1196.37" x2="289.39" y2="1196.37" stroke="#0000ff" stroke-width="3.6"/>
<line x1="286.17" y1="1193.37" x2="286.17" y2="1199.37" stroke="#0000ff" stroke-width="1.5"/>
<line x1="289.39" y1="1193.37" x2="289.39" y2="1199.37" stroke="#0000ff" stroke-width="1.5"/>
<line x1="297.57" y1="1199.47" x2="300.88" y2="1199.47" stroke="#0000ff" stroke-width="3.6"/>
<line x1="297.57" y1="1196.47" x2="297.57" y2="1202.47" stroke="#0000ff" stroke-width="1.5"/>
<line x1="300.88" y1="1196.47" x2="300.88" y2="1202.47" stroke="#0000ff" stroke-width="1.5"/>
<line x1="308.96" y1="1202.66" x2="312.39" y2="1202.66" stroke="#0000ff" stroke-width="3.6"/>
<line x1="308.96" y1="1199.66" x2="308.96" y2="1205.66" stroke="#0000ff" stroke-width="1.5"/>
<line x1="312.39" y1="1199.66" x2="312.39" y2="1205.66" stroke="#0000ff" stroke-width="1.5"/>
<line x1="320.34" y1="1206.16" x2="323.91" y2="1206.16" stroke="#0000ff" stroke-width="3.6"/>
<line x1="320.34" y1="1203.16" x2="320.34" y2="1209.16" stroke="#0000ff" stroke-width="1.5"/>
<line x1="323.91" y1="1203.16" x2="323.91" y2="1209.16" stroke="#0000ff" stroke-width="1.5"/>
<line x1="331.70" y1="1209.98" x2="335.45" y2="1209.98" stroke="#0000ff" stroke-width="3.6"/>
<line x1="331.70" y1="1206.98" x2="331.70" y2="1212.98" stroke="#0000ff" stroke-width="1.5"/>
<line x1="335.45" y1="1206.98" x2="335.45" y2="1212.98" stroke="#0000ff" stroke-width="1.5"/>
<line x1="343.05" y1="1214.20" x2="347.00" y2="1214.20" stroke="#0000ff" stroke-width="3.6"/>
<line x1="343.05" y1="1211.20" x2="343.05" y2="1217.20" stroke="#0000ff" stroke-width="1.5"/>
<line x1="347.00" y1="1211.20" x2="347.00" y2="1217.20" stroke="#0000ff" stroke-width="1.5"/>
<line x1="354.38" y1="1219.01" x2="358.57" y2="1219.01" stroke="#0000ff" stroke-width="3.6"/>
<line x1="354.38" y1="1216.01" x2="354.38" y2="1222.01" stroke="#0000ff" stroke-width="1.5"/>
<line x1="358.57" y1="1216.01" x2="358.57" y2="1222.01" stroke="#0000ff" stroke-width="1.5"/>
<line x1="365.69" y1="1224.51" x2="370.15" y2="1224.51" stroke="#0000ff" stroke-width="3.6"/>
<line x1="365.69" y1="1221.51" x2="365.69" y2="1227.51" stroke="#0000ff" stroke-width="1.5"/>
<line x1="370.15" y1="1221.51" x2="370.15" y2="1227.51" stroke="#0000ff" stroke-width="1.5"/>
<line x1="376.98" y1="1230.50" x2="381.76" y2="1230.50" stroke="#0000ff" stroke-width="3.6"/>
<line x1="376.98" y1="1227.50" x2="376.98" y2="1233.50" stroke="#0000ff" stroke-width="1.5"/>
<line x1="381.76" y1="1227.50" x2="381.76" y2="1233.50" stroke="#0000ff" stroke-width="1.5"/>
<line x1="388.26" y1="1236.97" x2="393.38" y2="1236.97" stroke="#0000ff" stroke-width="3.6"/>
<line x1="388.26" y1="1233.97" x2="388.26" y2="1239.97" stroke="#0000ff" stroke-width="1.5"/>
<line x1="393.38" y1="1233.97" x2="393.38" y2="1239.97" stroke="#0000ff" stroke-width="1.5"/>
<line x1="399.51" y1="1244.01" x2="405.03" y2="1244.01" stroke="#0000ff" stroke-width="3.6"/>
<line x1="399.51" y1="1241.01" x2="399.51" y2="1247.01" stroke="#0000ff" stroke-width="1.5"/>
<line x1="405.03" y1="1241.01" x2="405.03" y2="1247.01" stroke="#0000ff" stroke-width="1.5"/>
<line x1="410.73" y1="1251.15" x2="416.70" y2="1251.15" stroke="#0000ff" stroke-width="3.6"/>
<line x1="410.73" y1="1248.15" x2="410.73" y2="1254.15" stroke="#0000ff" stroke-width="1.5"/>
<line x1="416.70" y1="1248.15" x2="416.70" y2="1254.15" stroke="#0000ff" stroke-width="1.5"/>
<line x1="421.94" y1="1257.92" x2="428.40" y2="1257.92" stroke="#0000ff" stroke-width="3.6"/>
<line x1="421.94" y1="1254.92" x2="421.94" y2="1260.92" stroke="#0000ff" stroke-width="1.5"/>
<line x1="428.40" y1="1254.92" x2="428.40" y2="1260.92" stroke="#0000ff" stroke-width="1.5"/>
<line x1="433.11" y1="1264.70" x2="440.12" y2="1264.70" stroke="#0000ff" stroke-width="3.6"/>
<line x1="433.11" y1="1261.70" x2="433.11" y2="1267.70" stroke="#0000ff" stroke-width="1.5"/>
<line x1="440.12" y1="1261.70" x2="440.12" y2="1267.70" stroke="#0000ff" stroke-width="1.5"/>
<line x1="444.26" y1="1272.19" x2="451.87" y2="1272.19" stroke="#0000ff" stroke-width="3.6"/>
<line x1="444.26" y1="1269.19" x2="444.26" y2="1275.19" stroke="#0000ff" stroke-width="1.5"/>
<line x1="451.87" y1="1269.19" x2="451.87" y2="1275.19" stroke="#0000ff" stroke-width="1.5"/>
<line x1="455.38" y1="1281.17" x2="463.65" y2="1281.17" stroke="#0000ff" stroke-width="3.6"/>
<line x1="455.38" y1="1278.17" x2="455.38" y2="1284.17" stroke="#0000ff" stroke-width="1.5"/>
<line x1="463.65" y1="1278.17" x2="463.65" y2="1284.17" stroke="#0000ff" stroke-width="1.5"/>
<line x1="466.47" y1="1292.47" x2="475.45" y2="1292.47" stroke="#0000ff" stroke-width="3.6"/>
<line x1="466.47" y1="1289.47" x2="466.47" y2="1295.47" stroke="#0000ff" stroke-width="1.5"/>
<line x1="475.45" y1="1289.47" x2="475.45" y2="1295.47" stroke="#0000ff" stroke-width="1.5"/>
<line x1="477.53" y1="1304.76" x2="487.29" y2="1304.76" stroke="#0000ff" stroke-width="3.6"/>
<line x1="477.53" y1="1301.76" x2="477.53" y2="1307.76" stroke="#0000ff" stroke-width="1.5"/>
<line x1="487.29" y1="1301.76" x2="487.29" y2="1307.76" stroke="#0000ff" stroke-width="1.5"/>
<line x1="488.56" y1="1317.79" x2="499.16" y2="1317.79" stroke="#0000ff" stroke-width="3.6"/>
<line x1="488.56" y1="1314.79" x2="488.56" y2="1320.79" stroke="#0000ff" stroke-width="1.5"/>
<line x1="499.16" y1="1314.79" x2="499.16" y2="1320.79" stroke="#0000ff" stroke-width="1.5"/>
<line x1="499.55" y1="1331.70" x2="511.07" y2="1331.70" stroke="#0000ff" stroke-width="3.6"/>
<line x1="499.55" y1="1328.70" x2="499.55" y2="1334.70" stroke="#0000ff" stroke-width="1.5"/>
<line x1="511.07" y1="1328.70" x2="511.07" y2="1334.70" stroke="#0000ff" stroke-width="1.5"/>
<line x1="510.51" y1="1346.17" x2="523.01" y2="1346.17" stroke="#0000ff" stroke-width="3.6"/>
<line x1="510.51" y1="1343.17" x2="510.51" y2="1349.17" stroke="#0000ff" stroke-width="1.5"/>
<line x1="523.01" y1="1343.17" x2="523.01" y2="1349.17" stroke="#0000ff" stroke-width="1.5"/>
<line x1="521.43" y1="1362.27" x2="534.98" y2="1362.27" stroke="#0000ff" stroke-width="3.6"/>
<line x1="521.43" y1="1359.27" x2="521.43" y2="1365.27" stroke="#0000ff" stroke-width="1.5"/>
<line x1="534.98" y1="1359.27" x2="534.98" y2="1365.27" stroke="#0000ff" stroke-width="1.5"/>
<line x1="532.32" y1="1381.13" x2="547.00" y2="1381.13" stroke="#0000ff" stroke-width="3.6"/>
<line x1="532.32" y1="1378.13" x2="532.32" y2="1384.13" stroke="#0000ff" stroke-width="1.5"/>
<line x1="547.00" y1="1378.13" x2="547.00" y2="1384.13" stroke="#0000ff" stroke-width="1.5"/>
<line x1="543.16" y1="1402.83" x2="559.05" y2="1402.83" stroke="#0000ff" stroke-width="3.6"/>
<line x1="543.16" y1="1399.83" x2="543.16" y2="1405.83" stroke="#0000ff" stroke-width="1.5"/>
<line x1="559.05" y1="1399.83" x2="559.05" y2="1405.83" stroke="#0000ff" stroke-width="1.5"/>
<line x1="553.97" y1="1428.90" x2="571.14" y2="1428.90" stroke="#0000ff" stroke-width="3.6"/>
<line x1="553.97" y1="1425.90" x2="553.97" y2="1431.90" stroke="#0000ff" stroke-width="1.5"/>
<line x1="571.14" y1="1425.90" x2="571.14" y2="1431.90" stroke="#0000ff" stroke-width="1.5"/>
<line x1="564.73" y1="1459.13" x2="583.28" y2="1459.13" stroke="#0000ff" stroke-width="3.6"/>
<line x1="564.73" y1="1456.13" x2="564.73" y2="1462.13" stroke="#0000ff" stroke-width="1.5"/>
<line x1="583.28" y1="1456.13" x2="583.28" y2="1462.13" stroke="#0000ff" stroke-width="1.5"/>
<line x1="575.45" y1="1499.03" x2="595.45" y2="1499.03" stroke="#0000ff" stroke-width="3.6"/>
<line x1="575.45" y1="1496.03" x2="575.45" y2="1502.03" stroke="#0000ff" stroke-width="1.5"/>
<line x1="595.45" y1="1496.03" x2="595.45" y2="1502.03" stroke="#0000ff" stroke-width="1.5"/>
<polyline fill="none" stroke="#8a2be2" stroke-width="4.0" points="621.58,1175.67 622.60,1175.91 623.62,1176.15 624.64,1176.38 625.66,1176.62 626.68,1176.85 627.70,1177.07 628.72,1177.30 629.74,1177.52 630.76,1177.74 631.78,1177.96 632.80,1178.18 633.82,1178.39 634.84,1178.60 635.86,1178.81 636.88,1179.01 637.90,1179.21 638.92,1179.41 639.94,1179.60 640.96,1179.79 641.98,1179.98 643.00,1180.16 644.02,1180.35 645.04,1180.53 646.06,1180.71 647.08,1180.90 648.11,1181.08 649.13,1181.26 650.15,1181.44 651.17,1181.62 652.19,1181.80 653.21,1181.98 654.23,1182.16 655.25,1182.34 656.27,1182.52 657.29,1182.69 658.31,1182.85 659.33,1183.02 660.35,1183.18 661.37,1183.34 662.39,1183.50 663.41,1183.66 664.43,1183.82 665.45,1183.98 666.47,1184.14 667.49,1184.31 668.51,1184.48 669.53,1184.66 670.55,1184.84 671.57,1185.03 672.59,1185.23 673.61,1185.43 674.63,1185.64 675.65,1185.87 676.67,1186.10 677.69,1186.34 678.71,1186.60 679.73,1186.88 680.75,1187.18 681.77,1187.50 682.79,1187.84 683.81,1188.19 684.83,1188.56 685.85,1188.93 686.87,1189.32 687.89,1189.72 688.91,1190.13 689.93,1190.54 690.95,1190.96 691.98,1191.38 693.00,1191.80 694.02,1192.22 695.04,1192.65 696.06,1193.06 697.08,1193.47 698.10,1193.88 699.12,1194.29 700.14,1194.71 701.16,1195.14 702.18,1195.59 703.20,1196.06 704.22,1196.56 705.24,1197.08 706.26,1197.64 707.28,1198.23 708.30,1198.87 709.32,1199.56 710.34,1200.32 711.36,1201.19 712.38,1202.15 713.40,1203.20 714.42,1204.34 715.44,1205.55 716.46,1206.83 717.48,1208.18 718.50,1209.59 719.52,1211.05 720.54,1212.56 721.56,1214.11 722.58,1215.69" />
<line x1="621.58" y1="1170.67" x2="621.58" y2="1180.67" stroke="#8a2be2" stroke-width="2.0"/><line x1="618.58" y1="1170.67" x2="624.58" y2="1170.67" stroke="#8a2be2" stroke-width="2.0"/><line x1="618.58" y1="1180.67" x2="624.58" y2="1180.67" stroke="#8a2be2" stroke-width="2.0"/>
<line x1="630.00" y1="1172.58" x2="630.00" y2="1182.58" stroke="#8a2be2" stroke-width="2.0"/><line x1="627.00" y1="1172.58" x2="633.00" y2="1172.58" stroke="#8a2be2" stroke-width="2.0"/><line x1="627.00" y1="1182.58" x2="633.00" y2="1182.58" stroke="#8a2be2" stroke-width="2.0"/>
<line x1="638.41" y1="1174.30" x2="638.41" y2="1184.32" stroke="#8a2be2" stroke-width="2.0"/><line x1="635.41" y1="1174.30" x2="641.41" y2="1174.30" stroke="#8a2be2" stroke-width="2.0"/><line x1="635.41" y1="1184.32" x2="641.41" y2="1184.32" stroke="#8a2be2" stroke-width="2.0"/>
<line x1="646.83" y1="1175.81" x2="646.83" y2="1185.89" stroke="#8a2be2" stroke-width="2.0"/><line x1="643.83" y1="1175.81" x2="649.83" y2="1175.81" stroke="#8a2be2" stroke-width="2.0"/><line x1="643.83" y1="1185.89" x2="649.83" y2="1185.89" stroke="#8a2be2" stroke-width="2.0"/>
<line x1="655.25" y1="1177.21" x2="655.25" y2="1187.48" stroke="#8a2be2" stroke-width="2.0"/><line x1="652.25" y1="1177.21" x2="658.25" y2="1177.21" stroke="#8a2be2" stroke-width="2.0"/><line x1="652.25" y1="1187.48" x2="658.25" y2="1187.48" stroke="#8a2be2" stroke-width="2.0"/>
<line x1="663.66" y1="1178.37" x2="663.66" y2="1189.03" stroke="#8a2be2" stroke-width="2.0"/><line x1="660.66" y1="1178.37" x2="666.66" y2="1178.37" stroke="#8a2be2" stroke-width="2.0"/><line x1="660.66" y1="1189.03" x2="666.66" y2="1189.03" stroke="#8a2be2" stroke-width="2.0"/>
<line x1="672.08" y1="1179.44" x2="672.08" y2="1190.82" stroke="#8a2be2" stroke-width="2.0"/><line x1="669.08" y1="1179.44" x2="675.08" y2="1179.44" stroke="#8a2be2" stroke-width="2.0"/><line x1="669.08" y1="1190.82" x2="675.08" y2="1190.82" stroke="#8a2be2" stroke-width="2.0"/>
<line x1="680.50" y1="1180.83" x2="680.50" y2="1193.38" stroke="#8a2be2" stroke-width="2.0"/><line x1="677.50" y1="1180.83" x2="683.50" y2="1180.83" stroke="#8a2be2" stroke-width="2.0"/><line x1="677.50" y1="1193.38" x2="683.50" y2="1193.38" stroke="#8a2be2" stroke-width="2.0"/>
<line x1="688.91" y1="1182.95" x2="688.91" y2="1197.30" stroke="#8a2be2" stroke-width="2.0"/><line x1="685.91" y1="1182.95" x2="691.91" y2="1182.95" stroke="#8a2be2" stroke-width="2.0"/><line x1="685.91" y1="1197.30" x2="691.91" y2="1197.30" stroke="#8a2be2" stroke-width="2.0"/>
<line x1="697.33" y1="1185.09" x2="697.33" y2="1202.05" stroke="#8a2be2" stroke-width="2.0"/><line x1="694.33" y1="1185.09" x2="700.33" y2="1185.09" stroke="#8a2be2" stroke-width="2.0"/><line x1="694.33" y1="1202.05" x2="700.33" y2="1202.05" stroke="#8a2be2" stroke-width="2.0"/>
<line x1="705.75" y1="1187.05" x2="705.75" y2="1207.66" stroke="#8a2be2" stroke-width="2.0"/><line x1="702.75" y1="1187.05" x2="708.75" y2="1187.05" stroke="#8a2be2" stroke-width="2.0"/><line x1="702.75" y1="1207.66" x2="708.75" y2="1207.66" stroke="#8a2be2" stroke-width="2.0"/>
<line x1="714.17" y1="1191.28" x2="714.17" y2="1216.81" stroke="#8a2be2" stroke-width="2.0"/><line x1="711.17" y1="1191.28" x2="717.17" y2="1191.28" stroke="#8a2be2" stroke-width="2.0"/><line x1="711.17" y1="1216.81" x2="717.17" y2="1216.81" stroke="#8a2be2" stroke-width="2.0"/>
<line x1="722.58" y1="1199.69" x2="722.58" y2="1231.69" stroke="#8a2be2" stroke-width="2.0"/><line x1="719.58" y1="1199.69" x2="725.58" y2="1199.69" stroke="#8a2be2" stroke-width="2.0"/><line x1="719.58" y1="1231.69" x2="725.58" y2="1231.69" stroke="#8a2be2" stroke-width="2.0"/>
<line x1="621.58" y1="1147.17" x2="621.58" y2="1204.17" stroke="#008000" stroke-width="4.0"/><line x1="621.58" y1="1147.17" x2="621.58" y2="1147.17" stroke="#008000" stroke-width="4.0"/><line x1="621.58" y1="1204.17" x2="621.58" y2="1204.17" stroke="#008000" stroke-width="4.0"/>
<line x1="617.08" y1="1147.17" x2="626.08" y2="1147.17" stroke="#008000" stroke-width="1.5"/>
<line x1="617.08" y1="1204.17" x2="626.08" y2="1204.17" stroke="#008000" stroke-width="1.5"/>
<polygon points="621.58,1170.17 616.63,1178.97 626.53,1178.97" fill="#008000" stroke="#004000" stroke-width="0.8"/>
<line x1="781.56" y1="1147.17" x2="781.56" y2="1204.17" stroke="#008000" stroke-width="4.0"/><line x1="781.56" y1="1147.17" x2="781.56" y2="1147.17" stroke="#008000" stroke-width="4.0"/><line x1="781.56" y1="1204.17" x2="781.56" y2="1204.17" stroke="#008000" stroke-width="4.0"/>
<line x1="777.06" y1="1147.17" x2="786.06" y2="1147.17" stroke="#008000" stroke-width="1.5"/>
<line x1="777.06" y1="1204.17" x2="786.06" y2="1204.17" stroke="#008000" stroke-width="1.5"/>
<polygon points="781.56,1170.17 776.61,1178.97 786.51,1178.97" fill="#008000" stroke="#004000" stroke-width="0.8"/>
</g>
<line x1="264.75" y1="1595.20" x2="264.75" y2="1586.20" stroke="#262626" stroke-width="0.8"/>
<line x1="264.75" y1="1143.40" x2="264.75" y2="1152.40" stroke="#262626" stroke-width="0.8"/>
<line x1="412.20" y1="1595.20" x2="412.20" y2="1586.20" stroke="#262626" stroke-width="0.8"/>
<line x1="412.20" y1="1143.40" x2="412.20" y2="1152.40" stroke="#262626" stroke-width="0.8"/>
<line x1="559.65" y1="1595.20" x2="559.65" y2="1586.20" stroke="#262626" stroke-width="0.8"/>
<line x1="559.65" y1="1143.40" x2="559.65" y2="1152.40" stroke="#262626" stroke-width="0.8"/>
<line x1="707.10" y1="1595.20" x2="707.10" y2="1586.20" stroke="#262626" stroke-width="0.8"/>
<line x1="707.10" y1="1143.40" x2="707.10" y2="1152.40" stroke="#262626" stroke-width="0.8"/>
<line x1="854.55" y1="1595.20" x2="854.55" y2="1586.20" stroke="#262626" stroke-width="0.8"/>
<line x1="854.55" y1="1143.40" x2="854.55" y2="1152.40" stroke="#262626" stroke-width="0.8"/>
<line x1="117.30" y1="1562.93" x2="124.80" y2="1562.93" stroke="#262626" stroke-width="0.8"/>
<line x1="1002.00" y1="1562.93" x2="994.50" y2="1562.93" stroke="#262626" stroke-width="0.8"/>
<line x1="117.30" y1="1498.39" x2="124.80" y2="1498.39" stroke="#262626" stroke-width="0.8"/>
<line x1="1002.00" y1="1498.39" x2="994.50" y2="1498.39" stroke="#262626" stroke-width="0.8"/>
<line x1="117.30" y1="1433.84" x2="124.80" y2="1433.84" stroke="#262626" stroke-width="0.8"/>
<line x1="1002.00" y1="1433.84" x2="994.50" y2="1433.84" stroke="#262626" stroke-width="0.8"/>
<line x1="117.30" y1="1369.30" x2="124.80" y2="1369.30" stroke="#262626" stroke-width="0.8"/>
<line x1="1002.00" y1="1369.30" x2="994.50" y2="1369.30" stroke="#262626" stroke-width="0.8"/>
<line x1="117.30" y1="1304.76" x2="124.80" y2="1304.76" stroke="#262626" stroke-width="0.8"/>
<line x1="1002.00" y1="1304.76" x2="994.50" y2="1304.76" stroke="#262626" stroke-width="0.8"/>
<line x1="117.30" y1="1240.21" x2="124.80" y2="1240.21" stroke="#262626" stroke-width="0.8"/>
<line x1="1002.00" y1="1240.21" x2="994.50" y2="1240.21" stroke="#262626" stroke-width="0.8"/>
<line x1="117.30" y1="1175.67" x2="124.80" y2="1175.67" stroke="#262626" stroke-width="0.8"/>
<line x1="1002.00" y1="1175.67" x2="994.50" y2="1175.67" stroke="#262626" stroke-width="0.8"/>
<rect x="117.30" y="1143.40" width="884.70" height="451.80" fill="none" stroke="#262626" stroke-width="1.5"/>
<text x="101.55" y="1628.60" font-family='"Liberation Sans", sans-serif' font-size="33">2</text>
<text x="119.90" y="1628.60" font-family='"Liberation Sans", sans-serif' font-size="33">4</text>
<text x="249.00" y="1628.60" font-family='"Liberation Sans", sans-serif' font-size="33">2</text>
<text x="267.35" y="1628.60" font-family='"Liberation Sans", sans-serif' font-size="33">6</text>
<text x="396.45" y="1628.60" font-family='"Liberation Sans", sans-serif' font-size="33">2</text>
<text x="414.80" y="1628.60" font-family='"Liberation Sans", sans-serif' font-size="33">8</text>
<text x="543.90" y="1628.60" font-family='"Liberation Sans", sans-serif' font-size="33">3</text>
<text x="562.25" y="1628.60" font-family='"Liberation Sans", sans-serif' font-size="33">0</text>
<text x="691.35" y="1628.60" font-family='"Liberation Sans", sans-serif' font-size="33">3</text>
<text x="709.70" y="1628.60" font-family='"Liberation Sans", sans-serif' font-size="33">2</text>
<text x="838.80" y="1628.60" font-family='"Liberation Sans", sans-serif' font-size="33">3</text>
<text x="857.15" y="1628.60" font-family='"Liberation Sans", sans-serif' font-size="33">4</text>
<text x="986.25" y="1628.60" font-family='"Liberation Sans", sans-serif' font-size="33">3</text>
<text x="1004.60" y="1628.60" font-family='"Liberation Sans", sans-serif' font-size="33">6</text>
<rect x="55.58" y="1564.39" width="17.16" height="2.24" fill="#000"/>
<path transform="translate(73.69,1573.53) scale(0.01611,-0.01611)" d="M696 0 H516 V1098 Q451 1039 345 980 Q240 920 156 890 V1057 Q307 1124 420 1221 Q533 1318 580 1409 H696 Z" fill="#000"/>
<text x="92.05" y="1573.53" font-family='"Liberation Sans", sans-serif' font-size="33">2</text>
<rect x="55.58" y="1499.84" width="17.16" height="2.24" fill="#000"/>
<path transform="translate(73.69,1508.99) scale(0.01611,-0.01611)" d="M696 0 H516 V1098 Q451 1039 345 980 Q240 920 156 890 V1057 Q307 1124 420 1221 Q533 1318 580 1409 H696 Z" fill="#000"/>
<text x="92.05" y="1508.99" font-family='"Liberation Sans", sans-serif' font-size="33">0</text>
<rect x="73.93" y="1435.30" width="17.16" height="2.24" fill="#000"/>
<text x="92.05" y="1444.44" font-family='"Liberation Sans", sans-serif' font-size="33">8</text>
<rect x="73.93" y="1370.76" width="17.16" height="2.24" fill="#000"/>
<text x="92.05" y="1379.90" font-family='"Liberation Sans", sans-serif' font-size="33">6</text>
<rect x="73.93" y="1306.22" width="17.16" height="2.24" fill="#000"/>
<text x="92.05" y="1315.36" font-family='"Liberation Sans", sans-serif' font-size="33">4</text>
<rect x="73.93" y="1241.67" width="17.16" height="2.24" fill="#000"/>
<text x="92.05" y="1250.81" font-family='"Liberation Sans", sans-serif' font-size="33">2</text>
<text x="92.05" y="1186.27" font-family='"Liberation Sans", sans-serif' font-size="33">0</text>
<text x="560.00" y="1667.10" font-family='"Liberation Sans", sans-serif' font-size="35.3" text-anchor="middle" fill="#000" >Stress σ (N/m)</text>
<text transform="translate(35,1370.3) rotate(-90)" font-family='"Liberation Sans", sans-serif' font-size="35.6" text-anchor="middle">Enthalpy <tspan font-style="italic">H</tspan>−<tspan font-style="italic">H</tspan><tspan font-size="20.5" dy="8.5">SEM</tspan><tspan dy="-8.5"> (meV/atom)</tspan></text>
<text transform="translate(0.10,1109.30) scale(1.1000,1)" font-family='"Liberation Sans", sans-serif' font-size="40.5" text-anchor="start" fill="#000" >(c)</text>
<line x1="191.10" y1="1185.00" x2="191.10" y2="1213.00" stroke="#0000ff" stroke-width="2"/>
<polygon points="191.10,1183.00 196.10,1187.50 191.10,1186.20 186.10,1187.50" fill="#0000ff"/>
<text x="126.5" y="1237.7" font-family='"Liberation Serif", serif' font-size="37.5" fill="#0000ff"><tspan font-style="italic">ε</tspan> ≈ 8.5%</text>
<line x1="723.00" y1="1235.20" x2="723.00" y2="1300.50" stroke="#8a2be2" stroke-width="2"/>
<polygon points="723.00,1233.20 728.00,1237.70 723.00,1236.40 718.00,1237.70" fill="#8a2be2"/>
<text x="666.60" y="1326.80" font-family='"Liberation Serif", serif' font-size="37.5" text-anchor="start" fill="#8a2be2" >≈14.5%</text>
<line x1="850.90" y1="1183.40" x2="850.90" y2="1214.00" stroke="#000" stroke-width="2"/>
<polygon points="850.90,1181.40 855.90,1185.90 850.90,1184.60 845.90,1185.90" fill="#000"/>
<text x="795.00" y="1237.70" font-family='"Liberation Serif", serif' font-size="37.5" text-anchor="start" fill="#000" >≈19.8%</text>
<line x1="860.70" y1="1481.70" x2="860.70" y2="1512.70" stroke="#ff00ff" stroke-width="2"/>
<polygon points="860.70,1479.70 865.70,1484.20 860.70,1482.90 855.70,1484.20" fill="#ff00ff"/>
<text x="806.80" y="1534.60" font-family='"Liberation Serif", serif' font-size="37.5" text-anchor="start" fill="#ff00ff" >≈18.6%</text>
<line x1="586.20" y1="1506.80" x2="586.20" y2="1536.80" stroke="#0000ff" stroke-width="2"/>
<polygon points="586.20,1504.80 591.20,1509.30 586.20,1508.00 581.20,1509.30" fill="#0000ff"/>
<text x="525.50" y="1561.00" font-family='"Liberation Serif", serif' font-size="37.5" text-anchor="start" fill="#0000ff" >≈ 15.2%</text>
<rect x="134.8" y="1365.6" width="344.4" height="213.2" fill="#fff" stroke="#262626" stroke-width="1.3"/>
<text x="257.80" y="1405.90" font-family='"Liberation Sans", sans-serif' font-size="33" text-anchor="start" fill="#000" >DMC DIM</text>
<text x="257.80" y="1443.80" font-family='"Liberation Sans", sans-serif' font-size="33" text-anchor="start" fill="#000" >DMC AFI UB</text>
<text x="257.80" y="1482.10" font-family='"Liberation Sans", sans-serif' font-size="33" text-anchor="start" fill="#000" >DMC DIM UB</text>
<text x="257.80" y="1520.70" font-family='"Liberation Sans", sans-serif' font-size="33" text-anchor="start" fill="#000" >DFT AFI</text>
<text x="257.80" y="1558.70" font-family='"Liberation Sans", sans-serif' font-size="33" text-anchor="start" fill="#000" >DFT DIM</text>
<line x1="141.80" y1="1391.90" x2="227.10" y2="1391.90" stroke="#0000ff" stroke-width="3.6"/>
<line x1="141.80" y1="1387.90" x2="141.80" y2="1395.90" stroke="#0000ff" stroke-width="1.2"/>
<line x1="227.10" y1="1387.90" x2="227.10" y2="1395.90" stroke="#0000ff" stroke-width="1.2"/>
<line x1="178.00" y1="1387.90" x2="178.00" y2="1395.90" stroke="#0000ff" stroke-width="1.2"/>
<line x1="192.00" y1="1387.90" x2="192.00" y2="1395.90" stroke="#0000ff" stroke-width="1.2"/>
<line x1="141.80" y1="1429.80" x2="227.10" y2="1429.80" stroke="#008000" stroke-width="3.6"/>
<line x1="159.70" y1="1412.80" x2="159.70" y2="1446.80" stroke="#008000" stroke-width="3.6"/><line x1="155.70" y1="1412.80" x2="163.70" y2="1412.80" stroke="#008000" stroke-width="3.6"/><line x1="155.70" y1="1446.80" x2="163.70" y2="1446.80" stroke="#008000" stroke-width="3.6"/>
<polygon points="159.70,1424.30 154.75,1433.10 164.65,1433.10" fill="#008000" stroke="#004000" stroke-width="0.8"/>
<line x1="210.30" y1="1412.80" x2="210.30" y2="1446.80" stroke="#008000" stroke-width="3.6"/><line x1="206.30" y1="1412.80" x2="214.30" y2="1412.80" stroke="#008000" stroke-width="3.6"/><line x1="206.30" y1="1446.80" x2="214.30" y2="1446.80" stroke="#008000" stroke-width="3.6"/>
<polygon points="210.30,1424.30 205.35,1433.10 215.25,1433.10" fill="#008000" stroke="#004000" stroke-width="0.8"/>
<line x1="141.80" y1="1468.10" x2="227.10" y2="1468.10" stroke="#00ffff" stroke-width="3.6"/>
<line x1="159.70" y1="1451.10" x2="159.70" y2="1485.10" stroke="#00ffff" stroke-width="3.6"/><line x1="155.70" y1="1451.10" x2="163.70" y2="1451.10" stroke="#00ffff" stroke-width="3.6"/><line x1="155.70" y1="1485.10" x2="163.70" y2="1485.10" stroke="#00ffff" stroke-width="3.6"/>
<polygon points="159.70,1474.10 154.30,1464.50 165.10,1464.50" fill="#00ffff" stroke="#008080" stroke-width="0.8"/>
<line x1="210.30" y1="1451.10" x2="210.30" y2="1485.10" stroke="#00ffff" stroke-width="3.6"/><line x1="206.30" y1="1451.10" x2="214.30" y2="1451.10" stroke="#00ffff" stroke-width="3.6"/><line x1="206.30" y1="1485.10" x2="214.30" y2="1485.10" stroke="#00ffff" stroke-width="3.6"/>
<polygon points="210.30,1474.10 204.90,1464.50 215.70,1464.50" fill="#00ffff" stroke="#008080" stroke-width="0.8"/>
<line x1="141.80" y1="1506.70" x2="177.50" y2="1506.70" stroke="#ff00ff" stroke-width="3.6"/>
<line x1="184.50" y1="1506.70" x2="227.10" y2="1506.70" stroke="#ff00ff" stroke-width="3.6"/>
<line x1="159.70" y1="1489.70" x2="159.70" y2="1523.70" stroke="#ff00ff" stroke-width="3.6"/><line x1="155.70" y1="1489.70" x2="163.70" y2="1489.70" stroke="#ff00ff" stroke-width="3.6"/><line x1="155.70" y1="1523.70" x2="163.70" y2="1523.70" stroke="#ff00ff" stroke-width="3.6"/>
<line x1="210.30" y1="1489.70" x2="210.30" y2="1523.70" stroke="#ff00ff" stroke-width="3.6"/><line x1="206.30" y1="1489.70" x2="214.30" y2="1489.70" stroke="#ff00ff" stroke-width="3.6"/><line x1="206.30" y1="1523.70" x2="214.30" y2="1523.70" stroke="#ff00ff" stroke-width="3.6"/>
<line x1="141.80" y1="1544.70" x2="227.10" y2="1544.70" stroke="#8a2be2" stroke-width="3.6"/>
<line x1="159.70" y1="1527.70" x2="159.70" y2="1561.70" stroke="#8a2be2" stroke-width="3.6"/><line x1="155.70" y1="1527.70" x2="163.70" y2="1527.70" stroke="#8a2be2" stroke-width="3.6"/><line x1="155.70" y1="1561.70" x2="163.70" y2="1561.70" stroke="#8a2be2" stroke-width="3.6"/>
<line x1="210.30" y1="1527.70" x2="210.30" y2="1561.70" stroke="#8a2be2" stroke-width="3.6"/><line x1="206.30" y1="1527.70" x2="214.30" y2="1527.70" stroke="#8a2be2" stroke-width="3.6"/><line x1="206.30" y1="1561.70" x2="214.30" y2="1561.70" stroke="#8a2be2" stroke-width="3.6"/>
</svg>
</body></html>
